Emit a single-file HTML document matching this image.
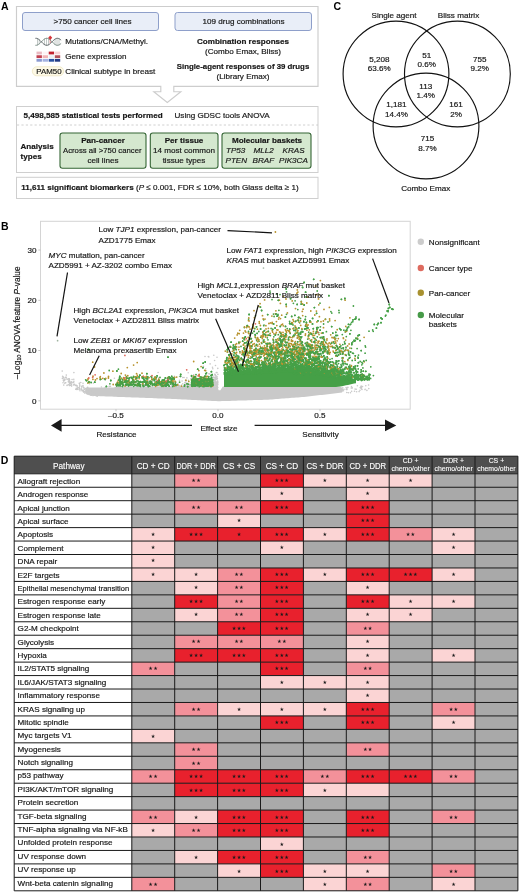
<!DOCTYPE html>
<html><head><meta charset="utf-8"><title>Figure</title>
<style>
html,body{margin:0;padding:0;background:#fff;}
body{width:520px;height:894px;overflow:hidden;position:relative;font-family:"Liberation Sans", Arial, Helvetica, sans-serif;}
svg{position:absolute;left:0;top:0;display:block}
text{font-family:"Liberation Sans", Arial, Helvetica, sans-serif;font-size:8.1px;fill:#151515;stroke:#151515;stroke-width:0.18px;paint-order:stroke}
.b{font-weight:bold}
.i{font-style:italic}
.m{text-anchor:middle}
.e{text-anchor:end}
.lbl{font-weight:bold;font-size:10.5px;fill:#000;stroke:none}
.hd{fill:#fff;stroke:#fff;stroke-width:0.12px;text-anchor:middle;font-size:8.2px}
.hs{fill:#fff;stroke:#fff;stroke-width:0.1px;text-anchor:middle;font-size:6.9px}
.st{font-family:"DejaVu Sans",sans-serif;font-size:5.2px;text-anchor:middle;fill:#1a1a1a;stroke:none}
.ann{font-size:8.1px}
</style></head><body>
<svg width="520" height="894" viewBox="0 0 520 894">
<rect x="0" y="0" width="520" height="894" fill="#fff"/>

<g id="panelA">
<text class="lbl" x="1" y="10.3">A</text>
<path d="M16.5 6.5 H318 V86.3 H173.8 V91.7 H180.8 L167.3 102.5 L153.8 91.7 H160.8 V86.3 H16.5 Z" fill="#fff" stroke="#cdcdcd" stroke-width="1.15"/>
<rect x="22.5" y="12.5" width="136" height="18" rx="2.5" fill="#e9eef8" stroke="#8e9fca" stroke-width="1"/>
<rect x="175" y="12.5" width="136.5" height="18" rx="2.5" fill="#e9eef8" stroke="#8e9fca" stroke-width="1"/>
<text class="m" x="92.5" y="24.4">&gt;750 cancer cell lines</text>
<text class="m" x="243.5" y="24.4">109 drug combinations</text>
<g fill="none" stroke-linecap="round"><path d="M37.5 38.63V44.97M39.2 39.73V43.87M44.5 44.59V39.01M46.5 45.29V38.31M48.5 44.82V38.78M55 39.13V44.47M57 38.32V45.28M59 38.68V44.92" stroke="#8f9c99" stroke-width="0.55"/><path d="M50.2 39.5v3.2" stroke="#d9474a" stroke-width="0.7"/><path d="M35.8 45.29 L36.3 45.29 L36.8 45.20 L37.3 45.05 L37.8 44.82 L38.3 44.53 L38.8 44.18 L39.3 43.78 L39.8 43.34 L40.3 42.86 L40.8 42.36 L41.3 41.85 L41.8 41.34 L42.3 40.84 L42.8 40.35 L43.3 39.90 L43.8 39.49 L44.3 39.13 L44.8 38.83 L45.3 38.59 L45.8 38.42 L46.3 38.32 L46.8 38.30 L47.3 38.35 L47.8 38.48 L48.3 38.68 L48.8 38.94 L49.3 39.27 L49.8 39.65 L50.3 40.08 L50.8 40.54 L51.3 41.04 L51.8 41.54 L52.3 42.06 L52.8 42.56 L53.3 43.06 L53.8 43.52 L54.3 43.95 L54.8 44.33 L55.3 44.66 L55.8 44.92 L56.3 45.12 L56.8 45.25 L57.3 45.30 L57.8 45.28 L58.3 45.18 L58.8 45.01 L59.3 44.77 L59.8 44.47 L60.3 44.11 L60.8 43.70" stroke="#6d8279" stroke-width="0.95"/><path d="M35.8 38.31 L36.3 38.31 L36.8 38.40 L37.3 38.55 L37.8 38.78 L38.3 39.07 L38.8 39.42 L39.3 39.82 L39.8 40.26 L40.3 40.74 L40.8 41.24 L41.3 41.75 L41.8 42.26 L42.3 42.76 L42.8 43.25 L43.3 43.70 L43.8 44.11 L44.3 44.47 L44.8 44.77 L45.3 45.01 L45.8 45.18 L46.3 45.28 L46.8 45.30 L47.3 45.25 L47.8 45.12 L48.3 44.92 L48.8 44.66 L49.3 44.33 L49.8 43.95 L50.3 43.52 L50.8 43.06 L51.3 42.56 L51.8 42.06 L52.3 41.54 L52.8 41.04 L53.3 40.54 L53.8 40.08 L54.3 39.65 L54.8 39.27 L55.3 38.94 L55.8 38.68 L56.3 38.48 L56.8 38.35 L57.3 38.30 L57.8 38.32 L58.3 38.42 L58.8 38.59 L59.3 38.83 L59.8 39.13 L60.3 39.49 L60.8 39.90" stroke="#4f5559" stroke-width="0.95"/></g>
<path d="M50.2 35.6 L52.2 37.8 L50.2 40 L48.2 37.8 Z" fill="#d5343a"/>
<rect x="36.5" y="51.60" width="5.4" height="2.8" fill="#e9b9c1"/>
<rect x="42.6" y="51.60" width="5.4" height="2.8" fill="#fdf3f4"/>
<rect x="48.7" y="51.60" width="5.4" height="2.8" fill="#c0212f"/>
<rect x="54.8" y="51.60" width="5.4" height="2.8" fill="#f8d2d6"/>
<rect x="36.5" y="55.25" width="5.4" height="2.8" fill="#c2404f"/>
<rect x="42.6" y="55.25" width="5.4" height="2.8" fill="#f1b4b6"/>
<rect x="48.7" y="55.25" width="5.4" height="2.8" fill="#e9f0f4"/>
<rect x="54.8" y="55.25" width="5.4" height="2.8" fill="#b2525b"/>
<rect x="36.5" y="58.90" width="5.4" height="2.8" fill="#8a9ad2"/>
<rect x="42.6" y="58.90" width="5.4" height="2.8" fill="#a4b3e2"/>
<rect x="48.7" y="58.90" width="5.4" height="2.8" fill="#2a52a2"/>
<rect x="54.8" y="58.90" width="5.4" height="2.8" fill="#213a84"/>
<rect x="32.3" y="66.7" width="31.4" height="9.1" rx="4.55" fill="#fdf9e6" stroke="#ece4bb" stroke-width="0.7"/>
<text class="m" x="48.9" y="74.3" textLength="25.3" lengthAdjust="spacingAndGlyphs">PAM50</text>
<text x="65.3" y="44.2">Mutations/CNA/Methyl.</text>
<text x="65.3" y="59">Gene expression</text>
<text x="65.3" y="74.3">Clinical subtype in breast</text>
<text class="m b" x="243" y="44.3">Combination responses</text>
<text class="m" x="243" y="54.3">(Combo Emax, Bliss)</text>
<text class="m b" x="243" y="69.3" textLength="132.5" lengthAdjust="spacingAndGlyphs">Single-agent responses of 39 drugs</text>
<text class="m" x="243" y="79.3">(Library Emax)</text>
<rect x="16.5" y="106.5" width="301.5" height="66" fill="#fff" stroke="#cfcfcf" stroke-width="1"/>
<line x1="17" y1="125" x2="318" y2="125" stroke="#c4c4c4" stroke-width="0.8" stroke-dasharray="2.2 2.2"/>
<text class="b" x="23.6" y="118.3">5,498,585 statistical tests performed</text>
<text x="174.5" y="118.3">Using GDSC tools ANOVA</text>
<text class="b" x="20.5" y="148.8">Analysis</text>
<text class="b" x="20.5" y="158.7">types</text>
<rect x="60" y="133" width="86" height="35.3" rx="2.5" fill="#d5e8cf" stroke="#356535" stroke-width="1.1"/>
<rect x="150.3" y="133" width="67.7" height="35.3" rx="2.5" fill="#d5e8cf" stroke="#356535" stroke-width="1.1"/>
<rect x="222" y="133" width="89" height="35.3" rx="2.5" fill="#d5e8cf" stroke="#356535" stroke-width="1.1"/>
<text class="m b" x="103" y="142.7">Pan-cancer</text>
<text class="m" x="102.3" y="152.7" textLength="78.6" lengthAdjust="spacingAndGlyphs">Across all &gt;750 cancer</text>
<text class="m" x="103" y="162.5">cell lines</text>
<text class="m b" x="184" y="142.7">Per tissue</text>
<text class="m" x="184" y="152.7">14 most common</text>
<text class="m" x="184" y="162.5">tissue types</text>
<text class="m b" x="267" y="142.7">Molecular baskets</text>
<text class="i" x="226" y="152.7">TP53</text><text class="i" x="253.5" y="152.7">MLL2</text><text class="i" x="282.5" y="152.7">KRAS</text>
<text class="i" x="225.5" y="162.5">PTEN</text><text class="i" x="252.5" y="162.5">BRAF</text><text class="i" x="279" y="162.5">PIK3CA</text>
<rect x="16.5" y="177.3" width="301.5" height="21.2" fill="#fff" stroke="#cfcfcf" stroke-width="1"/>
<text x="21.2" y="189.8"><tspan class="b">11,611 significant biomarkers</tspan> (<tspan class="i">P</tspan> ≤ 0.001, FDR ≤ 10%, both Glass delta ≥ 1)</text>
</g>
<g id="panelC">
<text class="lbl" x="333.5" y="10">C</text>
<circle cx="396" cy="74" r="52.9" fill="none" stroke="#111" stroke-width="1.15"/>
<circle cx="457.4" cy="74" r="52.9" fill="none" stroke="#111" stroke-width="1.15"/>
<circle cx="426" cy="126" r="52.9" fill="none" stroke="#111" stroke-width="1.15"/>
<text class="m" x="394" y="17.9">Single agent</text>
<text class="m" x="458.5" y="17.9">Bliss matrix</text>
<text class="m" x="425.7" y="190.7">Combo Emax</text>
<text class="m" x="379.3" y="61.5">5,208</text><text class="m" x="379.3" y="71.1">63.6%</text>
<text class="m" x="426.8" y="57.8">51</text><text class="m" x="426.8" y="67.39999999999999">0.6%</text>
<text class="m" x="479.8" y="61.5">755</text><text class="m" x="479.8" y="71.1">9.2%</text>
<text class="m" x="425.7" y="88.8">113</text><text class="m" x="425.7" y="98.39999999999999">1.4%</text>
<text class="m" x="396.5" y="107.4">1,181</text><text class="m" x="396.5" y="117.0">14.4%</text>
<text class="m" x="456" y="107.4">161</text><text class="m" x="456" y="117.0">2%</text>
<text class="m" x="427.6" y="141.4">715</text><text class="m" x="427.6" y="151.0">8.7%</text>
</g>
<g id="panelB">
<text class="lbl" x="1" y="229.5">B</text>
<rect x="40.5" y="221.3" width="369.7" height="187.9" fill="#fff" stroke="#d4d4d4" stroke-width="1"/>
<line x1="38.3" y1="400.8" x2="40.5" y2="400.8" stroke="#bbb" stroke-width="0.8"/>
<text class="e" x="36.5" y="403.7">0</text>
<line x1="38.3" y1="350.5" x2="40.5" y2="350.5" stroke="#bbb" stroke-width="0.8"/>
<text class="e" x="36.5" y="353.4">10</text>
<line x1="38.3" y1="300.3" x2="40.5" y2="300.3" stroke="#bbb" stroke-width="0.8"/>
<text class="e" x="36.5" y="303.2">20</text>
<line x1="38.3" y1="250.0" x2="40.5" y2="250.0" stroke="#bbb" stroke-width="0.8"/>
<text class="e" x="36.5" y="252.9">30</text>
<line x1="116.0" y1="409.2" x2="116.0" y2="411.2" stroke="#bbb" stroke-width="0.8"/>
<text class="m" x="116.0" y="418.2">–0.5</text>
<line x1="218.0" y1="409.2" x2="218.0" y2="411.2" stroke="#bbb" stroke-width="0.8"/>
<text class="m" x="218.0" y="418.2">0.0</text>
<line x1="320.0" y1="409.2" x2="320.0" y2="411.2" stroke="#bbb" stroke-width="0.8"/>
<text class="m" x="320.0" y="418.2">0.5</text>
<text class="m" style="font-size:8.27px" transform="translate(19.5,322.8) rotate(-90)">–Log<tspan font-size="5.6px" dy="1.8">10</tspan><tspan dy="-1.8"> ANOVA feature </tspan><tspan class="i">P</tspan>-value</text>
<text class="m" x="219" y="430.8">Effect size</text>
<text class="m" x="116.5" y="437.4">Resistance</text>
<text class="m" x="320.5" y="437.4">Sensitivity</text>
<path d="M60 425.4 H192 M254.6 425.4 H386" stroke="#1a1a1a" stroke-width="1.3" fill="none"/>
<path d="M51 425.4 L61.6 419 V431.8 Z M396.3 425.4 L385 419.6 V431.2 Z" fill="#1a1a1a"/>
<path d="M86.0 387.4 L88.0 387.4 L90.0 387.4 L92.0 387.4 L94.0 387.4 L96.0 387.4 L98.0 387.4 L100.0 387.4 L102.0 387.4 L104.0 387.4 L106.0 387.4 L108.0 387.4 L110.0 387.4 L112.0 387.4 L114.0 387.4 L116.0 386.6 L118.0 386.6 L120.0 386.6 L122.0 386.6 L124.0 386.6 L126.0 386.6 L128.0 386.6 L130.0 386.6 L132.0 386.6 L134.0 386.6 L136.0 386.6 L138.0 386.6 L140.0 386.6 L142.0 386.6 L144.0 386.6 L146.0 386.6 L148.0 386.6 L150.0 386.6 L152.0 386.6 L154.0 386.6 L156.0 386.6 L158.0 386.6 L160.0 386.6 L162.0 386.6 L164.0 386.6 L166.0 386.6 L168.0 386.6 L170.0 386.6 L172.0 386.6 L174.0 386.6 L176.0 386.6 L178.0 386.6 L180.0 386.6 L182.0 386.6 L184.0 386.6 L186.0 386.6 L188.0 386.6 L190.0 386.6 L192.0 386.6 L194.0 386.6 L196.0 386.6 L198.0 386.6 L200.0 386.6 L202.0 386.6 L204.0 386.6 L206.0 386.6 L208.0 386.6 L210.0 386.6 L212.0 386.6 L214.0 386.6 L216.0 386.6 L217.6 386.6 L218.6 390.3 L220.4 390.3 L222.8 386.6 L224.0 386.6 L226.0 386.6 L228.0 386.6 L230.0 386.6 L232.0 386.6 L234.0 386.6 L236.0 386.6 L238.0 386.6 L240.0 386.6 L242.0 386.6 L244.0 386.6 L246.0 386.6 L248.0 386.6 L250.0 386.6 L252.0 386.6 L254.0 386.6 L256.0 386.6 L258.0 386.6 L260.0 386.6 L262.0 386.6 L264.0 386.6 L266.0 386.6 L268.0 386.6 L270.0 386.6 L272.0 386.6 L274.0 386.6 L276.0 386.6 L278.0 386.6 L280.0 386.6 L282.0 386.6 L284.0 386.6 L286.0 386.6 L288.0 386.6 L290.0 386.6 L292.0 386.6 L294.0 386.6 L296.0 386.6 L298.0 386.6 L300.0 386.6 L302.0 386.6 L304.0 386.6 L306.0 386.6 L308.0 386.6 L310.0 386.6 L312.0 386.6 L314.0 386.6 L316.0 386.6 L318.0 386.6 L320.0 386.6 L322.0 386.6 L324.0 386.6 L326.0 386.6 L328.0 386.6 L330.0 386.6 L332.0 386.6 L334.0 386.6 L336.0 386.6 L338.0 386.6 L340.0 386.6 L342.5 388.0 L343.0 391.0 L342.0 392.4 L340.0 392.7 L338.0 392.9 L336.0 393.2 L334.0 393.5 L332.0 393.7 L330.0 394.0 L328.0 394.2 L326.0 394.4 L324.0 394.7 L322.0 394.9 L320.0 395.1 L318.0 395.3 L316.0 395.6 L314.0 395.8 L312.0 396.0 L310.0 396.2 L308.0 396.5 L306.0 396.7 L304.0 396.9 L302.0 397.0 L300.0 397.2 L298.0 397.4 L296.0 397.5 L294.0 397.7 L292.0 397.8 L290.0 398.0 L288.0 398.2 L286.0 398.3 L284.0 398.5 L282.0 398.6 L280.0 398.8 L278.0 399.0 L276.0 399.1 L274.0 399.3 L272.0 399.4 L270.0 399.6 L268.0 399.7 L266.0 399.7 L264.0 399.8 L262.0 399.9 L260.0 399.9 L258.0 400.0 L256.0 400.0 L254.0 400.1 L252.0 400.2 L250.0 400.2 L248.0 400.3 L246.0 400.4 L244.0 400.4 L242.0 400.5 L240.0 400.5 L238.0 400.6 L236.0 400.7 L234.0 400.7 L232.0 400.8 L230.0 400.9 L228.0 400.9 L226.0 401.0 L224.0 401.0 L222.0 401.1 L220.0 401.2 L218.0 401.2 L216.0 401.1 L214.0 401.0 L212.0 400.9 L210.0 400.8 L208.0 400.7 L206.0 400.6 L204.0 400.5 L202.0 400.4 L200.0 400.3 L198.0 400.2 L196.0 400.1 L194.0 400.0 L192.0 399.9 L190.0 399.8 L188.0 399.7 L186.0 399.6 L184.0 399.5 L182.0 399.4 L180.0 399.3 L178.0 399.2 L176.0 399.1 L174.0 399.0 L172.0 398.9 L170.0 398.8 L168.0 398.7 L166.0 398.7 L164.0 398.6 L162.0 398.5 L160.0 398.4 L158.0 398.4 L156.0 398.3 L154.0 398.2 L152.0 398.1 L150.0 398.1 L148.0 398.0 L146.0 397.9 L144.0 397.8 L142.0 397.8 L140.0 397.7 L138.0 397.6 L136.0 397.5 L134.0 397.5 L132.0 397.4 L130.0 397.3 L128.0 397.2 L126.0 397.2 L124.0 397.1 L122.0 397.0 L120.0 396.9 L118.0 396.9 L116.0 396.8 L114.0 396.7 L112.0 396.6 L110.0 396.6 L108.0 396.5 L106.0 396.4 L104.0 396.3 L102.0 396.3 L100.0 396.2 L98.0 396.1 L96.0 396.0 L94.0 395.8 L92.0 395.4 L90.0 395.0 L88.0 394.6 L86.0 394.2 Z" fill="#c9c9c9"/>
<path d="M85.8 390.6h0M70.6 382.3h0M62.2 371.1h0M79.8 389.4h0M71.7 382.8h0M83.0 383.2h0M70.2 383.2h0M63.7 381.1h0M79.7 384.2h0M81.5 388.9h0M62.4 378.4h0M69.6 384.0h0M93.5 395.1h0M95.5 392.5h0M86.3 388.6h0M82.6 390.4h0M75.7 389.3h0M76.7 389.5h0M93.0 390.9h0M84.4 389.4h0M87.7 393.9h0M71.1 385.3h0M98.8 393.5h0M73.4 382.2h0M67.0 379.2h0M96.3 394.2h0M69.3 378.9h0M68.9 379.9h0M83.6 390.5h0M71.1 383.1h0M79.8 385.5h0M90.6 395.1h0M63.2 376.9h0M87.0 392.2h0M95.2 394.8h0M88.0 393.4h0M91.1 392.3h0M97.5 396.1h0M92.8 394.8h0M93.0 395.6h0M92.1 392.6h0M70.6 385.3h0M68.8 379.8h0M83.8 391.5h0M98.2 394.8h0M81.6 387.1h0M90.2 394.4h0M95.4 394.3h0M64.6 380.4h0M98.1 394.9h0M87.7 387.4h0M98.9 393.1h0M69.7 385.6h0M96.8 394.5h0M84.9 391.7h0M87.1 393.0h0M79.7 388.6h0M69.0 384.7h0M91.0 392.0h0M66.3 375.1h0M95.4 394.8h0M63.8 385.1h0M71.6 386.1h0M83.5 392.1h0M68.3 384.8h0M73.8 379.2h0M92.8 391.6h0M69.3 382.8h0M92.5 390.5h0M63.9 378.0h0M66.3 377.2h0M73.9 372.6h0M66.9 378.8h0M69.5 379.8h0M85.2 392.9h0M86.0 391.5h0M95.0 393.6h0M63.0 382.7h0M83.4 391.6h0M71.6 381.7h0M65.8 382.8h0M87.2 390.1h0M76.1 385.7h0M71.4 384.5h0M65.1 379.3h0M73.4 385.0h0M67.0 385.4h0M65.1 382.7h0M73.6 382.4h0M69.1 380.0h0M76.3 388.2h0M89.6 383.8h0M87.6 388.0h0M81.7 386.4h0M72.1 379.5h0M96.1 395.8h0M92.4 391.3h0M99.9 393.4h0M91.5 395.2h0M69.0 380.8h0M89.4 392.9h0M78.0 387.7h0M82.6 390.8h0M89.4 393.4h0M96.9 394.5h0M90.9 391.5h0M93.4 383.1h0M65.5 377.4h0M68.7 378.8h0M90.5 393.9h0M70.3 382.7h0M80.0 390.7h0M73.9 381.2h0M64.2 379.2h0M77.0 388.7h0M63.3 380.3h0M68.7 381.1h0M69.0 381.0h0M82.0 390.7h0M85.9 390.0h0M92.1 392.8h0M67.2 379.5h0M97.8 394.7h0M69.9 382.5h0M96.8 396.0h0M84.8 393.1h0M79.7 386.2h0M93.5 390.1h0M94.3 394.9h0M73.5 385.0h0M68.3 381.7h0M74.5 384.2h0M81.5 389.6h0M83.9 387.6h0M92.5 392.1h0M98.1 393.4h0M88.3 391.1h0M87.4 393.0h0M91.2 394.4h0M62.6 376.2h0M77.5 387.1h0M89.8 393.9h0M83.2 387.1h0M79.2 387.5h0M64.8 383.2h0M69.4 381.0h0M79.3 383.4h0M83.0 385.6h0M85.6 388.5h0M86.4 391.0h0M77.1 385.8h0M79.7 385.2h0M74.8 384.7h0M94.1 393.4h0M89.1 394.6h0M94.7 394.6h0M87.3 392.4h0M78.0 389.4h0M73.1 382.7h0M75.4 385.2h0M84.1 388.9h0M76.3 385.3h0M80.8 382.5h0M94.9 395.3h0M69.5 381.1h0M93.4 394.7h0M79.4 383.3h0M69.7 381.7h0M91.3 394.9h0M93.1 393.6h0M362.5 386.6h0M361.3 387.6h0M361.1 386.8h0M356.3 389.2h0M360.9 386.5h0M351.2 388.0h0M344.0 389.2h0M365.2 389.3h0M347.9 387.4h0M351.6 391.3h0M356.6 391.7h0M361.7 389.1h0M365.0 389.6h0M352.3 387.9h0M355.1 389.1h0M346.3 389.4h0M361.2 386.0h0M346.1 387.6h0M350.5 392.7h0M342.8 387.7h0M347.0 389.6h0M342.5 389.5h0M346.9 388.3h0M365.8 385.8h0M360.5 387.9h0M354.5 391.3h0M346.8 392.5h0M368.8 388.6h0M343.5 390.8h0M360.0 390.3h0M348.4 392.7h0M368.6 385.0h0M351.5 386.5h0M366.9 390.4h0M362.0 389.5h0M359.1 391.6h0M360.2 387.5h0M357.4 385.7h0M200.9 385.9h0M195.4 386.4h0M216.3 386.6h0M211.8 383.6h0M211.9 386.8h0M186.0 382.3h0M178.1 386.9h0M217.9 382.8h0M182.4 386.9h0M182.8 377.5h0M201.0 385.3h0M185.5 384.7h0M189.3 386.8h0M209.3 386.8h0M207.7 387.5h0M186.3 386.2h0M210.1 384.1h0M205.2 387.2h0M197.1 379.2h0M213.4 379.5h0M199.4 386.0h0M194.3 380.5h0M172.3 386.6h0M120.7 381.9h0M216.3 372.6h0M194.5 386.6h0M132.0 385.1h0M164.8 385.5h0M175.1 384.9h0M215.7 386.1h0M210.9 384.9h0M207.2 386.4h0M161.7 386.5h0M135.2 378.8h0M193.5 386.2h0M201.6 386.7h0M206.4 376.0h0M203.1 383.5h0M210.5 384.8h0M164.8 384.4h0M217.9 384.3h0M205.5 383.5h0M207.8 384.7h0M149.7 385.6h0M205.5 378.9h0M200.9 386.8h0M172.4 386.8h0M213.7 384.1h0M189.9 385.0h0M187.5 385.2h0M184.1 377.5h0M193.7 386.0h0M196.4 387.4h0M202.1 383.8h0M197.9 383.4h0M189.5 385.8h0M198.4 386.3h0M191.1 386.3h0M214.8 379.3h0M156.8 381.0h0M216.3 378.3h0M187.5 387.1h0M206.2 386.0h0M215.6 384.5h0M205.6 386.1h0M190.0 387.1h0M211.1 386.3h0M205.1 380.6h0M191.1 387.1h0M186.5 383.9h0M215.1 381.2h0M193.7 374.9h0M217.9 374.4h0M209.4 382.9h0M197.9 385.1h0M211.2 387.2h0M210.7 387.4h0M179.8 386.8h0M189.2 385.4h0M209.7 386.1h0M215.3 381.8h0M201.4 386.9h0M209.4 386.0h0M199.5 385.7h0M144.5 387.0h0M190.1 385.5h0M207.4 382.9h0M167.8 380.3h0M208.1 379.5h0M204.5 387.4h0M160.3 382.9h0M210.0 384.3h0M216.6 384.3h0M179.5 376.5h0M216.8 377.8h0M183.5 387.4h0M186.9 385.8h0M205.8 380.3h0M185.7 382.8h0M148.1 380.6h0M126.5 381.9h0M211.8 384.4h0M197.0 385.2h0M172.3 384.8h0M198.1 381.9h0M202.9 384.9h0M194.0 384.8h0M216.2 386.3h0M216.0 375.9h0M196.8 383.8h0M193.8 385.6h0M201.1 385.6h0M184.7 382.8h0M209.8 385.9h0M212.8 386.2h0M215.3 374.5h0M110.5 386.2h0M184.4 387.4h0M193.3 380.3h0M212.3 387.1h0M194.7 383.3h0M214.1 385.1h0M215.5 365.5h0M214.2 385.9h0M213.3 377.4h0M197.4 385.8h0M174.1 383.8h0M214.6 384.0h0M171.7 386.3h0M200.0 387.4h0M217.9 387.3h0M211.6 387.4h0M187.3 383.5h0M213.6 387.5h0M119.8 382.5h0M215.8 382.5h0M216.5 384.8h0M144.1 385.2h0M206.3 387.5h0M212.1 387.5h0M216.4 386.2h0M216.8 386.7h0M161.2 385.2h0M188.6 387.0h0M205.8 383.4h0M202.4 380.7h0M213.8 386.7h0M201.0 380.2h0M194.1 387.6h0M181.3 387.3h0M212.9 377.7h0M197.5 382.1h0M214.8 385.3h0M217.0 384.1h0M186.1 386.7h0M130.9 386.8h0M200.6 384.1h0M217.2 386.2h0M202.6 384.9h0M129.3 379.6h0M190.4 386.9h0M203.1 386.4h0M202.3 387.6h0M212.1 380.5h0M165.9 387.4h0M188.7 386.8h0M174.2 381.4h0M178.2 386.6h0M216.4 382.8h0M169.6 386.2h0M152.4 380.8h0M208.6 376.6h0M217.7 381.0h0M205.5 387.1h0M185.5 380.7h0M213.3 383.8h0M186.1 387.6h0M206.9 387.1h0M145.4 385.5h0M214.8 385.4h0M126.5 385.8h0M191.0 378.8h0M191.2 385.1h0M185.4 385.3h0M139.6 385.7h0M143.3 384.1h0M201.8 379.5h0M216.2 379.2h0M185.1 385.8h0M217.3 381.6h0M185.1 385.5h0M209.1 384.7h0M187.5 383.3h0M157.4 386.1h0M152.3 386.7h0M155.1 385.8h0M200.1 383.8h0M215.5 377.3h0M199.7 386.7h0M188.4 380.2h0M160.4 387.2h0M215.7 381.6h0M206.4 384.2h0M164.1 386.7h0M181.3 386.7h0M212.9 383.7h0M152.3 384.7h0M167.0 385.2h0M211.4 385.7h0M211.2 383.6h0M203.0 382.6h0M200.6 386.9h0M169.8 387.3h0M174.4 376.3h0M217.6 384.9h0M212.5 387.0h0M157.6 384.7h0M203.4 387.4h0M179.5 380.2h0M202.3 385.9h0M196.0 386.0h0M194.5 382.2h0M195.8 385.8h0M204.6 387.1h0M182.7 383.7h0M213.1 385.0h0M174.1 385.8h0M204.8 383.9h0M164.8 384.9h0M164.3 385.0h0M155.5 385.3h0M179.8 385.7h0M202.2 386.3h0M185.0 386.5h0M215.9 375.7h0M214.9 381.1h0M213.2 385.6h0M216.8 383.5h0M186.1 386.2h0M142.7 384.1h0M204.2 382.7h0M217.7 382.3h0M203.3 387.2h0M199.8 386.1h0M199.1 387.2h0M105.2 387.5h0M208.8 373.8h0M208.6 387.0h0M166.9 385.3h0M142.9 383.8h0M175.1 387.2h0M155.3 381.5h0M142.4 384.9h0M211.9 374.6h0M186.9 377.9h0M217.0 372.5h0M207.3 386.7h0M197.0 386.1h0M188.2 372.8h0M217.1 385.4h0M123.5 385.1h0M172.2 386.2h0M188.3 387.0h0M172.9 380.2h0M149.4 387.5h0M163.3 383.8h0M179.2 385.6h0M190.9 378.8h0M201.7 383.7h0M177.9 385.2h0M163.0 384.0h0M209.0 383.2h0M125.0 386.5h0M185.3 386.9h0M168.3 387.6h0M215.2 380.4h0M202.7 381.7h0M207.9 384.1h0M188.0 386.6h0M206.5 384.1h0M192.2 384.7h0M209.1 381.0h0M214.1 384.5h0M182.1 381.0h0M210.8 383.4h0M149.7 382.8h0M211.5 385.2h0M213.8 382.8h0M214.9 378.1h0M212.1 386.7h0M148.2 380.8h0M207.2 387.6h0M202.5 387.4h0M189.8 387.0h0M123.5 384.9h0M206.4 386.5h0M149.6 387.0h0M207.7 387.1h0M109.2 386.4h0M208.8 382.0h0M212.3 382.4h0M211.3 387.5h0M178.1 384.0h0M204.9 387.4h0M215.3 384.6h0M217.1 376.7h0M164.7 384.3h0M135.1 387.5h0M215.5 379.2h0M201.4 383.9h0M212.6 385.0h0M213.8 384.9h0M201.9 380.8h0M121.8 383.6h0M198.6 387.1h0M158.1 372.5h0M217.3 382.6h0M206.4 382.5h0M204.6 382.8h0M162.2 381.5h0M195.9 386.9h0M175.7 387.3h0M146.9 385.6h0M211.0 385.3h0M213.4 385.0h0M205.3 383.1h0M129.2 383.8h0M204.6 384.3h0M217.3 386.7h0M200.3 383.0h0M205.1 381.5h0M117.1 387.1h0M175.0 384.3h0M204.3 384.6h0M189.4 385.2h0M209.8 385.1h0M215.7 383.4h0M200.5 382.2h0M208.4 384.4h0M209.6 386.7h0M163.3 385.5h0M101.4 387.0h0M201.6 385.1h0M192.4 386.9h0M209.7 380.6h0M158.9 377.9h0M159.2 387.4h0M204.3 385.8h0M212.5 382.2h0M172.7 378.1h0M195.7 383.3h0M175.0 383.6h0M209.0 380.5h0M188.0 385.8h0M217.8 368.4h0M192.4 386.1h0M213.4 384.4h0M166.5 382.7h0M208.0 379.9h0M216.4 383.7h0M215.1 382.4h0M209.5 386.3h0M212.9 386.0h0M187.1 384.4h0M209.5 385.1h0M181.6 385.0h0M114.4 378.2h0M214.0 380.1h0M154.5 381.1h0M147.8 385.8h0M197.8 386.4h0M212.5 375.2h0M176.3 385.8h0M209.3 387.5h0M191.2 384.7h0M187.1 387.0h0M215.2 375.6h0M213.2 385.3h0M216.6 387.1h0M179.8 385.8h0M186.1 380.7h0M199.1 383.0h0M171.8 386.5h0M130.8 381.9h0M171.7 385.8h0M142.0 384.4h0M176.3 386.0h0M202.8 385.6h0M213.7 383.8h0M211.5 384.0h0M166.3 385.9h0M191.8 377.7h0M205.0 383.8h0M213.9 385.0h0M191.2 386.9h0M209.6 373.9h0M128.2 382.5h0M210.3 384.8h0M207.9 387.2h0M195.7 386.3h0M166.2 386.1h0M203.5 366.4h0M206.2 380.4h0M161.9 384.1h0M197.7 387.1h0M204.2 387.2h0M204.5 382.9h0M191.1 386.9h0M198.5 387.5h0M217.8 381.8h0M204.4 386.1h0M213.2 382.8h0M209.7 386.4h0M213.4 385.5h0M214.3 380.1h0M210.8 380.6h0M212.8 376.1h0M214.6 385.8h0M210.2 384.9h0M204.5 385.4h0M206.6 378.4h0M213.8 355.2h0M213.1 380.6h0M208.7 382.9h0M207.3 385.5h0M214.2 386.3h0M207.0 381.1h0M212.8 368.7h0M213.5 382.4h0M205.6 382.3h0M207.1 376.8h0M217.4 378.4h0M203.5 382.8h0M214.6 360.5h0M211.6 384.4h0M208.1 382.2h0M215.5 384.8h0M205.8 386.5h0M205.0 356.5h0M212.1 383.0h0M208.3 376.8h0M212.6 384.8h0M208.8 356.9h0M213.0 378.2h0M205.7 368.8h0M209.8 383.5h0M210.8 385.3h0M206.4 386.1h0M205.8 385.6h0M209.0 385.7h0M208.3 356.6h0M203.3 382.9h0M214.7 374.2h0M209.4 379.7h0M210.9 381.7h0M215.4 377.7h0M207.7 385.5h0M215.9 385.6h0M212.5 367.2h0M214.6 382.1h0M210.1 363.9h0M209.7 383.3h0M210.0 384.1h0M214.1 377.3h0M205.0 383.2h0M208.6 384.0h0M216.9 379.7h0M217.0 357.2h0M212.8 383.4h0M208.4 386.6h0M215.1 382.6h0M204.1 384.1h0" stroke="#c9c9c9" stroke-width="1.6" stroke-linecap="round" fill="none"/>
<path d="M224.0 386.9 L226.0 386.9 L228.0 386.9 L230.0 386.9 L232.0 386.9 L234.0 386.9 L236.0 386.9 L238.0 386.9 L240.0 386.9 L242.0 386.9 L244.0 386.9 L246.0 386.9 L248.0 386.9 L250.0 386.9 L252.0 386.9 L254.0 386.9 L256.0 386.9 L258.0 386.9 L260.0 386.9 L262.0 386.9 L264.0 386.9 L266.0 386.9 L268.0 386.9 L270.0 386.9 L272.0 386.9 L274.0 386.9 L276.0 386.9 L278.0 386.9 L280.0 386.9 L282.0 386.9 L284.0 386.9 L286.0 386.9 L288.0 386.9 L290.0 386.9 L292.0 386.9 L294.0 386.9 L296.0 386.9 L298.0 386.9 L300.0 386.9 L302.0 386.9 L304.0 386.9 L306.0 386.9 L308.0 386.9 L310.0 386.9 L312.0 386.9 L314.0 386.9 L316.0 386.9 L318.0 386.9 L320.0 386.9 L322.0 386.9 L324.0 386.9 L326.0 386.9 L328.0 386.9 L330.0 386.9 L332.0 386.9 L334.0 386.9 L336.0 386.9 L338.0 386.8 L340.0 386.6 L342.0 386.3 L344.0 385.8 L346.0 385.3 L348.0 384.9 L350.0 384.4 L352.0 384.0 L354.0 383.6 L356.0 383.2 L356.0 379.3 L354.0 379.0 L352.0 378.7 L350.0 378.4 L348.0 378.3 L346.0 378.2 L344.0 378.1 L342.0 378.0 L340.0 377.6 L338.0 377.3 L336.0 376.8 L334.0 376.2 L332.0 375.6 L330.0 375.0 L328.0 374.4 L326.0 373.8 L324.0 373.2 L322.0 372.6 L320.0 372.0 L318.0 371.5 L316.0 371.1 L314.0 370.6 L312.0 370.2 L310.0 369.7 L308.0 369.2 L306.0 368.8 L304.0 368.8 L302.0 368.8 L300.0 368.8 L298.0 368.8 L296.0 368.8 L294.0 368.8 L292.0 368.8 L290.0 368.8 L288.0 368.8 L286.0 368.8 L284.0 368.8 L282.0 368.8 L280.0 368.8 L278.0 368.9 L276.0 369.1 L274.0 369.3 L272.0 369.4 L270.0 369.6 L268.0 369.7 L266.0 369.9 L264.0 370.1 L262.0 370.2 L260.0 370.4 L258.0 370.5 L256.0 370.5 L254.0 370.6 L252.0 370.7 L250.0 370.8 L248.0 370.8 L246.0 370.9 L244.0 371.0 L242.0 371.1 L240.0 371.1 L238.0 371.2 L236.0 371.3 L234.0 371.5 L232.0 371.7 L230.0 371.9 L228.0 372.2 L226.0 372.4 L224.0 372.6 Z" fill="#45a047"/>
<path d="M169.8 378.6h0M129.4 377.8h0M125.7 384.3h0M119.7 383.9h0M139.1 384.3h0M145.8 382.0h0M143.5 377.9h0M139.8 382.8h0M162.5 382.9h0M118.2 384.9h0M126.3 384.5h0M147.9 385.0h0M160.1 382.0h0M150.6 384.0h0M147.1 384.9h0M162.9 386.2h0M128.1 381.0h0M148.2 386.1h0M172.1 384.1h0M126.0 382.1h0M156.5 385.1h0M158.2 383.9h0M117.4 384.8h0M129.7 384.1h0M125.2 381.2h0M125.7 381.2h0M166.3 385.9h0M145.9 382.1h0M145.8 383.9h0M125.7 384.9h0M163.0 385.3h0M134.8 384.3h0M156.5 377.3h0M143.1 385.1h0M120.1 382.8h0M132.7 379.9h0M121.5 381.8h0M169.1 377.0h0M173.6 384.6h0M116.8 386.0h0M157.3 381.8h0M135.6 376.8h0M150.0 381.3h0M127.8 384.5h0M133.7 381.8h0M166.1 383.1h0M157.6 384.3h0M133.5 381.4h0M137.6 383.7h0M137.0 380.4h0M160.0 377.4h0M158.7 380.7h0M128.8 384.0h0M133.5 377.0h0M136.0 381.8h0M164.3 379.6h0M175.5 382.2h0M147.9 381.9h0M163.1 380.3h0M136.0 385.1h0M122.5 379.8h0M133.1 382.3h0M151.8 383.3h0M173.7 385.1h0M147.7 376.9h0M152.1 383.3h0M170.3 378.0h0M120.0 379.6h0M133.5 381.7h0M165.4 384.7h0M160.7 384.3h0M126.0 380.6h0M145.8 382.3h0M124.7 382.0h0M168.2 384.4h0M126.6 385.1h0M138.8 383.8h0M155.1 377.1h0M169.9 382.0h0M147.6 378.8h0M130.3 385.0h0M117.4 383.2h0M162.4 385.2h0M123.3 385.1h0M172.5 379.0h0M128.1 378.6h0M118.7 380.1h0M151.7 381.9h0M156.5 383.1h0M120.5 383.8h0M161.9 386.3h0M134.8 385.2h0M140.1 382.2h0M175.4 384.4h0M160.1 384.7h0M128.6 385.8h0M121.2 382.2h0M157.9 384.9h0M122.9 382.8h0M138.2 385.3h0M150.8 382.2h0M175.4 382.4h0M155.1 383.0h0M122.4 386.3h0M162.7 382.3h0M123.6 382.6h0M146.2 378.6h0M120.0 381.7h0M166.1 383.2h0M160.1 383.7h0M126.8 378.1h0M142.7 383.8h0M153.6 384.5h0M157.8 383.2h0M161.2 383.8h0M159.1 380.4h0M139.1 377.0h0M150.5 381.5h0M136.8 377.9h0M137.8 385.9h0M162.4 380.2h0M167.6 378.2h0M148.2 384.4h0M170.1 382.2h0M127.0 383.2h0M130.5 384.6h0M133.6 376.4h0M119.8 376.5h0M129.5 382.6h0M131.3 382.4h0M163.3 383.1h0M156.1 378.0h0M174.2 379.0h0M132.5 378.5h0M133.3 381.8h0M136.2 378.3h0M175.5 382.7h0M148.0 382.3h0M162.8 385.1h0M156.9 381.7h0M160.1 384.1h0M118.7 385.8h0M129.3 384.6h0M172.1 382.8h0M165.3 386.0h0M126.2 381.3h0M140.9 382.2h0M126.5 376.7h0M165.6 384.7h0M158.9 382.6h0M166.1 381.7h0M171.6 382.1h0M139.3 385.4h0M131.5 377.8h0M124.2 381.0h0M120.2 380.1h0M133.7 386.3h0M167.6 378.3h0M127.7 381.5h0M142.6 376.8h0M133.7 384.3h0M143.7 386.3h0M151.7 377.2h0M140.6 381.6h0M167.1 384.8h0M168.2 380.2h0M138.9 383.3h0M132.0 385.0h0M122.0 381.4h0M154.5 384.1h0M144.3 382.0h0M129.0 379.0h0M167.1 381.3h0M161.6 381.4h0M157.7 381.4h0M132.2 382.1h0M146.8 383.1h0M164.4 382.4h0M119.8 376.8h0M171.3 378.8h0M137.3 385.2h0M146.5 384.2h0M154.0 378.7h0M152.8 384.3h0M172.8 386.3h0M167.6 381.9h0M170.3 384.0h0M128.9 380.8h0M164.3 381.0h0M161.4 385.8h0M169.5 378.6h0M158.3 382.7h0M148.4 386.4h0M166.0 386.0h0M147.2 381.6h0M173.3 383.0h0M165.0 384.1h0M167.6 382.9h0M126.6 377.8h0M175.8 385.4h0M133.2 383.9h0M171.3 379.9h0M167.6 379.1h0M145.5 384.9h0M138.7 384.2h0M121.6 382.7h0M143.4 378.6h0M161.7 382.0h0M119.6 379.9h0M172.2 381.1h0M130.8 383.5h0M169.2 386.2h0M152.3 379.5h0M154.6 385.0h0M116.1 384.6h0M132.0 382.2h0M144.6 380.4h0M140.3 386.3h0M143.6 381.5h0M165.0 385.4h0M151.0 376.6h0M136.5 385.7h0M120.2 385.7h0M155.4 382.5h0M128.7 381.2h0M131.6 381.8h0M142.7 382.0h0M142.4 378.2h0M155.9 379.1h0M166.5 383.8h0M119.5 378.1h0M138.3 381.4h0M166.1 384.5h0M128.8 385.5h0M171.9 382.7h0M167.9 385.1h0M155.3 384.7h0M143.8 379.2h0M154.5 383.7h0M145.5 381.3h0M168.4 381.8h0M150.7 382.2h0M120.1 383.0h0M121.9 383.0h0M142.5 376.9h0M162.7 385.6h0M173.3 383.6h0M140.4 384.9h0M122.2 383.9h0M154.4 380.4h0M139.1 382.0h0M142.8 385.8h0M121.7 383.0h0M176.0 385.6h0M142.5 382.2h0M149.7 383.2h0M171.7 376.5h0M122.3 382.1h0M152.4 385.3h0M120.2 385.1h0M135.1 382.0h0M130.9 383.7h0M149.6 386.2h0M134.5 382.1h0M167.8 385.2h0M133.6 382.0h0M146.3 377.4h0M119.1 384.3h0M156.8 384.4h0M121.7 378.4h0M206.8 385.3h0M192.6 383.1h0M195.9 379.1h0M210.9 382.0h0M204.4 383.7h0M192.9 380.6h0M195.0 380.3h0M205.5 383.3h0M191.6 382.5h0M200.1 386.1h0M206.1 380.9h0M212.9 384.9h0M210.1 380.4h0M194.1 385.7h0M195.4 381.5h0M196.1 380.3h0M203.8 381.1h0M198.1 382.4h0M201.0 378.3h0M211.3 381.3h0M204.3 385.9h0M196.7 383.6h0M205.2 385.1h0M210.4 379.3h0M199.9 383.1h0M200.6 384.3h0M200.8 383.0h0M208.4 383.4h0M199.8 379.0h0M212.8 382.3h0M200.7 384.4h0M211.9 384.3h0M200.1 382.3h0M193.9 381.2h0M209.5 382.7h0M210.9 383.2h0M199.1 384.6h0M193.6 378.0h0M206.7 380.9h0M203.1 386.4h0M197.2 379.8h0M199.0 384.3h0M205.3 385.8h0M199.4 378.4h0M200.6 384.6h0M210.3 383.5h0M196.7 378.7h0M210.5 378.9h0M209.7 384.8h0M209.3 384.9h0M194.5 382.6h0M192.7 385.5h0M205.8 373.7h0M199.6 384.1h0M208.8 379.9h0M206.2 384.6h0M211.1 375.6h0M205.6 379.2h0M203.7 381.8h0M207.0 382.2h0M191.7 383.7h0M196.6 379.2h0M205.4 376.2h0M202.5 380.7h0M211.8 380.1h0M193.0 381.6h0M201.0 385.1h0M197.0 379.3h0M210.0 380.6h0M211.0 386.4h0M198.0 382.8h0M211.0 379.3h0M205.6 383.4h0M191.6 375.7h0M196.8 384.2h0M204.2 380.3h0M194.3 382.7h0M198.4 379.1h0M209.3 383.4h0M200.5 382.8h0M198.2 383.7h0M209.6 380.8h0M207.2 379.2h0M211.8 381.6h0M193.9 381.7h0M212.2 374.7h0M207.7 380.3h0M195.5 379.1h0M198.7 381.3h0M193.6 379.6h0M202.6 380.9h0M199.3 379.8h0M208.7 376.8h0M212.8 383.6h0M201.5 377.3h0M209.8 382.4h0M194.6 380.4h0M205.4 380.8h0M191.6 376.0h0M208.0 384.5h0M200.5 381.2h0M206.4 382.6h0M200.0 379.6h0M206.9 386.1h0M200.0 383.7h0M211.1 381.2h0M195.2 382.8h0M208.0 386.0h0M203.5 383.8h0M203.5 384.5h0M196.1 381.9h0M197.8 385.3h0M208.1 382.4h0M193.8 384.4h0M212.7 383.8h0M200.2 379.9h0M200.4 376.8h0M212.3 381.5h0M211.1 383.9h0M212.7 379.9h0M212.0 379.5h0M195.0 386.2h0M204.3 386.3h0M194.2 386.2h0M200.1 384.0h0M208.4 383.9h0M197.4 385.8h0M200.5 380.1h0M204.7 376.4h0M200.9 378.7h0M196.9 379.4h0M204.5 385.5h0M199.9 385.7h0M208.5 384.1h0M203.2 383.3h0M199.9 380.6h0M210.4 384.9h0M212.3 381.7h0M212.8 382.2h0M208.9 379.4h0M208.8 378.6h0M205.7 378.4h0M204.7 378.9h0M193.3 380.1h0M194.3 385.4h0M203.9 381.4h0M198.9 381.8h0M201.0 383.0h0M200.3 384.2h0M202.5 381.1h0M208.8 383.4h0M202.3 379.9h0M212.8 385.5h0M198.9 383.2h0M211.9 379.3h0M201.0 384.2h0M198.2 384.1h0M201.9 386.1h0M193.6 379.9h0M206.4 383.7h0M201.2 379.9h0M201.7 381.2h0M206.8 382.8h0M195.9 379.6h0M208.2 379.9h0M191.8 384.4h0M202.1 383.1h0M211.9 384.6h0M200.3 382.6h0M211.0 375.5h0M210.5 385.1h0M196.8 381.2h0M195.8 383.4h0M201.5 377.9h0M199.2 384.2h0M210.2 385.7h0M197.0 382.8h0M194.8 383.2h0M201.6 384.1h0M201.8 380.2h0M196.2 380.5h0M203.6 381.5h0M196.7 381.1h0M194.6 384.8h0M203.1 380.4h0M192.1 385.5h0M195.4 385.2h0M203.2 380.2h0M203.1 380.0h0M192.3 386.2h0M192.9 385.3h0M193.5 381.1h0M204.2 384.5h0M191.8 385.9h0M193.4 378.3h0M204.0 378.0h0M198.2 379.0h0M191.7 385.4h0M205.8 379.9h0M203.4 383.8h0M191.6 384.4h0M195.0 381.2h0M205.6 379.7h0M198.2 384.9h0M211.8 383.5h0M193.2 379.0h0M207.1 379.4h0M207.6 384.9h0M202.9 380.7h0M211.8 385.6h0M197.6 385.2h0M196.9 379.7h0M202.9 383.7h0M209.0 382.3h0M198.6 379.2h0M194.7 383.5h0M196.5 379.9h0M193.9 380.6h0M203.4 377.9h0M212.5 379.8h0M208.1 386.1h0M204.3 385.3h0M211.2 383.0h0M203.3 384.9h0M191.8 380.4h0M194.0 382.7h0M201.3 384.0h0M191.9 379.6h0M203.8 379.6h0M201.1 380.3h0M192.5 384.7h0M196.1 385.4h0M204.4 386.0h0M191.9 384.3h0M191.8 380.9h0M211.0 385.4h0M201.3 384.2h0M208.7 384.2h0M197.9 379.8h0M203.2 380.3h0M201.0 382.4h0M206.6 372.8h0M197.3 381.3h0M204.7 382.9h0M211.3 384.0h0M195.4 376.8h0M192.9 382.0h0M192.5 384.1h0M206.4 379.7h0M198.6 384.5h0M195.9 384.6h0M206.0 386.1h0M195.8 384.7h0M195.3 379.9h0M209.6 381.3h0M209.5 382.8h0M208.6 383.7h0M204.2 382.3h0M207.3 383.1h0M211.9 385.8h0M197.7 369.2h0M199.9 381.7h0M193.8 380.4h0M199.3 386.4h0M210.7 379.3h0M196.0 374.7h0M197.6 380.1h0M202.9 384.2h0M109.9 383.8h0M106.4 386.4h0M91.2 382.5h0M89.5 381.9h0M88.6 382.2h0M104.6 378.9h0M94.8 382.2h0M110.8 380.5h0M100.4 379.4h0M188.6 384.2h0M187.1 383.8h0M179.6 382.2h0M177.2 384.7h0M184.4 386.1h0M184.6 385.0h0M187.7 386.6h0M203.2 363.2h0M116.9 371.0h0M139.9 375.2h0M168.0 357.2h0M133.9 380.3h0M88.5 349.4h0M157.1 375.8h0M205.2 362.0h0M118.4 369.2h0M109.2 370.5h0M211.4 371.7h0M165.4 377.9h0M154.2 379.9h0M105.2 379.5h0M124.8 379.2h0M85.7 379.8h0M173.1 377.9h0M194.5 376.8h0M135.8 377.6h0M180.5 376.3h0M202.9 367.7h0M86.5 380.6h0M180.7 374.4h0M146.9 373.7h0M131.1 377.2h0M211.5 377.7h0M227.8 371.2h0M289.0 358.6h0M264.6 370.6h0M268.8 363.4h0M264.7 372.7h0M264.2 371.7h0M275.4 368.1h0M283.5 371.6h0M283.9 368.8h0M350.3 377.1h0M300.6 365.3h0M292.2 364.1h0M328.3 374.2h0M251.1 366.7h0M262.9 368.3h0M286.8 369.2h0M272.7 329.4h0M233.9 364.2h0M256.0 367.7h0M286.9 364.4h0M276.4 357.1h0M283.2 370.7h0M237.2 371.8h0M244.8 372.4h0M347.0 378.1h0M346.3 377.5h0M357.4 377.7h0M268.0 350.4h0M282.0 372.1h0M311.1 371.4h0M318.7 371.5h0M258.6 364.2h0M327.7 367.4h0M367.2 378.0h0M367.3 377.0h0M272.8 364.6h0M286.5 365.1h0M308.7 357.0h0M287.7 366.6h0M288.8 371.5h0M239.8 370.9h0M256.4 370.1h0M264.4 366.7h0M268.5 360.6h0M330.4 375.4h0M358.1 376.2h0M246.7 368.1h0M287.4 360.2h0M224.3 373.6h0M268.1 368.5h0M322.9 373.7h0M274.1 368.3h0M290.9 371.4h0M327.5 374.2h0M331.5 367.8h0M321.3 369.5h0M248.9 363.4h0M226.5 373.9h0M243.4 367.7h0M337.7 368.4h0M232.8 368.1h0M308.1 371.4h0M318.2 365.1h0M266.3 368.8h0M288.2 350.7h0M336.9 371.9h0M358.9 379.5h0M224.5 367.7h0M294.1 363.5h0M295.7 361.8h0M238.6 357.6h0M251.1 371.5h0M257.1 362.1h0M303.8 368.8h0M228.8 367.0h0M366.8 379.4h0M304.3 371.0h0M306.9 345.5h0M308.2 371.5h0M315.7 370.0h0M243.7 360.7h0M316.1 358.7h0M235.1 362.0h0M350.4 377.6h0M265.0 371.9h0M272.8 356.8h0M286.4 345.1h0M314.2 368.1h0M311.5 346.4h0M295.4 333.5h0M351.1 369.3h0M302.9 359.6h0M248.5 372.0h0M268.3 367.2h0M281.1 364.3h0M273.3 370.9h0M276.0 361.7h0M247.5 370.8h0M237.5 369.8h0M272.6 364.5h0M247.3 369.8h0M248.3 360.4h0M293.2 361.3h0M342.0 377.8h0M229.3 354.7h0M272.9 371.7h0M230.3 371.2h0M357.0 375.0h0M266.4 370.0h0M340.9 378.4h0M249.1 373.5h0M262.0 362.8h0M327.8 362.0h0M301.6 367.9h0M264.6 363.4h0M256.6 344.6h0M341.4 379.4h0M248.6 373.2h0M226.4 369.1h0M225.2 373.9h0M301.7 360.3h0M253.7 350.4h0M253.4 371.4h0M270.9 356.7h0M348.6 353.9h0M336.6 378.3h0M328.5 376.3h0M321.0 366.3h0M257.9 366.6h0M241.4 365.3h0M234.9 370.3h0M233.2 347.1h0M263.5 370.3h0M265.9 370.2h0M317.3 369.6h0M352.4 377.2h0M289.0 367.2h0M316.9 366.6h0M348.2 372.8h0M298.4 368.4h0M234.0 372.1h0M370.6 378.4h0M292.8 363.8h0M285.6 364.1h0M322.4 364.0h0M258.6 372.1h0M233.7 369.4h0M309.2 367.0h0M243.8 372.8h0M344.9 376.1h0M314.3 368.8h0M225.6 371.4h0M246.3 342.6h0M238.4 372.0h0M292.7 364.0h0M270.5 372.2h0M306.0 370.8h0M240.9 372.2h0M323.7 369.8h0M252.0 368.9h0M305.8 362.7h0M307.5 366.9h0M340.4 374.4h0M248.1 373.6h0M233.0 374.1h0M351.4 372.2h0M246.8 369.5h0M305.7 369.3h0M270.2 371.0h0M334.4 371.4h0M319.6 364.3h0M308.1 354.7h0M272.4 368.0h0M319.0 374.1h0M319.0 373.3h0M271.7 372.1h0M254.0 370.2h0M278.4 358.6h0M292.8 369.9h0M307.8 346.5h0M266.3 365.2h0M340.1 379.0h0M248.2 363.1h0M338.3 376.7h0M296.0 364.8h0M365.1 379.3h0M241.3 358.2h0M302.8 364.5h0M263.0 362.1h0M346.0 374.0h0M255.2 370.8h0M241.1 370.9h0M246.8 365.1h0M224.4 373.4h0M291.2 365.7h0M319.1 367.7h0M259.3 368.7h0M278.6 355.9h0M349.6 377.6h0M294.6 369.7h0M226.3 374.3h0M284.7 355.0h0M245.8 366.3h0M298.3 350.7h0M329.8 372.0h0M259.2 361.1h0M322.5 356.9h0M322.1 366.0h0M292.7 367.8h0M256.6 367.7h0M349.4 370.5h0M293.5 369.8h0M250.7 371.7h0M229.7 369.6h0M245.9 362.0h0M321.0 373.0h0M240.4 371.4h0M350.6 374.6h0M227.5 366.7h0M302.9 365.8h0M253.8 370.3h0M265.6 371.7h0M263.8 363.6h0M321.0 363.1h0M314.1 367.6h0M358.4 378.8h0M236.7 370.9h0M299.7 369.6h0M275.8 370.9h0M316.2 371.3h0M325.1 371.7h0M250.1 358.2h0M293.2 353.3h0M233.9 366.8h0M317.0 367.0h0M291.0 365.5h0M258.2 372.5h0M244.4 361.0h0M270.5 366.2h0M297.3 371.6h0M325.8 372.8h0M337.6 372.2h0M304.0 371.1h0M282.7 361.6h0M269.6 370.4h0M237.4 368.3h0M284.4 353.0h0M320.5 372.2h0M344.0 377.3h0M286.3 342.5h0M332.3 369.2h0M280.8 370.8h0M287.4 355.7h0M251.4 361.4h0M322.8 375.4h0M273.5 364.7h0M273.9 365.6h0M314.5 371.2h0M312.2 365.1h0M320.3 364.6h0M243.0 373.5h0M248.1 367.9h0M305.8 361.1h0M276.9 356.0h0M307.3 370.2h0M348.0 377.7h0M299.4 360.2h0M249.8 352.1h0M254.6 362.1h0M285.8 371.2h0M271.2 348.6h0M310.4 358.2h0M362.3 376.9h0M294.7 370.0h0M261.2 364.7h0M297.8 367.6h0M316.8 371.2h0M334.4 370.3h0M259.8 351.0h0M331.5 372.8h0M302.2 371.0h0M316.4 369.1h0M320.2 366.3h0M337.5 377.3h0M247.2 370.1h0M293.4 367.7h0M307.2 369.2h0M306.7 355.0h0M235.6 368.0h0M238.6 367.8h0M253.8 368.1h0M260.0 364.6h0M331.7 365.3h0M300.1 369.4h0M345.2 378.9h0M238.9 368.4h0M308.2 366.3h0M244.2 339.0h0M237.8 372.7h0M305.6 371.2h0M336.6 362.3h0M329.6 375.6h0M319.1 368.5h0M241.6 373.0h0M235.8 370.9h0M320.1 360.7h0M313.3 370.1h0M350.1 367.8h0M344.5 373.2h0M310.4 357.1h0M301.3 343.2h0M227.8 372.1h0M357.8 379.2h0M326.9 375.3h0M243.2 369.6h0M264.5 372.8h0M328.2 372.0h0M264.6 372.2h0M263.5 371.2h0M241.6 358.7h0M298.6 363.6h0M283.4 369.0h0M259.9 348.8h0M318.3 327.6h0M327.1 371.5h0M350.1 369.5h0M292.0 371.7h0M355.2 375.0h0M343.6 370.3h0M254.6 369.5h0M300.0 361.6h0M239.0 359.5h0M281.4 371.3h0M317.5 349.0h0M347.1 364.3h0M295.3 369.9h0M330.4 368.0h0M307.5 368.6h0M266.3 370.6h0M272.9 367.1h0M268.9 371.6h0M299.3 370.1h0M260.4 353.9h0M256.1 363.6h0M230.5 368.6h0M307.1 362.7h0M306.8 370.9h0M279.3 344.9h0M326.7 370.9h0M283.9 362.2h0M319.5 368.0h0M291.6 359.2h0M333.5 367.3h0M298.5 358.5h0M317.5 372.3h0M369.3 378.3h0M320.0 350.9h0M340.9 374.5h0M250.2 373.3h0M289.1 355.5h0M252.8 364.7h0M349.3 358.2h0M306.1 368.6h0M228.9 367.1h0M331.6 376.7h0M276.1 362.9h0M331.5 375.3h0M283.6 366.6h0M303.7 362.0h0M359.7 375.8h0M360.9 372.2h0M301.7 359.5h0M358.0 377.7h0M298.3 363.0h0M237.8 356.0h0M307.4 349.2h0M262.8 365.3h0M327.1 372.8h0M332.9 366.6h0M273.7 364.0h0M317.5 370.0h0M266.1 358.1h0M235.8 370.4h0M231.3 372.4h0M278.7 365.5h0M288.4 356.2h0M254.8 328.7h0M290.9 355.7h0M283.8 360.7h0M319.1 370.5h0M339.2 350.1h0M322.4 344.4h0M295.8 371.7h0M301.2 358.9h0M338.1 375.4h0M237.4 367.2h0M310.4 367.3h0M287.4 357.1h0M238.8 342.4h0M360.8 374.7h0M305.7 369.2h0M295.8 371.0h0M239.3 369.1h0M279.6 371.7h0M261.7 370.7h0M297.6 364.9h0M311.3 370.7h0M281.4 360.4h0M292.0 323.6h0M306.5 370.6h0M343.0 376.4h0M245.6 370.3h0M338.3 372.7h0M241.2 373.9h0M251.3 338.7h0M335.2 375.0h0M309.3 361.5h0M281.0 354.9h0M281.6 336.5h0M256.1 345.5h0M305.1 365.2h0M254.2 362.7h0M284.9 370.8h0M247.5 371.4h0M354.5 379.3h0M311.1 368.5h0M302.7 371.9h0M266.3 370.9h0M291.9 367.8h0M347.9 359.6h0M279.1 370.8h0M230.7 374.2h0M267.7 370.5h0M231.1 360.3h0M354.9 377.7h0M255.8 366.6h0M233.9 373.4h0M270.8 366.6h0M295.1 359.4h0M307.6 369.8h0M314.5 359.5h0M314.5 372.7h0M242.3 365.6h0M300.9 356.2h0M297.9 362.4h0M275.4 355.7h0M266.5 372.6h0M305.9 358.4h0M240.4 371.8h0M350.3 379.5h0M232.9 368.8h0M327.7 353.6h0M322.6 362.1h0M367.5 378.1h0M283.5 371.1h0M227.6 368.9h0M321.8 369.6h0M281.1 368.9h0M242.8 365.1h0M306.4 371.9h0M237.6 373.8h0M272.5 370.3h0M265.6 370.6h0M361.2 380.3h0M271.2 369.8h0M227.1 370.3h0M326.1 363.1h0M265.8 370.0h0M314.3 363.5h0M319.2 358.9h0M329.8 362.5h0M310.0 362.1h0M250.4 369.9h0M247.6 370.2h0M289.6 364.2h0M338.0 375.4h0M240.8 367.5h0M316.7 362.5h0M268.4 356.1h0M273.7 352.9h0M306.8 361.2h0M307.8 371.7h0M263.4 333.9h0M239.7 365.3h0M224.4 372.9h0M316.4 366.6h0M305.8 371.6h0M334.5 378.0h0M260.0 371.4h0M246.2 368.1h0M359.8 379.2h0M288.7 367.9h0M289.6 369.3h0M254.0 359.7h0M263.2 370.3h0M295.3 370.5h0M277.1 364.2h0M308.3 372.3h0M301.1 368.4h0M235.6 369.0h0M327.5 369.7h0M291.1 371.4h0M337.9 372.6h0M265.5 368.3h0M327.5 367.0h0M279.7 368.5h0M253.6 373.0h0M266.0 372.3h0M227.8 371.6h0M334.4 377.6h0M317.0 371.3h0M240.0 367.8h0M258.6 366.6h0M291.3 357.1h0M324.2 372.8h0M294.5 347.4h0M231.1 369.1h0M306.5 370.1h0M351.4 369.5h0M300.3 370.5h0M279.6 370.1h0M263.8 373.1h0M224.8 368.4h0M224.8 368.2h0M271.2 349.6h0M264.6 362.2h0M257.8 369.8h0M298.1 367.0h0M367.4 379.4h0M303.2 367.3h0M327.0 372.3h0M358.2 374.6h0M278.7 356.4h0M264.7 365.2h0M253.2 370.1h0M290.8 355.2h0M324.6 371.6h0M279.8 365.5h0M258.6 349.9h0M274.8 360.6h0M328.3 376.5h0M245.7 361.6h0M280.4 361.9h0M241.6 370.9h0M239.7 360.4h0M348.6 371.3h0M270.1 370.2h0M270.5 349.7h0M268.6 368.1h0M368.9 375.4h0M256.5 363.9h0M339.0 375.6h0M300.4 364.4h0M328.7 362.7h0M278.3 357.6h0M331.2 374.5h0M359.9 375.4h0M241.9 368.1h0M226.5 364.3h0M333.2 370.5h0M256.1 367.4h0M258.0 366.9h0M265.1 368.5h0M244.6 371.6h0M247.3 368.8h0M321.6 341.9h0M271.4 360.9h0M303.4 365.8h0M310.2 358.4h0M263.2 372.7h0M266.2 343.6h0M299.9 365.6h0M324.9 374.8h0M310.5 340.3h0M268.5 365.7h0M254.6 368.4h0M316.0 371.4h0M311.4 364.2h0M327.0 374.6h0M307.2 367.5h0M229.6 371.5h0M294.5 369.2h0M313.5 373.3h0M235.8 373.8h0M328.0 371.5h0M328.7 375.3h0M283.3 365.7h0M355.9 375.3h0M338.7 377.9h0M263.9 352.4h0M270.1 363.4h0M248.0 359.5h0M269.4 367.3h0M237.8 373.7h0M265.5 372.3h0M335.6 376.2h0M276.8 371.7h0M318.7 373.2h0M326.8 360.4h0M281.0 346.0h0M306.3 371.5h0M295.4 330.5h0M253.5 373.4h0M341.6 370.1h0M343.1 375.1h0M255.5 369.2h0M293.8 365.9h0M241.0 346.4h0M301.0 366.9h0M353.6 367.0h0M272.5 361.5h0M235.4 373.4h0M233.6 350.6h0M229.5 371.7h0M228.6 373.4h0M321.3 369.3h0M293.1 357.3h0M328.8 375.4h0M342.8 369.5h0M292.4 358.3h0M280.2 338.7h0M348.2 375.6h0M250.5 363.9h0M326.4 373.3h0M298.2 370.9h0M310.4 366.8h0M342.3 378.6h0M310.9 370.7h0M341.0 375.2h0M319.3 366.9h0M261.0 372.7h0M298.0 371.8h0M259.0 357.7h0M312.8 351.5h0M270.0 368.7h0M294.2 359.6h0M318.9 358.9h0M273.5 366.9h0M268.8 371.0h0M237.6 371.1h0M265.2 369.7h0M342.2 377.9h0M320.9 367.7h0M302.8 370.1h0M285.5 363.8h0M294.6 370.6h0M285.4 365.2h0M235.4 367.3h0M367.6 379.9h0M306.4 366.5h0M275.2 368.0h0M273.5 369.0h0M349.1 372.9h0M365.8 371.3h0M355.9 375.6h0M324.8 370.4h0M248.9 373.0h0M332.8 373.0h0M243.0 362.2h0M276.1 371.7h0M261.4 370.0h0M252.2 372.8h0M316.2 374.0h0M331.1 374.5h0M342.6 370.1h0M335.8 374.8h0M242.6 373.5h0M306.4 365.8h0M255.8 359.4h0M346.6 372.0h0M341.0 372.3h0M300.7 341.0h0M295.8 371.9h0M325.3 374.9h0M334.7 376.1h0M344.4 375.6h0M281.4 358.6h0M293.5 364.7h0M283.9 363.1h0M248.6 370.4h0M235.4 373.1h0M269.7 359.0h0M228.8 354.9h0M226.7 370.4h0M357.2 377.9h0M234.5 372.5h0M231.4 370.4h0M284.1 364.5h0M265.1 364.6h0M298.0 370.8h0M339.4 379.1h0M278.9 347.2h0M283.8 369.2h0M270.0 364.4h0M326.6 375.2h0M299.5 359.0h0M365.2 379.0h0M321.1 374.9h0M273.6 371.8h0M247.3 366.3h0M323.2 373.0h0M278.5 367.4h0M234.8 359.6h0M284.1 358.0h0M353.0 379.4h0M240.3 370.5h0M273.4 347.2h0M359.7 379.1h0M254.3 369.5h0M288.1 368.7h0M244.4 349.4h0M331.9 374.1h0M298.2 347.1h0M318.7 369.5h0M274.4 365.3h0M296.3 369.8h0M315.9 373.6h0M241.9 365.5h0M270.4 371.3h0M274.6 354.7h0M252.1 368.4h0M226.1 373.9h0M283.0 371.4h0M306.6 371.0h0M317.2 353.5h0M299.3 366.6h0M355.1 377.1h0M351.4 374.4h0M281.7 366.0h0M277.9 371.1h0M273.9 348.7h0M358.9 377.5h0M264.0 371.2h0M361.0 376.2h0M303.4 360.1h0M258.4 370.8h0M356.6 379.2h0M369.2 377.2h0M274.4 367.9h0M325.4 375.3h0M282.6 366.9h0M251.3 368.1h0M273.4 368.7h0M270.7 367.2h0M268.2 361.2h0M351.9 376.6h0M279.6 368.7h0M269.9 368.2h0M356.4 371.0h0M273.7 371.9h0M291.1 369.7h0M243.1 369.2h0M317.9 369.0h0M264.5 358.3h0M252.8 372.2h0M297.8 356.0h0M320.7 368.1h0M356.6 372.7h0M247.9 369.9h0M282.6 362.6h0M244.0 355.9h0M265.6 366.3h0M263.5 370.1h0M272.4 350.9h0M281.0 364.2h0M262.9 373.2h0M304.5 358.1h0M291.4 362.6h0M246.4 371.0h0M281.3 366.8h0M338.1 378.7h0M259.4 361.1h0M308.6 370.9h0M244.4 370.6h0M303.1 371.0h0M318.5 374.4h0M264.1 364.8h0M265.2 369.9h0M320.2 363.7h0M331.2 373.4h0M317.2 358.3h0M233.6 374.1h0M258.4 367.2h0M321.2 372.6h0M270.5 367.1h0M277.7 368.2h0M247.9 369.7h0M339.3 374.7h0M235.4 374.0h0M296.2 371.2h0M266.2 366.5h0M228.8 367.0h0M335.0 374.8h0M262.4 367.5h0M303.5 348.7h0M343.0 376.0h0M291.9 368.3h0M287.8 363.7h0M263.5 372.7h0M274.6 366.2h0M300.4 364.0h0M294.2 371.1h0M240.2 368.0h0M285.0 370.1h0M231.8 372.8h0M351.6 379.4h0M248.0 362.4h0M327.2 356.9h0M313.9 360.9h0M313.7 371.0h0M230.9 370.1h0M271.3 368.3h0M282.7 354.5h0M262.4 368.5h0M302.9 367.0h0M277.8 364.0h0M355.0 379.2h0M303.1 368.5h0M236.7 371.5h0M271.3 354.5h0M308.7 355.7h0M293.1 364.0h0M309.4 365.4h0M289.2 371.3h0M240.2 367.4h0M301.2 367.4h0M272.9 371.8h0M244.2 337.9h0M248.5 368.9h0M327.5 352.6h0M325.7 371.0h0M234.8 366.2h0M294.4 368.1h0M351.0 377.2h0M236.4 354.8h0M307.7 369.0h0M271.9 371.6h0M317.7 354.1h0M243.9 348.0h0M306.2 371.8h0M337.3 356.2h0M225.6 361.1h0M300.8 369.3h0M233.2 371.0h0M248.4 371.0h0M274.3 371.9h0M337.9 375.9h0M336.7 369.6h0M268.3 350.2h0M312.0 345.2h0M285.7 368.3h0M288.2 366.3h0M277.9 365.6h0M268.9 350.5h0M346.1 376.9h0M255.8 369.4h0M324.5 375.7h0M321.2 374.8h0M317.9 362.1h0M319.8 372.5h0M297.2 361.9h0M322.5 374.7h0M229.6 361.8h0M269.7 368.4h0M298.2 366.5h0M280.2 368.2h0M247.0 372.2h0M262.8 361.7h0M296.5 370.8h0M255.3 370.9h0M283.2 362.2h0M239.7 370.8h0M270.3 343.5h0M283.4 371.6h0M276.3 366.0h0M307.3 369.5h0M285.9 364.3h0M252.2 372.9h0M282.4 366.2h0M329.8 371.0h0M290.2 364.5h0M319.9 362.9h0M299.9 347.4h0M275.8 369.0h0M243.9 369.4h0M340.9 377.2h0M268.3 355.0h0M350.7 378.1h0M296.3 365.7h0M269.9 365.8h0M297.1 364.8h0M328.6 376.4h0M278.2 367.6h0M233.1 366.2h0M309.3 368.1h0M362.8 376.2h0M300.1 356.5h0M251.6 372.8h0M290.2 368.1h0M358.4 378.1h0M313.0 368.0h0M349.8 373.0h0M336.5 375.3h0M265.8 365.8h0M269.6 372.4h0M240.5 369.8h0M302.8 363.7h0M253.1 373.5h0M339.1 377.2h0M247.1 371.9h0M250.2 351.5h0M337.2 352.4h0M308.1 363.1h0M287.0 364.3h0M309.0 362.0h0M277.3 361.2h0M258.3 360.9h0M244.3 373.0h0M284.7 358.0h0M296.4 365.8h0M313.5 368.5h0M280.1 367.5h0M236.5 373.2h0M256.7 364.1h0M237.9 358.4h0M227.9 371.6h0M280.2 371.6h0M238.5 372.6h0M266.7 372.7h0M336.3 377.5h0M258.8 362.9h0M262.0 366.9h0M257.8 370.2h0M293.8 365.7h0M352.2 375.9h0M338.5 371.8h0M334.9 376.5h0M332.4 372.9h0M332.1 375.4h0M256.1 371.8h0M332.1 365.1h0M247.4 341.7h0M302.2 368.9h0M308.4 372.4h0M300.0 368.0h0M271.8 369.9h0M289.1 371.1h0M355.9 374.2h0M301.9 369.0h0M257.7 370.2h0M301.7 368.5h0M305.9 358.0h0M322.7 369.1h0M271.2 368.5h0M295.4 371.3h0M351.7 378.2h0M318.6 374.1h0M280.7 369.7h0M322.1 373.2h0M353.9 372.7h0M309.2 364.8h0M240.1 371.5h0M320.9 371.2h0M308.0 367.6h0M306.8 364.3h0M338.5 377.7h0M268.5 369.2h0M275.8 352.8h0M299.4 367.0h0M309.1 365.2h0M267.7 372.4h0M308.6 372.5h0M289.3 369.0h0M295.7 368.1h0M317.6 370.1h0M278.1 364.9h0M310.8 371.5h0M301.0 366.6h0M257.8 373.1h0M286.9 361.5h0M257.1 349.6h0M260.2 352.4h0M252.3 371.8h0M237.4 368.1h0M326.2 375.8h0M256.0 353.2h0M356.8 379.2h0M333.5 374.3h0M238.9 370.5h0M341.8 372.5h0M310.2 363.1h0M290.1 362.1h0M325.9 368.9h0M279.9 371.5h0M270.4 368.0h0M339.2 371.7h0M361.8 380.3h0M331.8 313.1h0M250.6 372.7h0M346.0 376.7h0M234.0 373.4h0M323.9 355.8h0M308.6 361.3h0M315.0 371.8h0M312.4 365.9h0M240.4 367.0h0M356.2 379.1h0M253.4 363.6h0M275.6 365.2h0M258.0 370.2h0M325.6 367.5h0M266.8 372.4h0M306.3 366.5h0M235.8 356.6h0M328.2 374.1h0M267.5 367.7h0M289.6 370.8h0M313.3 328.7h0M242.1 359.6h0M279.9 372.1h0M334.0 370.7h0M239.6 370.5h0M229.2 367.5h0M333.9 374.8h0M244.1 354.1h0M267.1 367.5h0M341.8 370.7h0M319.4 372.6h0M264.1 364.8h0M349.9 377.3h0M325.2 371.7h0M341.2 376.3h0M285.2 365.4h0M236.5 373.9h0M321.4 371.1h0M250.7 370.8h0M235.8 362.1h0M236.0 373.8h0M256.5 368.5h0M335.5 373.5h0M287.4 364.3h0M285.3 370.9h0M236.4 368.1h0M276.8 361.9h0M239.0 367.0h0M250.2 369.7h0M322.2 363.0h0M269.3 369.5h0M273.8 371.1h0M325.0 366.2h0M326.9 371.4h0M289.3 352.1h0M351.0 379.2h0M332.1 377.0h0M271.0 366.2h0M346.2 376.7h0M230.6 367.7h0M333.0 371.6h0M246.1 370.3h0M279.3 338.1h0M334.9 366.7h0M302.3 367.3h0M327.0 376.2h0M239.7 366.6h0M229.4 360.8h0M236.4 370.2h0M328.5 374.5h0M254.4 371.3h0M283.1 370.2h0M225.8 373.7h0M241.6 372.2h0M342.4 378.5h0M273.3 347.6h0M316.0 351.6h0M235.8 356.5h0M229.7 354.9h0M335.7 368.8h0M282.4 364.1h0M276.3 350.0h0M298.8 368.0h0M285.6 371.6h0M240.8 373.4h0M283.7 365.7h0M363.4 379.3h0M316.0 365.4h0M273.8 371.5h0M224.6 370.2h0M321.1 373.8h0M251.9 357.6h0M342.6 361.2h0M320.2 347.4h0M321.5 349.8h0M346.1 367.3h0M295.0 370.8h0M289.6 370.0h0M292.1 370.9h0M325.0 357.3h0M346.2 372.5h0M357.4 379.2h0M350.1 367.1h0M300.0 367.7h0M325.9 375.3h0M247.7 365.7h0M290.4 370.3h0M274.2 369.8h0M319.3 373.5h0M243.8 359.9h0M271.8 368.5h0M330.7 370.6h0M349.9 374.3h0M281.8 369.4h0M270.9 369.8h0M288.4 371.3h0M316.8 366.0h0M251.1 365.7h0M313.4 370.2h0M227.5 372.9h0M339.0 377.0h0M317.2 372.8h0M307.2 367.6h0M310.2 346.9h0M323.6 360.6h0M258.9 357.6h0M247.2 367.8h0M299.1 336.2h0M305.6 371.3h0M321.3 355.1h0M349.2 367.6h0M342.9 378.4h0M280.1 363.0h0M310.2 368.2h0M310.8 370.4h0M248.3 370.5h0M261.9 370.9h0M267.8 354.4h0M351.5 376.2h0M282.7 341.3h0M254.7 360.4h0M362.2 376.7h0M314.2 371.0h0M354.8 378.4h0M319.7 366.9h0M302.2 366.6h0M305.3 370.5h0M251.1 368.1h0M282.2 371.7h0M330.1 375.9h0M258.9 371.0h0M275.4 358.0h0M351.3 377.2h0M296.2 370.3h0M260.9 356.9h0M276.9 368.2h0M275.8 356.4h0M258.5 370.2h0M342.8 363.2h0M356.3 377.0h0M245.3 370.3h0M269.0 365.6h0M309.8 368.3h0M264.6 354.1h0M277.1 371.4h0M268.7 368.3h0M235.1 371.6h0M298.0 370.1h0M332.1 369.6h0M283.5 358.8h0M256.3 361.3h0M308.7 369.8h0M337.2 378.2h0M285.4 371.6h0M323.2 375.4h0M294.3 370.6h0M337.8 373.7h0M320.8 362.7h0M356.0 371.6h0M285.5 358.5h0M276.9 372.0h0M225.8 361.0h0M272.6 370.1h0M246.8 359.8h0M274.7 368.7h0M362.5 379.4h0M228.6 361.2h0M324.2 374.0h0M350.5 374.6h0M320.1 373.7h0M345.2 378.0h0M343.1 378.6h0M302.6 360.4h0M287.8 369.3h0M289.9 364.4h0M263.1 370.7h0M249.2 373.7h0M279.7 370.3h0M242.8 369.4h0M327.7 367.0h0M301.6 371.5h0M259.2 360.2h0M262.7 363.8h0M257.5 371.0h0M269.3 359.7h0M260.1 368.4h0M291.4 371.1h0M253.8 367.7h0M338.1 348.3h0M298.4 365.6h0M354.1 372.9h0M240.3 372.1h0M262.1 362.1h0M282.7 367.5h0M319.4 374.6h0M353.3 376.9h0M249.3 366.0h0M300.5 341.3h0M313.8 365.3h0M369.9 374.7h0M315.4 360.9h0M257.5 367.7h0M255.2 372.6h0M306.3 364.1h0M258.5 352.6h0M258.6 364.8h0M227.0 360.2h0M332.5 370.9h0M241.3 367.5h0M357.5 379.6h0M252.0 365.7h0M314.5 361.6h0M308.6 368.5h0M271.7 371.4h0M306.7 344.6h0M274.9 360.5h0M323.3 374.7h0M273.5 314.1h0M301.2 370.8h0M329.3 376.7h0M284.5 371.7h0M331.4 375.9h0M245.6 365.7h0M324.9 364.6h0M263.7 373.0h0M269.0 369.3h0M293.4 368.0h0M310.2 357.7h0M234.2 371.5h0M304.7 370.6h0M260.3 365.0h0M229.5 371.1h0M308.0 365.7h0M315.7 371.6h0M244.5 371.2h0M284.0 353.6h0M275.4 357.7h0M316.9 372.5h0M318.9 346.6h0M282.6 365.0h0M316.8 360.1h0M298.1 366.8h0M243.7 368.5h0M308.7 366.0h0M323.0 353.4h0M231.6 373.4h0M278.0 370.6h0M333.1 375.9h0M324.4 372.3h0M353.0 370.2h0M313.0 372.9h0M256.0 369.5h0M234.1 374.1h0M284.9 358.5h0M262.0 372.6h0M297.2 351.6h0M288.3 363.0h0M305.0 362.8h0M278.0 370.6h0M296.2 370.8h0M317.8 370.5h0M311.2 370.4h0M339.1 377.4h0M301.0 360.3h0M231.1 366.4h0M287.5 352.5h0M320.3 373.2h0M355.4 378.3h0M241.6 373.6h0M242.6 359.9h0M259.4 366.6h0M307.8 362.4h0M338.5 375.5h0M242.0 373.5h0M278.6 369.2h0M280.7 364.8h0M265.8 365.1h0M285.1 367.1h0M289.3 371.7h0M285.1 341.1h0M291.3 368.2h0M277.9 363.7h0M289.8 359.0h0M259.1 372.7h0M333.5 376.6h0M308.5 362.6h0M290.5 370.5h0M326.7 376.2h0M284.3 371.8h0M301.4 369.4h0M255.5 370.8h0M310.8 368.8h0M244.0 373.4h0M343.6 373.1h0M342.7 363.7h0M336.8 364.7h0M362.2 376.6h0M299.0 368.3h0M241.9 366.4h0M294.4 348.3h0M336.9 361.2h0M239.3 372.0h0M263.7 363.8h0M322.0 337.1h0M323.2 371.3h0M301.7 364.9h0M289.3 367.5h0M325.4 375.3h0M253.7 372.7h0M259.4 353.5h0M237.6 372.9h0M331.4 374.9h0M287.2 351.9h0M237.9 372.7h0M313.1 364.9h0M240.5 364.3h0M300.6 368.4h0M329.3 375.4h0M367.0 378.8h0M296.1 367.3h0M276.3 355.1h0M330.2 370.2h0M257.4 363.7h0M246.8 368.5h0M296.3 370.2h0M261.2 348.7h0M261.5 373.3h0M358.2 380.0h0M324.3 366.4h0M344.4 369.2h0M328.6 376.1h0M276.1 368.9h0M287.3 366.7h0M281.1 367.4h0M338.9 375.0h0M338.5 377.5h0M292.8 365.3h0M331.3 376.3h0M265.7 369.4h0M257.0 367.0h0M271.3 351.6h0M279.2 371.7h0M305.7 359.5h0M242.0 372.4h0M369.0 374.1h0M293.3 365.7h0M282.5 368.9h0M346.4 378.4h0M282.1 362.0h0M309.2 365.2h0M262.8 367.0h0M246.9 372.4h0M295.6 366.7h0M257.6 372.3h0M327.5 361.1h0M328.6 370.9h0M247.1 371.4h0M245.0 370.6h0M228.7 373.0h0M300.0 359.0h0M259.0 368.2h0M295.8 368.1h0M247.0 360.3h0M311.5 372.7h0M318.3 357.8h0M251.4 352.4h0M267.2 371.2h0M305.9 371.6h0M324.4 340.7h0M280.2 363.8h0M246.4 370.4h0M305.2 370.5h0M247.3 366.7h0M348.8 377.1h0M253.7 371.7h0M348.6 374.4h0M280.5 370.3h0M235.5 361.4h0M299.7 349.0h0M262.7 350.4h0M288.8 365.7h0M227.0 367.9h0M228.1 371.8h0M224.0 365.4h0M284.3 361.9h0M229.2 370.8h0M324.6 375.7h0M293.7 370.0h0M339.5 379.0h0M319.6 365.9h0M328.1 373.6h0M357.8 377.9h0M240.2 365.6h0M335.4 376.0h0M283.9 371.4h0M327.5 362.3h0M274.5 368.9h0M243.6 365.5h0M335.5 377.3h0M271.8 371.9h0M362.6 378.1h0M274.6 363.4h0M258.8 331.5h0M266.8 367.2h0M286.3 371.5h0M276.0 371.7h0M310.3 352.9h0M313.8 371.3h0M316.0 370.6h0M229.3 367.6h0M227.2 364.7h0M284.1 361.0h0M279.2 371.0h0M318.9 357.3h0M336.7 375.4h0M299.0 336.1h0M225.0 364.3h0M285.6 371.9h0M260.0 370.2h0M232.2 374.5h0M225.0 371.6h0M296.1 366.2h0M357.6 379.9h0M280.7 368.2h0M306.4 371.8h0M304.0 355.4h0M265.3 361.6h0M260.8 371.4h0M328.1 363.6h0M266.3 354.1h0M262.7 348.3h0M264.9 366.5h0M289.8 352.3h0M257.4 370.7h0M265.5 368.2h0M278.3 367.2h0M303.2 353.7h0M355.6 378.7h0M339.5 378.9h0M305.7 364.8h0M322.1 374.2h0M326.1 364.1h0M241.5 373.5h0M305.7 371.9h0M232.6 373.3h0M301.3 368.9h0M254.7 370.7h0M278.9 370.1h0M254.9 353.4h0M333.3 374.0h0M257.9 370.4h0M344.8 376.8h0M255.0 371.2h0M326.6 363.6h0M267.3 369.0h0M350.5 379.4h0M316.6 368.5h0M322.6 371.5h0M357.9 379.9h0M278.3 334.7h0M254.6 372.4h0M323.4 372.8h0M344.5 376.3h0M233.4 345.1h0M254.1 362.2h0M235.6 362.8h0M254.3 352.8h0M261.0 372.8h0M317.9 371.2h0M319.9 373.0h0M315.7 363.1h0M291.9 354.7h0M327.6 373.5h0M303.5 371.2h0M259.6 356.4h0M228.6 371.7h0M288.5 365.4h0M330.8 376.0h0M279.9 362.6h0M239.0 368.7h0M259.2 371.9h0M315.9 366.7h0M280.2 361.8h0M329.6 376.3h0M284.0 362.8h0M301.5 370.9h0M299.7 322.8h0M320.4 348.7h0M255.6 370.5h0M285.9 365.8h0M305.7 372.0h0M340.0 376.6h0M331.2 369.7h0M287.5 342.4h0M280.3 326.4h0M264.8 357.9h0M277.8 371.1h0M261.3 369.7h0M290.6 360.0h0M301.6 365.1h0M285.5 352.3h0M228.5 374.5h0M332.2 371.8h0M274.0 369.1h0M314.9 361.6h0M231.4 368.0h0M227.3 349.8h0M341.0 364.6h0M292.3 363.4h0M335.5 363.6h0M332.0 373.1h0M298.3 359.1h0M284.7 356.3h0M327.8 375.7h0M323.6 370.2h0M285.9 342.6h0M242.5 364.2h0M267.7 366.6h0M244.9 351.6h0M268.3 371.8h0M295.2 371.6h0M327.7 373.6h0M261.8 343.4h0M334.9 374.1h0M285.6 370.9h0M324.1 373.1h0M337.9 374.7h0M233.3 360.5h0M285.3 357.6h0M342.6 372.7h0M270.4 335.6h0M361.7 380.2h0M261.0 370.6h0M253.5 354.4h0M293.8 349.4h0M247.0 371.3h0M288.1 368.0h0M364.0 376.5h0M310.4 356.4h0M269.6 367.7h0M255.3 335.2h0M264.4 371.3h0M306.4 368.0h0M325.3 369.7h0M249.7 351.1h0M274.1 353.0h0M272.8 364.8h0M316.3 371.1h0M323.9 368.2h0M276.9 362.6h0M226.9 374.0h0M332.2 377.0h0M336.1 369.5h0M305.3 364.1h0M295.4 365.6h0M337.2 374.2h0M269.7 371.1h0M284.3 345.2h0M260.3 365.6h0M291.7 354.9h0M357.6 377.4h0M298.3 360.7h0M252.6 367.5h0M255.9 348.3h0M258.2 371.1h0M323.4 371.0h0M241.3 366.3h0M260.1 368.7h0M261.7 371.9h0M317.6 369.0h0M242.3 365.1h0M265.3 370.4h0M229.5 369.9h0M232.5 372.6h0M261.5 354.3h0M247.0 351.8h0M308.2 370.6h0M317.0 367.0h0M232.1 373.1h0M274.8 362.2h0M300.8 350.6h0M246.2 362.3h0M304.3 371.1h0M275.6 347.9h0M277.3 359.0h0M229.3 373.3h0M310.7 368.7h0M334.9 372.1h0M278.1 369.5h0M249.1 368.4h0M333.3 369.1h0M294.0 356.7h0M272.7 365.8h0M253.2 369.7h0M278.6 372.1h0M294.3 370.9h0M284.1 364.5h0M287.0 365.6h0M246.8 367.0h0M279.7 370.3h0M360.8 377.5h0M231.4 357.7h0M283.7 367.9h0M315.8 366.2h0M275.0 359.3h0M358.2 377.1h0M284.4 368.2h0M294.0 360.0h0M283.7 360.6h0M326.0 372.2h0M305.5 371.6h0M363.3 371.2h0M307.6 346.7h0M307.2 371.4h0M242.0 367.9h0M339.9 376.4h0M259.4 369.0h0M299.0 369.1h0M276.6 371.9h0M276.1 369.1h0M251.7 364.0h0M348.8 375.2h0M296.4 363.9h0M263.8 365.7h0M311.0 359.2h0M337.6 374.4h0M248.7 363.1h0M330.3 374.6h0M286.0 361.3h0M227.7 367.3h0M247.9 361.3h0M257.5 373.3h0M310.8 371.0h0M247.0 373.5h0M274.2 367.0h0M266.6 363.1h0M275.0 369.3h0M331.4 375.6h0M293.6 370.4h0M290.6 371.9h0M325.8 349.6h0M349.1 379.3h0M358.2 379.7h0M273.2 372.6h0M349.3 378.9h0M323.0 352.3h0M255.9 359.2h0M333.8 373.0h0M281.5 360.9h0M302.9 366.8h0M239.5 370.6h0M289.4 345.5h0M298.8 369.1h0M297.5 368.9h0M268.9 367.5h0M306.0 364.4h0M239.3 373.8h0M306.5 370.4h0M309.2 351.9h0M333.1 377.3h0M271.9 370.5h0M244.0 373.3h0M281.2 354.6h0M235.6 373.5h0M288.1 365.9h0M274.2 356.4h0M254.8 370.9h0M263.7 372.5h0M347.4 373.5h0M266.9 371.6h0M349.6 370.8h0M333.9 369.8h0M277.8 370.7h0M225.0 372.3h0M321.8 372.2h0M266.6 372.6h0M340.6 372.8h0M225.9 373.0h0M233.6 363.7h0M259.8 366.5h0M303.1 372.0h0M313.8 358.3h0M334.9 375.2h0M274.7 371.3h0M272.8 368.2h0M302.8 352.2h0M290.3 369.2h0M357.5 371.9h0M244.4 371.2h0M324.2 371.3h0M245.9 372.9h0M273.0 367.0h0M303.8 371.2h0M318.9 372.2h0M278.1 352.4h0M284.6 366.9h0M312.9 347.8h0M253.7 358.8h0M276.9 372.2h0M268.2 371.6h0M280.2 364.1h0M331.2 374.5h0M248.1 370.1h0M302.3 369.5h0M343.8 377.1h0M320.5 365.9h0M350.6 379.1h0M243.1 366.7h0M295.5 372.0h0M243.8 373.0h0M309.1 365.2h0M297.8 362.1h0M330.2 370.3h0M255.5 337.6h0M260.2 370.7h0M309.0 372.4h0M255.9 368.0h0M267.0 360.5h0M347.3 378.2h0M235.6 368.9h0M294.8 358.4h0M288.7 370.7h0M261.1 370.1h0M231.8 374.4h0M283.7 369.1h0M254.2 369.7h0M308.4 369.5h0M279.5 363.8h0M283.6 369.4h0M279.5 356.3h0M341.7 372.7h0M263.7 367.6h0M289.2 368.5h0M334.7 376.5h0M316.4 367.9h0M324.2 366.5h0M352.8 369.8h0M224.5 369.9h0M334.6 369.3h0M295.7 369.5h0M238.8 356.4h0M278.5 369.3h0M233.4 372.0h0M286.7 364.6h0M314.7 369.2h0M311.4 366.3h0M335.9 367.6h0M236.4 365.3h0M261.9 369.9h0M301.3 354.7h0M367.1 376.2h0M243.7 372.3h0M302.2 357.9h0M273.8 365.8h0M355.5 375.3h0M266.5 370.4h0M323.8 368.7h0M339.9 374.2h0M309.7 372.0h0M301.6 367.8h0M321.1 374.8h0M296.8 360.9h0M361.3 371.3h0M233.9 366.8h0M290.2 333.4h0M261.5 371.6h0M278.2 369.1h0M307.9 328.0h0M293.4 368.6h0M322.8 374.6h0M329.5 375.7h0M269.7 355.8h0M237.8 362.8h0M344.6 379.2h0M354.8 379.4h0M287.6 371.1h0M346.7 376.0h0M357.8 375.7h0M227.5 351.9h0M315.0 372.5h0M273.1 369.7h0M307.3 361.7h0M272.3 372.6h0M241.2 365.0h0M279.1 367.1h0M319.3 354.1h0M286.9 369.9h0M266.0 367.9h0M300.3 369.6h0M361.8 377.3h0M288.5 339.4h0M256.5 370.7h0M296.3 363.8h0M319.2 358.6h0M349.5 371.4h0M288.8 369.6h0M291.2 370.3h0M246.9 364.6h0M252.5 356.4h0M238.3 364.4h0M322.0 369.6h0M280.1 352.4h0M368.2 379.3h0M237.2 361.3h0M245.3 336.9h0M271.0 369.1h0M311.3 368.2h0M233.9 355.1h0M229.4 369.8h0M225.7 373.7h0M254.4 372.7h0M273.2 357.0h0M340.0 377.9h0M236.9 359.6h0M278.1 371.1h0M316.2 363.2h0M226.9 357.7h0M261.5 370.9h0M309.9 353.5h0M252.5 370.3h0M227.5 365.6h0M250.8 364.3h0M298.6 370.4h0M277.6 372.0h0M251.9 351.4h0M282.5 368.7h0M278.2 367.2h0M304.7 367.6h0M287.4 361.1h0M270.4 365.2h0M330.3 374.8h0M255.7 363.4h0M322.0 372.5h0M345.3 367.5h0M289.2 367.6h0M297.6 366.8h0M296.5 356.6h0M245.9 362.1h0M303.1 349.4h0M322.9 373.7h0M334.9 369.9h0M313.2 357.6h0M232.2 363.2h0M324.5 371.7h0M250.6 364.0h0M351.6 377.5h0M297.5 337.9h0M256.6 368.5h0M277.9 365.4h0M299.7 339.7h0M289.7 367.0h0M249.7 370.3h0M325.8 368.4h0M295.6 370.4h0M329.8 375.5h0M273.8 336.8h0M274.1 365.8h0M298.4 334.6h0M258.8 352.3h0M286.3 368.9h0M262.7 351.0h0M227.0 373.3h0M278.0 362.8h0M297.1 348.5h0M293.0 371.7h0M234.5 373.8h0M305.8 363.3h0M316.9 373.5h0M298.5 357.6h0M281.0 359.5h0M283.7 368.9h0M260.6 373.4h0M267.2 358.2h0M305.5 367.2h0M282.6 350.5h0M283.0 358.8h0M232.0 371.3h0M312.2 366.0h0M255.0 350.2h0M268.3 371.1h0M227.8 372.9h0M278.1 356.5h0M303.7 370.6h0M291.6 363.4h0M289.3 370.1h0M233.3 369.8h0M226.7 359.0h0M293.6 371.1h0M231.1 367.9h0M267.3 346.3h0M290.8 367.5h0M260.5 367.7h0M277.9 363.3h0M320.9 367.4h0M262.9 363.1h0M302.6 354.5h0M271.3 367.3h0M270.8 365.8h0M248.5 372.0h0M268.6 368.7h0M240.2 365.9h0M269.6 372.8h0M342.6 378.7h0M367.1 379.3h0M310.2 369.5h0M255.2 359.0h0M334.4 376.5h0M267.0 369.2h0M274.9 370.5h0M303.3 370.8h0M238.9 371.7h0M302.7 365.6h0M235.6 359.7h0M325.0 362.4h0M328.0 373.7h0M320.0 373.4h0M341.4 365.8h0M347.2 376.2h0M335.4 375.0h0M264.0 368.6h0M234.6 373.6h0M336.1 362.5h0M314.7 373.6h0M230.2 364.0h0M249.5 373.7h0M354.3 375.4h0M328.4 365.4h0M224.6 374.6h0M308.4 365.8h0M258.7 371.6h0M308.3 372.3h0M241.2 372.1h0M278.7 370.1h0M256.9 370.3h0M346.7 379.2h0M284.2 372.1h0M318.8 372.0h0M254.9 371.8h0M246.0 373.3h0M284.2 365.5h0M323.8 374.9h0M335.0 367.9h0M256.3 372.2h0M270.7 369.5h0M254.3 364.8h0M340.6 370.7h0M309.6 346.6h0M266.1 373.0h0M329.5 372.6h0M339.4 377.5h0M292.9 359.9h0M283.2 349.7h0M360.8 379.0h0M359.1 379.6h0M337.0 375.0h0M358.2 368.9h0M296.9 368.0h0M340.4 369.0h0M337.2 374.1h0M244.5 372.6h0M317.3 373.1h0M323.9 370.5h0M301.5 361.7h0M282.1 367.5h0M326.4 365.4h0M295.5 362.3h0M357.9 379.3h0M287.7 362.2h0M246.5 364.4h0M235.2 373.9h0M305.1 368.8h0M319.1 369.7h0M306.5 367.2h0M284.2 366.1h0M289.7 370.6h0M326.3 375.9h0M243.6 371.1h0M276.0 372.3h0M341.4 374.3h0M263.2 370.4h0M274.6 363.2h0M302.1 371.9h0M257.7 370.9h0M228.2 362.7h0M360.3 375.3h0M330.0 373.3h0M308.7 332.2h0M319.9 365.2h0M356.2 374.1h0M307.9 369.2h0M266.7 367.8h0M299.3 366.1h0M354.1 379.6h0M226.8 373.5h0M298.1 369.6h0M290.1 372.1h0M248.9 362.1h0M259.7 370.0h0M308.9 370.6h0M307.4 361.3h0M335.2 375.9h0M315.4 370.8h0M299.8 368.7h0M224.8 370.4h0M281.1 359.6h0M281.2 371.9h0M321.1 373.9h0M299.8 369.4h0M274.9 371.8h0M231.2 364.0h0M255.1 368.0h0M249.5 367.8h0M263.8 369.4h0M263.7 319.8h0M302.3 369.1h0M334.4 375.3h0M230.6 369.9h0M264.9 371.1h0M312.0 369.0h0M323.6 375.1h0M302.3 371.4h0M316.7 357.9h0M247.5 372.6h0M232.2 363.0h0M329.0 376.2h0M319.0 368.5h0M319.3 363.7h0M280.8 370.8h0M247.0 366.9h0M330.4 376.0h0M256.2 356.9h0M224.9 371.1h0M258.3 365.3h0M344.6 376.0h0M287.1 350.7h0M316.3 340.2h0M233.2 368.9h0M234.0 370.6h0M292.0 363.3h0M224.6 373.2h0M300.2 333.2h0M272.3 359.3h0M267.5 372.3h0M307.9 371.9h0M324.2 370.8h0M279.6 365.5h0M323.4 370.6h0M274.3 363.6h0M290.9 356.7h0M255.8 373.1h0M289.3 371.6h0M344.8 379.4h0M277.9 351.9h0M311.2 333.7h0M266.9 369.5h0M253.1 366.4h0M286.2 355.5h0M317.5 373.5h0M295.5 363.0h0M298.6 371.9h0M295.6 368.4h0M300.2 355.6h0M347.1 377.1h0M340.8 373.0h0M276.6 353.0h0M273.4 367.8h0M283.3 366.6h0M317.9 366.6h0M289.4 368.3h0M290.1 368.4h0M326.9 360.4h0M274.9 366.7h0M310.9 368.0h0M224.8 374.3h0M348.2 374.4h0M283.9 368.9h0M269.5 372.3h0M294.8 368.7h0M300.5 372.1h0M350.8 372.0h0M269.8 358.4h0M317.4 354.4h0M299.8 371.9h0M263.3 364.2h0M318.2 373.3h0M271.8 370.1h0M326.4 361.1h0M322.2 363.1h0M315.6 366.8h0M318.0 374.3h0M237.0 373.7h0M344.7 377.6h0M300.1 369.5h0M323.7 355.9h0M312.9 357.4h0M361.5 379.9h0M334.8 376.6h0M243.4 373.0h0M232.5 370.8h0M328.4 375.1h0M340.2 369.7h0M259.2 363.2h0M266.6 354.2h0M365.8 377.0h0M318.8 371.2h0M282.3 365.2h0M286.4 360.7h0M275.2 365.0h0M284.8 366.1h0M322.7 369.3h0M342.6 378.4h0M297.4 371.7h0M319.4 364.8h0M264.6 359.9h0M230.1 360.8h0M270.5 369.8h0M285.2 371.6h0M273.2 368.5h0M255.8 366.7h0M248.6 369.2h0M334.0 374.8h0M309.4 371.5h0M303.3 366.9h0M275.4 358.5h0M295.1 362.0h0M313.3 367.8h0M324.4 339.5h0M231.9 368.8h0M369.0 377.3h0M264.0 370.0h0M341.9 373.7h0M283.6 371.9h0M281.8 358.6h0M279.6 370.2h0M244.6 368.5h0M339.3 376.9h0M253.9 354.4h0M263.4 367.6h0M345.1 377.3h0M305.2 371.8h0M260.0 370.3h0M310.0 356.2h0M292.0 355.8h0M303.2 353.3h0M242.6 367.3h0M283.3 358.8h0M302.2 366.2h0M302.1 364.2h0M288.1 370.3h0M310.2 362.5h0M295.4 371.5h0M229.7 361.9h0M356.2 379.0h0M252.2 371.5h0M277.2 369.3h0M250.0 372.2h0M277.4 364.1h0M254.4 363.2h0M283.5 362.1h0M283.8 370.5h0M255.6 363.4h0M286.5 314.3h0M321.6 375.1h0M276.5 360.4h0M332.2 370.4h0M281.4 363.6h0M278.3 363.0h0M275.7 363.4h0M242.0 372.7h0M288.4 366.7h0M290.2 364.7h0M232.5 368.5h0M262.4 370.7h0M272.3 355.9h0M357.9 379.5h0M330.8 371.8h0M231.9 365.3h0M333.0 365.3h0M266.1 367.5h0M252.3 365.9h0M361.2 378.5h0M301.5 364.5h0M280.7 333.4h0M280.7 341.7h0M255.1 371.2h0M317.8 373.0h0M267.4 369.0h0M347.5 378.9h0M274.7 367.9h0M301.2 371.1h0M323.0 371.2h0M330.1 374.9h0M263.1 371.9h0M324.4 370.7h0M263.9 342.0h0M315.3 372.8h0M250.2 371.6h0M237.5 360.6h0M260.0 358.1h0M303.7 361.9h0M278.9 371.6h0M263.5 341.8h0M287.6 369.7h0M229.7 370.7h0M272.5 367.2h0M312.4 363.4h0M284.2 358.0h0M248.6 344.2h0M273.1 363.5h0M244.4 370.4h0M337.6 348.9h0M225.3 370.0h0M313.7 353.2h0M243.0 372.8h0M306.2 362.3h0M311.3 371.2h0M250.5 333.3h0M270.1 369.2h0M327.1 364.1h0M336.9 378.4h0M276.1 368.7h0M270.5 362.4h0M331.5 376.5h0M299.2 366.0h0M224.3 372.6h0M304.7 329.0h0M238.8 373.0h0M283.7 369.6h0M252.4 372.2h0M303.4 369.5h0M304.8 368.8h0M290.5 361.6h0M301.0 371.8h0M364.7 378.9h0M283.0 357.5h0M257.0 367.1h0M299.9 369.0h0M262.1 368.9h0M228.9 358.4h0M285.0 360.3h0M255.6 373.4h0M296.3 364.0h0M335.3 376.9h0M314.3 364.0h0M273.9 369.5h0M234.3 372.8h0M322.3 341.9h0M316.6 362.8h0M300.7 371.5h0M227.5 372.5h0M283.2 367.8h0M272.4 367.6h0M318.8 361.4h0M320.2 372.1h0M295.2 364.5h0M289.0 369.0h0M349.4 375.5h0M228.2 371.6h0M301.4 354.5h0M266.9 358.6h0M255.1 353.5h0M363.1 377.8h0M320.4 337.6h0M363.0 375.0h0M238.9 359.3h0M249.3 373.3h0M342.4 360.4h0M322.1 368.1h0M325.4 372.8h0M320.2 361.6h0M348.1 374.2h0M279.1 367.8h0M312.7 369.8h0M315.6 372.6h0M307.4 342.6h0M321.1 371.3h0M301.2 357.3h0M358.2 377.0h0M306.0 368.0h0M315.4 373.6h0M279.6 370.7h0M230.1 366.7h0M260.0 370.0h0M250.6 370.5h0M325.9 373.6h0M226.1 374.7h0M302.0 360.7h0M243.0 371.7h0M355.1 368.2h0M290.6 363.9h0M228.6 369.2h0M315.1 368.2h0M318.5 366.8h0M249.3 353.0h0M262.1 367.9h0M364.6 380.0h0M366.8 379.2h0M257.6 373.1h0M342.1 358.0h0M272.6 370.5h0M282.9 368.7h0M272.2 372.2h0M356.0 378.2h0M275.5 369.6h0M241.4 368.8h0M277.6 369.7h0M262.6 371.3h0M267.2 370.1h0M248.9 368.7h0M313.8 372.4h0M282.2 361.7h0M312.2 371.9h0M352.2 375.1h0M294.1 367.8h0M252.3 372.7h0M265.6 368.4h0M324.1 339.5h0M315.3 368.7h0M286.9 368.4h0M324.0 371.3h0M308.3 368.6h0M280.1 357.5h0M321.7 374.4h0M239.9 351.6h0M258.8 360.4h0M351.7 374.3h0M284.7 366.6h0M285.8 370.5h0M232.4 370.1h0M311.9 359.2h0M253.6 353.8h0M305.6 364.5h0M294.8 362.9h0M254.9 369.2h0M249.3 345.0h0M267.5 366.3h0M232.1 374.4h0M338.4 376.4h0M250.0 361.7h0M315.9 370.3h0M301.3 369.7h0M299.9 369.5h0M354.4 376.6h0M311.6 347.1h0M369.2 379.5h0M297.8 371.5h0M333.0 377.4h0M336.9 375.1h0M317.6 370.5h0M235.1 373.3h0M345.9 376.9h0M318.3 362.2h0M228.7 362.0h0M273.5 369.9h0M339.8 375.9h0M358.2 377.8h0M297.9 357.6h0M312.8 370.1h0M225.8 373.1h0M344.0 377.9h0M277.0 371.8h0M287.0 371.9h0M235.6 346.6h0M238.4 366.2h0M318.6 332.7h0M282.3 342.0h0M294.4 346.9h0M298.4 320.5h0M340.6 354.1h0M273.9 352.4h0M270.3 348.0h0M281.6 341.2h0M312.5 323.9h0M252.0 354.5h0M316.2 351.5h0M268.0 339.8h0M339.5 351.7h0M306.8 353.5h0M285.4 317.1h0M263.0 348.1h0M332.8 333.1h0M301.2 304.1h0M338.9 310.4h0M263.2 331.9h0M280.3 352.0h0M290.0 349.3h0M302.6 287.4h0M305.0 349.8h0M255.5 315.8h0M310.4 348.3h0M316.1 352.7h0M250.2 335.1h0M289.3 336.9h0M276.0 314.0h0M300.5 337.0h0M260.6 329.0h0M280.1 340.0h0M286.2 304.5h0M310.8 351.8h0M281.1 343.1h0M342.8 353.5h0M292.9 346.4h0M331.5 343.2h0M251.3 342.3h0M276.8 294.0h0M296.2 351.4h0M278.9 351.9h0M271.3 347.7h0M299.4 350.1h0M284.8 345.7h0M298.5 317.6h0M286.2 353.6h0M247.5 344.1h0M301.3 301.4h0M281.8 351.5h0M297.7 341.8h0M235.3 348.3h0M322.6 351.8h0M340.0 351.8h0M343.4 347.8h0M298.5 354.4h0M296.6 352.8h0M289.7 329.1h0M253.8 353.2h0M247.2 345.3h0M270.2 347.4h0M316.7 327.7h0M235.3 348.2h0M317.0 345.4h0M333.0 347.5h0M273.4 340.1h0M331.7 326.6h0M346.0 347.2h0M285.3 333.8h0M335.1 339.0h0M285.5 326.4h0M266.2 348.1h0M233.0 348.5h0M324.5 351.1h0M300.6 352.1h0M325.8 342.2h0M269.0 335.2h0M286.5 291.8h0M328.9 295.7h0M320.0 303.2h0M303.9 347.2h0M295.3 344.0h0M334.2 343.4h0M336.5 345.6h0M231.1 342.2h0M323.9 348.8h0M339.8 346.9h0M278.0 314.5h0M296.9 329.0h0M252.6 333.1h0M324.1 348.3h0M296.6 347.8h0M278.3 351.0h0M244.4 327.5h0M292.9 353.5h0M280.1 344.8h0M263.1 351.7h0M332.6 347.2h0M247.4 353.6h0M348.5 324.3h0M274.1 316.5h0M316.9 329.0h0M263.7 325.7h0M317.5 351.7h0M324.9 351.4h0M302.4 345.8h0M318.0 320.8h0M261.4 352.2h0M283.3 349.6h0M303.3 354.2h0M273.0 344.9h0M308.4 353.8h0M334.3 337.2h0M308.8 344.4h0M309.6 352.0h0M329.1 352.7h0M313.3 337.6h0M288.5 337.8h0M311.9 334.4h0M307.7 339.1h0M259.0 341.3h0M230.1 346.4h0M292.3 341.3h0M323.6 324.0h0M342.8 344.6h0M268.3 331.4h0M287.2 328.6h0M292.9 336.4h0M304.1 282.4h0M298.9 353.0h0M291.9 354.3h0M292.4 354.3h0M248.6 319.1h0M319.9 349.7h0M252.6 354.6h0M285.4 353.6h0M296.0 349.4h0M325.5 319.2h0M300.5 339.9h0M308.6 335.7h0M264.0 339.9h0M299.6 350.1h0M264.0 325.1h0M314.4 307.6h0M272.0 299.6h0M264.9 354.2h0M244.7 343.0h0M243.0 354.6h0M291.1 352.8h0M339.7 328.7h0M301.8 348.1h0M298.2 333.1h0M305.6 316.6h0M288.6 345.0h0M291.9 350.2h0M249.5 339.2h0M267.7 314.6h0M242.7 341.2h0M298.9 327.9h0M264.7 334.1h0M290.5 351.2h0M270.5 353.2h0M256.7 340.6h0M275.3 335.0h0M320.4 350.1h0M301.7 353.2h0M271.4 345.9h0M233.9 349.0h0M272.4 349.6h0M336.4 349.9h0M248.5 331.5h0M327.3 352.8h0M276.9 349.4h0M295.0 334.8h0M303.9 321.7h0M301.8 336.8h0M247.4 346.5h0M328.0 321.9h0M320.1 347.2h0M290.6 298.7h0M284.3 338.7h0M251.8 348.1h0M260.7 337.2h0M342.8 354.0h0M294.2 349.0h0M261.3 350.8h0M281.3 353.3h0M306.7 326.8h0M328.1 350.9h0M273.6 348.3h0M282.1 345.9h0M277.8 315.4h0M251.5 346.2h0M315.2 348.9h0M277.1 316.2h0M260.4 307.1h0M317.2 327.3h0M337.3 346.8h0M278.9 344.1h0M272.2 348.5h0M271.1 328.4h0M242.9 353.2h0M311.3 341.2h0M306.1 328.6h0M270.0 291.1h0M282.2 353.5h0M276.1 341.9h0M308.0 349.4h0M267.4 344.0h0M274.6 352.3h0M304.0 351.1h0M264.4 330.7h0M269.7 354.5h0M279.6 346.8h0M278.3 300.3h0M279.5 354.0h0M305.4 326.1h0M268.7 353.2h0M308.9 350.8h0M296.0 320.9h0M310.0 333.9h0M254.1 331.3h0M264.4 348.7h0M330.9 311.6h0M322.6 352.1h0M277.8 344.3h0M288.5 347.1h0M320.7 353.6h0M275.2 352.5h0M275.1 328.0h0M318.1 354.0h0M234.3 352.7h0M293.8 328.1h0M276.0 339.7h0M322.7 352.0h0M323.9 345.5h0M259.1 351.0h0M342.3 351.6h0M273.6 342.2h0M320.1 330.2h0M297.5 353.1h0M277.6 343.5h0M310.3 350.9h0M314.7 338.4h0M302.1 342.1h0M341.4 299.3h0M280.7 336.1h0M278.0 343.2h0M311.3 348.6h0M343.0 351.7h0M286.1 334.4h0M293.8 335.5h0M310.1 354.0h0M302.7 351.6h0M289.3 331.5h0M283.6 336.6h0M268.5 352.7h0M345.7 349.8h0M234.2 346.8h0M344.9 298.5h0M255.2 334.7h0M236.2 349.6h0M261.6 310.5h0M280.0 294.6h0M291.2 351.3h0M293.4 303.3h0M290.2 349.1h0M315.0 353.7h0M281.7 351.9h0M267.3 337.8h0M257.1 333.3h0M302.1 342.6h0M348.5 350.3h0M311.8 352.4h0M324.2 347.3h0M317.2 352.0h0M346.3 336.6h0M316.6 313.3h0M275.8 347.1h0M289.6 321.5h0M247.2 325.7h0M337.5 335.4h0M265.7 335.1h0M300.2 354.2h0M287.6 351.7h0M283.5 339.5h0M263.4 340.3h0M286.2 288.9h0M278.9 310.3h0M296.8 349.0h0M256.5 326.8h0M315.6 352.5h0M335.1 347.9h0M305.7 325.2h0M262.5 353.5h0M349.9 333.8h0M293.0 324.9h0M269.3 343.3h0M273.6 353.1h0M282.2 339.8h0M249.1 314.5h0M322.9 332.9h0M334.9 353.0h0M263.6 340.2h0M316.8 349.3h0M306.0 297.0h0M298.8 317.2h0M289.1 337.2h0M230.3 347.2h0M285.0 335.9h0M286.3 349.7h0M260.9 348.0h0M278.9 354.2h0M273.6 323.9h0M289.7 323.5h0M264.1 334.3h0M328.0 352.3h0M291.7 316.4h0M227.8 347.9h0M324.1 350.7h0M325.2 348.7h0M309.9 321.0h0M281.3 345.0h0M317.3 336.8h0M310.8 346.2h0M310.6 352.1h0M267.0 349.8h0M322.3 338.4h0M287.9 353.8h0M336.0 335.5h0M301.1 337.7h0M313.7 279.3h0M312.6 318.4h0M307.6 354.3h0M270.2 292.8h0M342.3 371.1h0M341.3 348.4h0M302.3 342.2h0M302.3 344.9h0M319.2 368.9h0M323.6 337.0h0M304.8 348.3h0M315.9 357.5h0M343.6 363.1h0M321.7 371.2h0M323.3 367.2h0M319.1 355.8h0M327.1 351.5h0M342.6 363.3h0M340.9 329.8h0M311.4 362.6h0M349.9 365.1h0M327.3 374.5h0M353.9 368.3h0M309.2 371.3h0M318.8 364.9h0M300.7 333.4h0M310.5 356.0h0M295.5 368.4h0M355.2 360.2h0M306.5 360.9h0M337.9 352.7h0M296.4 365.1h0M302.2 370.1h0M333.6 365.6h0M355.3 355.8h0M335.7 338.5h0M347.7 368.6h0M299.0 370.1h0M294.8 349.3h0M314.8 360.5h0M351.4 348.3h0M339.3 372.1h0M317.5 361.1h0M335.8 332.3h0M320.4 326.8h0M311.8 374.2h0M299.7 353.4h0M346.0 347.8h0M294.6 372.7h0M358.2 358.1h0M294.4 373.9h0M339.8 367.3h0M292.4 350.3h0M298.1 373.8h0M294.0 349.0h0M343.1 373.1h0M291.2 323.9h0M299.0 372.2h0M308.4 359.4h0M304.8 374.1h0M357.5 365.8h0M333.6 342.0h0M316.7 372.6h0M315.0 352.8h0M300.3 370.2h0M291.0 361.0h0M300.0 354.1h0M329.5 363.0h0M333.4 362.6h0M314.7 341.2h0M315.0 366.1h0M344.6 350.8h0M356.1 370.2h0M355.5 368.3h0M362.5 363.4h0M297.1 332.3h0M304.1 366.7h0M308.0 353.3h0M330.5 372.9h0M318.1 359.0h0M314.0 373.2h0M307.9 366.2h0M299.7 360.0h0M358.4 362.7h0M309.0 370.8h0M296.1 365.6h0M317.2 363.4h0M305.6 292.2h0M318.7 371.8h0M306.4 322.5h0M300.5 318.4h0M361.2 369.8h0M358.5 355.1h0M325.5 346.6h0M307.5 369.6h0M292.8 366.3h0M315.2 359.4h0M327.1 368.7h0M316.5 331.6h0M315.9 359.5h0M298.4 371.4h0M295.6 327.2h0M328.0 373.9h0M339.0 372.8h0M302.4 361.2h0M313.2 359.2h0M300.2 367.1h0M312.0 360.7h0M332.6 361.9h0M320.7 361.0h0M299.5 358.1h0M319.6 356.6h0M355.3 368.8h0M347.2 368.7h0M357.9 357.1h0M298.3 356.0h0M295.1 300.8h0M353.4 353.4h0M349.4 355.2h0M306.7 366.6h0M300.8 332.2h0M294.9 315.3h0M333.7 371.9h0M326.5 371.7h0M292.5 360.5h0M290.6 361.7h0M330.8 364.9h0M305.8 364.6h0M315.6 333.3h0M336.3 360.8h0M322.8 346.6h0M349.4 369.0h0M324.3 363.3h0M311.3 368.7h0M326.4 331.7h0M346.2 355.3h0M330.7 362.0h0M340.2 371.2h0M304.1 305.0h0M302.4 366.2h0M294.9 343.0h0M335.4 373.6h0M327.8 370.8h0M334.8 368.2h0M330.2 366.9h0M328.6 362.2h0M337.4 366.5h0M328.9 371.6h0M294.2 368.4h0M303.7 348.2h0M314.4 357.9h0M302.1 366.9h0M306.6 370.6h0M303.7 360.0h0M343.3 348.8h0M311.0 367.2h0M302.0 329.7h0M296.9 348.9h0M292.4 354.0h0M324.1 371.0h0M341.6 372.2h0M297.6 357.6h0M325.4 358.9h0M295.7 371.7h0M348.8 366.7h0M325.7 359.1h0M305.4 343.4h0M314.0 342.0h0M299.6 373.3h0M345.4 363.6h0M327.9 346.4h0M324.9 370.7h0M292.1 369.6h0M295.3 321.7h0M323.7 359.3h0M324.9 370.8h0M293.3 366.5h0M370.8 366.8h0M323.7 366.6h0M292.8 364.3h0M333.9 371.9h0M297.8 309.6h0M359.1 319.5h0M332.1 358.6h0M294.1 361.9h0M336.7 369.8h0M321.3 370.7h0M310.3 345.0h0M325.0 359.6h0M317.0 372.4h0M324.6 372.6h0M354.6 341.2h0M299.7 365.8h0M343.3 370.9h0M308.7 345.8h0M294.0 360.1h0M338.5 363.6h0M318.1 356.6h0M293.8 373.7h0M307.0 370.2h0M297.8 361.5h0M336.2 355.3h0M341.7 366.1h0M298.6 367.3h0M291.8 371.6h0M302.8 331.8h0M307.4 360.6h0M311.6 352.7h0M309.9 355.8h0M291.7 366.2h0M310.8 371.1h0M343.0 357.7h0M297.4 373.8h0M310.2 355.2h0M339.4 371.0h0M327.7 364.4h0M301.7 365.0h0M314.0 363.4h0M296.0 345.1h0M353.4 306.0h0M315.7 367.0h0M363.8 361.2h0M312.2 373.1h0M297.8 344.3h0M333.6 373.2h0M293.8 358.7h0M301.0 372.0h0M294.8 354.9h0M292.3 369.3h0M336.1 371.4h0M323.7 366.7h0M304.1 350.0h0M327.0 372.7h0M339.1 312.7h0M329.0 371.8h0M293.9 330.3h0M323.1 362.1h0M335.8 352.7h0M296.4 353.5h0M360.2 361.5h0M304.2 374.6h0M308.6 363.1h0M340.1 373.8h0M330.1 372.3h0M309.3 368.8h0M321.0 373.3h0M366.2 360.4h0M301.8 331.9h0M291.3 368.6h0M294.9 364.0h0M292.2 349.5h0M310.0 374.3h0M312.7 374.2h0M330.2 366.6h0M293.2 349.4h0M298.9 327.9h0M298.9 362.6h0M300.4 334.2h0M309.0 363.8h0M313.6 369.9h0M338.8 360.8h0M311.0 371.9h0M315.0 374.4h0M307.2 364.4h0M344.9 343.7h0M299.7 354.2h0M320.4 343.6h0M314.1 367.9h0M323.0 366.5h0M327.3 359.7h0M314.2 374.4h0M336.5 370.9h0M336.6 371.5h0M338.5 354.9h0M362.9 367.9h0M314.9 342.8h0M292.0 360.7h0M313.0 359.8h0M321.3 368.8h0M316.6 332.6h0M338.4 373.1h0M324.4 358.1h0M297.2 304.4h0M343.7 371.4h0M297.4 358.1h0M350.2 371.6h0M344.8 369.0h0M325.2 373.8h0M293.5 370.7h0M305.3 319.5h0M318.6 373.7h0M312.3 370.2h0M297.6 366.9h0M298.5 368.7h0M336.1 371.0h0M309.4 359.5h0M292.1 356.6h0M327.2 347.8h0M338.2 372.5h0M361.9 362.3h0M317.2 291.0h0M337.8 370.2h0M295.6 374.6h0M293.9 354.1h0M312.9 369.6h0M361.8 364.8h0M325.1 369.0h0M306.1 345.8h0M339.5 373.8h0M331.5 372.3h0M309.6 372.9h0M330.0 359.3h0M333.0 370.7h0M308.6 366.1h0M345.3 331.9h0M346.2 330.4h0M346.8 329.9h0M347.4 328.0h0M348.3 326.9h0M348.7 326.9h0M350.0 324.8h0M350.7 324.2h0M351.6 322.4h0M352.8 321.7h0M353.0 319.8h0M355.0 319.2h0M355.8 318.5h0M356.0 316.9h0M351.8 344.5h0M351.8 343.1h0M352.9 341.8h0M354.1 340.3h0M355.3 340.3h0M356.1 338.3h0M357.6 339.1h0M358.0 335.7h0M359.3 334.9h0M373.2 331.3h0M372.7 329.9h0M374.3 324.4h0M376.4 328.1h0M377.4 324.6h0M378.3 323.3h0M381.0 322.7h0M382.1 318.9h0M381.0 317.9h0M385.4 316.0h0M385.9 315.2h0M388.0 310.7h0M388.1 311.7h0M389.8 307.4h0M388.4 308.3h0M392.9 309.3h0M389.3 304.5h0M392.0 309.0h0M387.0 311.0h0M343.0 376.3h0M341.4 366.2h0M342.3 334.6h0M352.3 369.7h0M350.9 330.3h0M357.1 348.6h0M343.9 330.2h0M365.2 345.8h0M350.6 351.9h0M343.5 364.8h0M360.0 340.6h0M361.2 350.6h0M352.6 353.2h0M369.0 331.2h0M340.9 345.8h0M348.6 352.0h0M365.1 353.2h0M352.2 360.5h0M364.5 375.4h0M362.1 374.0h0M341.4 367.3h0M344.5 341.9h0M373.4 375.6h0M352.1 369.1h0M355.9 338.1h0M343.2 347.9h0M350.1 357.3h0M361.6 376.9h0M355.3 366.1h0M365.6 347.1h0" stroke="#45a047" stroke-width="1.8" stroke-linecap="round" fill="none"/>
<path d="M135.4 382.4h0M164.7 382.4h0M158.0 385.0h0M130.0 383.9h0M137.1 376.7h0M121.2 378.4h0M129.1 381.1h0M172.7 382.0h0M162.7 381.2h0M139.1 378.6h0M147.9 383.4h0M158.8 379.2h0M165.3 381.4h0M132.0 382.6h0M164.9 381.4h0M133.8 381.9h0M155.2 377.1h0M169.9 381.4h0M163.2 381.8h0M157.6 384.6h0M127.0 381.7h0M163.2 386.3h0M155.7 378.8h0M155.7 386.3h0M146.5 384.3h0M165.9 382.4h0M175.3 381.5h0M133.8 376.9h0M117.3 383.1h0M126.2 379.7h0M144.9 377.1h0M137.2 384.8h0M122.6 382.2h0M139.0 381.7h0M160.9 382.0h0M162.4 385.0h0M164.4 383.7h0M172.5 381.0h0M125.1 386.0h0M117.5 382.2h0M157.8 381.5h0M151.8 379.6h0M149.0 377.7h0M166.0 382.7h0M164.5 383.5h0M172.6 381.4h0M174.1 379.7h0M173.0 381.2h0M135.8 379.4h0M142.8 383.8h0M147.0 380.4h0M118.3 380.5h0M151.8 378.8h0M134.6 381.9h0M155.8 382.3h0M174.5 386.1h0M127.9 382.6h0M133.4 379.5h0M119.0 383.0h0M127.7 381.9h0M206.3 379.0h0M199.3 376.2h0M206.9 380.3h0M198.5 383.6h0M207.0 379.0h0M198.8 370.6h0M194.4 376.6h0M201.8 384.0h0M207.7 376.4h0M205.1 380.2h0M195.5 380.4h0M193.7 382.4h0M208.7 379.5h0M196.3 379.8h0M203.8 381.9h0M192.3 386.3h0M198.6 379.6h0M195.5 378.8h0M208.8 380.7h0M195.0 378.5h0M191.5 379.9h0M201.5 378.0h0M210.5 384.8h0M195.3 380.2h0M210.3 381.2h0M212.3 386.2h0M202.6 385.7h0M202.8 379.9h0M205.9 380.1h0M208.9 385.9h0M211.8 381.7h0M200.3 380.0h0M196.1 379.3h0M200.5 380.2h0M209.3 380.0h0M208.5 384.7h0M206.3 381.1h0M212.6 384.3h0M210.5 379.6h0M206.5 376.7h0M193.9 380.2h0M203.9 379.2h0M205.5 379.4h0M205.6 370.7h0M202.6 385.6h0M205.3 385.7h0M200.8 380.4h0M205.8 380.1h0M195.7 383.2h0M199.3 382.9h0M203.2 379.5h0M199.3 384.5h0M201.8 380.3h0M208.5 380.4h0M195.7 378.1h0M191.8 379.8h0M193.7 376.2h0M203.9 377.8h0M194.9 381.3h0M206.4 381.0h0M195.8 383.9h0M204.1 379.6h0M207.3 383.2h0M202.3 384.5h0M203.1 380.6h0M205.8 385.3h0M202.8 385.9h0M199.8 379.3h0M202.1 377.4h0M202.2 383.1h0M199.6 378.9h0M204.4 376.6h0M95.4 380.0h0M115.9 384.5h0M87.9 383.1h0M105.8 378.5h0M88.1 378.6h0M89.2 382.4h0M88.3 378.8h0M97.0 378.6h0M113.2 384.5h0M177.7 384.9h0M188.8 381.4h0M181.5 386.1h0M200.6 380.6h0M125.4 375.1h0M126.1 377.3h0M137.2 362.6h0M103.9 373.0h0M193.9 379.3h0M99.9 377.8h0M185.9 380.2h0M121.2 373.5h0M101.0 379.2h0M155.2 378.1h0M142.0 377.0h0M204.5 376.9h0M146.4 377.9h0M87.7 379.9h0M100.3 376.7h0M199.2 374.3h0M173.9 377.7h0M124.3 379.9h0M168.1 377.4h0M204.7 370.3h0M112.9 371.2h0M154.7 377.5h0M123.8 378.9h0M123.7 377.6h0M142.0 373.2h0M108.5 376.4h0M93.0 376.2h0M108.4 378.0h0M194.0 378.9h0M126.7 377.7h0M207.2 379.6h0M92.9 379.3h0M176.7 377.1h0M102.8 378.3h0M94.5 367.0h0M127.8 375.7h0M198.9 375.4h0M137.4 375.3h0M193.1 378.1h0M135.6 377.1h0M133.6 365.1h0M174.7 377.5h0M193.7 361.5h0M92.7 362.2h0M210.0 379.6h0M136.6 373.7h0M127.3 367.6h0M201.1 366.6h0M146.6 376.4h0M234.0 349.9h0M259.8 365.6h0M327.8 358.2h0M235.6 346.6h0M322.6 366.8h0M321.5 366.3h0M304.8 362.9h0M307.0 359.8h0M273.9 346.0h0M249.9 343.6h0M232.5 363.9h0M247.6 340.6h0M278.9 350.4h0M288.4 343.6h0M315.1 356.5h0M316.4 356.7h0M255.4 349.5h0M347.7 368.9h0M335.6 373.8h0M259.5 356.3h0M307.1 326.1h0M275.9 363.7h0M226.7 363.3h0M267.0 345.7h0M352.5 377.1h0M299.2 351.4h0M239.2 365.7h0M315.5 366.0h0M228.5 360.2h0M228.9 361.7h0M281.0 358.2h0M276.4 355.0h0M260.0 356.3h0M348.1 375.3h0M239.4 366.4h0M264.3 355.1h0M280.4 303.4h0M254.1 365.8h0M276.8 329.8h0M237.8 333.2h0M227.8 362.7h0M282.0 348.8h0M267.9 357.8h0M311.9 342.1h0M326.4 368.4h0M349.1 374.0h0M253.8 352.6h0M362.2 377.4h0M252.1 364.3h0M245.8 366.9h0M248.7 362.5h0M244.5 327.0h0M252.8 344.3h0M231.6 362.2h0M230.6 359.6h0M256.4 354.9h0M236.4 362.6h0M317.7 361.8h0M270.0 347.4h0M265.3 360.1h0M281.7 315.2h0M272.3 360.1h0M282.3 364.2h0M238.7 349.6h0M315.8 342.4h0M340.5 375.1h0M254.9 352.5h0M236.1 363.8h0M233.4 357.4h0M268.9 323.5h0M236.6 343.7h0M253.5 365.0h0M287.2 348.6h0M306.7 360.6h0M262.9 362.4h0M247.9 361.8h0M278.5 343.8h0M225.1 362.2h0M240.0 352.8h0M280.5 364.2h0M299.0 347.9h0M242.3 352.5h0M250.3 347.1h0M233.3 366.4h0M310.8 311.0h0M244.7 364.7h0M241.9 354.4h0M285.9 337.2h0M249.9 348.7h0M298.1 361.5h0M351.1 366.6h0M314.9 347.0h0M325.5 350.5h0M225.3 351.1h0M249.8 366.3h0M294.9 356.7h0M276.8 325.6h0M280.3 355.1h0M301.4 345.7h0M309.5 355.4h0M255.4 355.2h0M341.8 372.4h0M236.6 347.0h0M325.6 359.6h0M309.6 349.7h0M337.9 369.0h0M349.4 370.7h0M338.0 370.6h0M306.1 363.6h0M252.0 353.9h0M362.1 375.6h0M308.1 364.7h0M330.0 367.5h0M322.0 357.0h0M344.8 361.6h0M333.7 364.1h0M307.9 354.8h0M283.7 359.8h0M276.1 358.0h0M251.0 363.8h0M273.3 358.5h0M321.1 357.0h0M310.2 364.0h0M281.3 352.1h0M230.2 366.2h0M262.7 362.6h0M270.5 346.1h0M278.8 363.6h0M237.1 367.0h0M326.2 369.2h0M284.0 359.9h0M257.7 361.9h0M324.8 351.8h0M248.3 332.8h0M293.4 344.3h0M292.6 353.8h0M258.3 363.1h0M298.1 362.5h0M281.1 354.3h0M280.3 363.3h0M313.0 356.3h0M232.4 362.4h0M327.7 363.1h0M256.6 364.0h0M246.1 362.6h0M318.8 366.4h0M307.0 342.5h0M225.8 368.2h0M282.3 359.6h0M300.9 347.8h0M247.1 366.8h0M277.8 364.1h0M333.6 366.9h0M282.0 363.4h0M315.3 365.9h0M237.5 357.7h0M226.1 363.1h0M273.6 357.0h0M316.6 332.5h0M258.6 340.1h0M231.0 347.1h0M330.8 368.3h0M250.3 360.6h0M287.7 348.3h0M225.3 361.0h0M318.2 362.9h0M309.5 364.1h0M248.8 355.5h0M265.5 358.9h0M275.3 313.8h0M245.1 351.9h0M297.0 359.0h0M229.9 358.3h0M309.7 344.1h0M246.8 355.5h0M256.1 363.8h0M259.1 361.2h0M238.7 362.1h0M323.3 362.0h0M233.2 366.3h0M263.7 341.6h0M291.2 357.0h0M280.7 360.2h0M232.5 358.6h0M259.1 361.3h0M234.5 364.4h0M316.0 345.3h0M236.7 358.2h0M271.8 356.7h0M228.9 358.4h0M229.2 361.8h0M283.4 361.0h0M257.7 358.0h0M338.0 374.5h0M274.7 357.4h0M317.7 366.7h0M271.0 353.4h0M249.4 338.3h0M356.6 378.5h0M281.0 361.4h0M289.0 360.5h0M301.0 356.1h0M282.5 358.8h0M282.6 324.1h0M294.0 361.0h0M235.6 353.4h0M278.4 353.2h0M257.7 359.4h0M283.1 353.5h0M353.1 369.1h0M269.5 364.5h0M282.4 363.3h0M340.0 375.2h0M231.8 353.9h0M272.5 363.8h0M303.1 356.2h0M267.1 356.2h0M272.5 352.2h0M254.4 317.7h0M302.2 349.5h0M312.3 362.2h0M232.4 351.3h0M355.9 377.6h0M346.2 367.9h0M308.3 363.4h0M261.4 360.7h0M231.2 360.7h0M264.2 363.8h0M271.6 364.7h0M267.0 364.3h0M297.4 356.2h0M268.1 350.3h0M300.0 341.6h0M288.7 359.6h0M249.9 352.5h0M363.3 374.9h0M265.0 363.2h0M326.0 366.5h0M254.3 363.6h0M300.1 358.0h0M246.9 355.4h0M303.4 350.8h0M235.2 359.8h0M300.7 321.0h0M274.9 359.4h0M287.7 363.5h0M284.8 354.4h0M250.7 356.8h0M267.5 335.5h0M248.3 357.3h0M338.9 368.7h0M262.0 353.4h0M231.3 364.5h0M257.7 354.2h0M266.6 359.4h0M252.6 328.2h0M309.3 329.8h0M242.6 338.0h0M257.3 360.6h0M337.3 374.0h0M334.9 372.1h0M235.8 363.9h0M244.5 352.6h0M253.8 356.0h0M285.3 358.6h0M228.3 360.8h0M325.8 360.5h0M239.0 347.1h0M236.8 363.4h0M247.4 354.3h0M266.7 352.7h0M230.1 366.2h0M256.1 360.0h0M284.8 363.9h0M265.4 347.9h0M281.9 357.7h0M247.0 326.4h0M269.0 362.4h0M301.9 355.9h0M235.1 356.6h0M233.7 360.1h0M303.3 345.3h0M234.9 357.6h0M261.2 336.0h0M263.7 355.9h0M225.4 367.9h0M268.7 352.8h0M229.5 356.5h0M363.9 378.5h0M231.3 359.0h0M300.7 362.1h0M300.6 360.6h0M250.7 364.2h0M259.2 362.5h0M230.8 365.8h0M258.9 354.2h0M288.7 345.7h0M284.5 353.8h0M289.6 352.5h0M274.5 362.5h0M273.3 358.8h0M237.2 334.9h0M270.9 344.5h0M284.6 350.8h0M297.4 338.0h0M242.6 361.0h0M301.9 358.3h0M281.1 355.8h0M285.2 363.0h0M240.5 358.9h0M310.6 363.8h0M232.9 362.9h0M255.9 351.0h0M286.0 351.2h0M286.3 347.2h0M289.8 343.4h0M314.5 354.5h0M300.0 349.6h0M249.0 333.5h0M295.0 349.7h0M305.9 324.7h0M324.4 345.0h0M297.3 289.9h0M283.9 340.2h0M281.2 350.6h0M309.4 345.9h0M256.6 339.3h0M337.1 340.8h0M249.8 345.9h0M270.9 348.6h0M283.4 350.3h0M276.1 345.0h0M327.9 344.1h0M287.4 312.9h0M239.0 343.4h0M245.0 346.1h0M287.5 347.7h0M280.3 336.5h0M287.7 330.3h0M253.0 324.5h0M340.1 353.7h0M312.9 335.7h0M286.7 335.8h0M236.6 352.5h0M242.4 350.9h0M265.7 337.0h0M296.5 350.4h0M254.3 343.6h0M318.9 346.9h0M260.5 348.2h0M299.7 344.3h0M325.3 319.4h0M293.8 336.5h0M314.8 315.0h0M274.5 348.7h0M309.0 352.8h0M298.6 352.7h0M279.6 332.0h0M324.0 309.4h0M294.7 344.7h0M333.5 337.9h0M329.1 350.3h0M296.2 347.1h0M322.1 348.3h0M298.5 354.3h0M253.3 326.1h0M281.5 336.6h0M285.5 329.7h0M329.5 354.0h0M317.6 354.3h0M246.5 350.1h0M256.6 351.1h0M283.4 296.3h0M295.3 341.6h0M283.3 325.8h0M276.1 349.3h0M272.7 332.2h0M265.9 325.7h0M270.1 333.5h0M337.2 329.7h0M278.6 319.1h0M248.5 320.6h0M245.7 350.4h0M250.9 348.5h0M254.0 310.7h0M341.6 351.5h0M343.0 352.6h0M260.4 325.5h0M289.8 352.8h0M262.8 332.2h0M285.8 347.2h0M300.7 325.4h0M254.4 351.3h0M294.9 354.5h0M278.2 350.4h0M345.1 350.4h0M297.4 331.0h0M317.8 351.6h0M310.7 345.3h0M293.0 328.7h0M300.2 352.1h0M327.0 338.8h0M333.5 352.1h0M290.6 351.6h0M276.3 340.1h0M328.8 349.7h0M297.0 343.3h0M339.3 347.5h0M249.8 347.0h0M267.1 331.6h0M273.4 345.4h0M292.1 337.6h0M250.8 353.2h0M284.2 338.0h0M280.9 333.2h0M336.3 345.5h0M268.4 328.4h0M265.2 353.2h0M349.9 348.1h0M253.1 325.0h0M285.9 330.5h0M286.0 299.0h0M256.3 352.0h0M272.3 352.5h0M293.7 321.2h0M340.9 350.5h0M248.0 345.5h0M312.5 345.5h0M310.0 351.6h0M267.7 343.1h0M276.4 321.6h0M334.6 347.5h0M258.1 338.8h0M275.4 347.6h0M267.6 335.2h0M264.5 345.8h0M262.0 337.1h0M269.2 343.6h0M289.9 332.4h0M302.3 311.4h0M309.0 338.7h0M295.5 347.3h0M244.7 348.2h0M243.0 351.8h0M323.7 344.6h0M292.3 348.6h0M297.9 344.8h0M302.8 351.8h0M273.9 347.2h0M273.1 339.2h0M304.8 351.7h0M246.6 327.5h0M273.9 333.8h0M348.2 350.6h0M317.9 343.1h0M329.2 342.9h0M308.3 351.7h0M307.6 297.1h0M321.0 321.7h0M244.7 339.8h0M294.7 344.4h0M281.1 352.9h0M314.1 350.3h0M270.9 352.5h0M335.1 339.8h0M239.7 330.3h0M292.7 341.0h0M301.9 328.7h0M307.8 353.2h0M335.1 341.6h0M332.0 337.5h0M250.0 329.2h0M293.8 348.7h0M246.0 352.1h0M285.1 342.1h0M277.5 345.3h0M335.9 350.5h0M298.0 330.7h0M243.2 345.0h0M267.8 354.6h0M293.9 349.1h0M249.1 320.9h0M315.4 339.2h0M332.1 342.1h0M263.5 336.7h0M271.8 347.3h0M282.7 347.1h0M335.1 338.6h0M305.5 354.0h0M281.4 324.9h0M279.0 317.3h0M296.9 333.1h0M298.8 350.4h0M260.3 346.3h0M265.0 319.1h0M311.6 350.2h0M349.9 317.8h0M321.4 333.1h0M265.5 351.0h0M315.4 347.7h0M321.6 343.1h0M257.6 337.7h0M330.7 334.8h0M243.5 333.1h0M258.9 352.2h0M308.5 351.6h0M234.7 338.1h0M306.8 303.0h0M317.1 347.6h0M287.3 350.1h0M315.6 285.9h0M330.6 344.1h0M297.9 292.1h0M257.8 346.0h0M263.0 334.5h0M286.3 331.6h0M253.5 327.9h0M281.0 333.6h0M303.9 353.9h0M309.7 322.0h0M287.1 352.7h0M302.7 315.6h0M335.8 343.0h0M258.6 340.0h0M278.4 340.2h0M279.7 349.9h0M252.2 341.2h0M321.7 348.9h0M248.3 326.4h0M251.0 350.7h0M286.5 332.5h0M288.7 340.4h0M302.3 347.8h0M302.6 304.0h0M286.9 347.8h0M302.0 342.5h0M294.9 351.3h0M297.3 335.6h0M329.7 320.8h0M328.5 345.8h0M257.3 338.3h0M318.3 342.6h0M292.1 350.0h0M283.8 340.0h0M318.6 345.6h0M277.3 341.8h0M316.9 321.9h0M262.0 351.1h0M288.9 331.0h0M283.2 339.1h0M264.1 349.8h0M268.0 349.3h0M262.5 315.7h0M300.1 349.2h0M323.2 341.7h0M277.9 330.0h0M258.9 340.1h0M272.2 322.3h0M291.8 322.6h0M326.3 343.4h0M319.1 294.8h0M245.9 348.3h0M260.4 352.7h0M295.7 328.9h0M281.8 335.0h0M296.8 352.6h0M335.1 320.6h0M265.8 332.6h0M283.0 332.3h0M328.4 347.1h0M311.7 339.8h0M276.4 344.9h0M272.2 323.4h0M320.4 280.6h0M297.6 347.7h0M264.6 299.9h0M328.9 346.5h0M292.8 353.4h0M277.9 338.9h0M332.2 346.1h0M281.5 350.3h0M282.9 339.5h0M338.3 338.6h0M272.2 330.7h0M297.7 320.1h0M349.1 344.0h0M254.3 349.6h0M345.6 331.7h0M249.3 344.2h0M239.2 333.7h0M278.5 348.0h0M328.9 348.9h0M285.8 351.1h0M279.5 349.9h0M314.5 335.3h0M276.7 352.9h0M249.1 327.0h0M285.8 339.3h0M315.1 345.2h0M275.7 334.0h0M287.6 348.4h0M271.9 316.1h0M320.8 345.4h0M318.8 304.8h0M309.6 353.5h0M316.8 345.4h0M328.8 353.5h0M295.6 347.5h0M329.4 307.4h0M308.1 343.8h0M240.0 342.1h0M345.1 300.2h0M270.5 347.2h0M269.1 343.9h0M295.3 333.4h0M328.5 352.0h0M301.3 349.0h0M339.9 344.3h0M323.4 338.1h0M316.4 311.1h0M267.7 343.7h0M298.5 336.9h0M260.1 303.7h0M279.5 351.8h0M291.4 341.1h0M275.5 354.2h0M267.1 348.2h0M319.0 341.2h0M301.3 302.0h0M258.9 306.3h0M276.8 344.7h0M313.1 333.5h0M247.0 350.6h0M313.4 331.3h0M281.5 343.4h0M318.5 298.9h0M262.3 338.5h0M292.6 323.1h0M277.4 348.3h0M293.9 346.7h0M258.3 349.3h0M318.0 341.3h0M264.6 350.5h0M227.4 351.9h0M323.5 327.7h0M303.1 309.2h0M347.2 350.2h0M291.5 339.9h0M311.8 346.9h0M267.4 351.0h0M252.3 345.8h0M295.6 329.5h0M281.6 345.7h0M277.0 350.7h0M280.8 332.4h0M302.8 349.7h0M319.4 316.7h0M299.0 322.1h0M275.9 352.0h0M305.5 333.9h0M258.5 351.3h0M263.8 353.3h0M257.7 341.7h0M283.5 335.3h0M256.8 352.3h0M255.1 336.8h0M306.5 324.0h0M299.2 339.2h0M293.0 319.7h0M259.4 344.2h0M262.5 347.4h0M294.1 354.2h0M333.1 351.1h0M299.1 317.6h0M279.4 300.2h0M257.5 350.6h0M275.9 310.8h0M307.2 349.9h0M319.0 334.6h0M330.9 346.5h0M296.8 353.4h0M283.2 334.7h0M259.0 339.8h0M262.6 335.9h0M254.8 346.1h0M259.2 321.7h0M266.0 328.9h0M244.2 343.5h0M311.0 322.1h0M263.6 335.5h0M323.5 343.2h0M269.1 350.6h0M259.3 323.3h0M252.6 352.3h0M254.1 343.9h0M235.5 344.7h0M285.1 352.2h0M280.5 318.6h0M282.8 344.0h0M291.3 343.6h0M263.2 318.9h0M248.8 352.5h0M291.6 344.7h0M330.2 352.3h0M264.8 341.9h0M310.0 344.4h0M257.4 329.2h0M316.6 294.7h0M329.6 319.0h0M286.3 306.5h0M269.6 346.3h0M308.1 324.9h0M306.9 330.2h0M347.6 345.9h0M277.0 346.7h0M264.6 347.8h0M250.3 350.7h0M311.8 351.4h0M343.3 337.8h0M278.4 348.7h0M272.5 348.2h0M296.9 293.2h0M300.1 344.4h0M296.5 328.2h0M289.9 329.6h0M261.4 342.6h0M286.7 352.9h0M292.8 345.7h0M273.6 343.0h0M248.2 337.3h0M315.6 349.2h0M286.0 347.5h0M309.9 345.2h0M295.6 350.2h0M317.8 351.8h0M323.4 321.0h0M345.8 326.4h0M310.5 333.0h0M292.6 351.5h0M284.1 335.7h0M326.9 340.0h0M295.0 325.9h0M246.5 352.0h0M305.3 335.3h0M276.3 332.4h0M308.9 334.5h0M317.2 331.7h0M245.1 330.9h0M246.1 349.2h0M293.7 347.8h0M290.3 337.3h0M275.3 348.2h0M250.4 346.0h0M294.2 352.4h0M254.2 351.1h0M264.8 349.3h0M270.5 322.9h0M290.2 346.5h0M248.8 317.9h0M346.6 331.2h0M265.4 354.0h0M295.9 347.4h0M345.6 340.1h0M245.9 332.1h0M295.5 308.6h0M243.6 352.1h0M343.4 338.4h0M310.8 372.3h0M354.9 358.5h0M312.7 348.7h0M333.7 374.4h0M292.5 354.9h0M305.9 372.0h0M323.8 373.6h0M307.3 362.0h0M364.2 361.8h0M292.2 300.9h0M331.3 374.5h0M331.5 367.1h0M364.1 337.3h0M296.5 354.7h0M357.4 338.2h0M326.7 364.2h0M299.6 344.8h0M301.2 359.6h0M302.6 361.2h0M317.0 329.9h0M311.6 363.3h0M351.4 365.7h0M345.2 354.7h0M304.1 364.6h0M304.0 367.4h0M294.1 358.0h0M332.1 373.0h0M310.5 369.8h0M342.9 358.4h0M320.0 369.3h0M294.1 361.0h0M295.2 368.9h0M306.4 371.4h0M291.8 359.7h0M303.5 357.0h0M315.5 367.7h0M308.1 361.2h0M294.8 357.4h0M300.3 373.0h0M335.9 356.0h0M299.8 338.2h0M308.2 336.8h0M290.1 337.3h0M300.5 353.7h0M347.9 360.4h0M327.4 372.2h0M331.8 374.5h0M290.5 354.0h0M303.7 367.4h0M275.4 232.0h0" stroke="#b8932e" stroke-width="1.8" stroke-linecap="round" fill="none"/>
<path d="M264.6 370.6h0M268.8 363.4h0M264.2 371.7h0M275.4 368.1h0M283.5 371.6h0M300.6 365.3h0M251.1 366.7h0M262.9 368.3h0M272.7 329.4h0M283.2 370.7h0M244.8 372.4h0M347.0 378.1h0M268.0 350.4h0M318.7 371.5h0M367.2 378.0h0M286.5 365.1h0M239.8 370.9h0M264.4 366.7h0M330.4 375.4h0M358.1 376.2h0M287.4 360.2h0M268.1 368.5h0M290.9 371.4h0M321.3 369.5h0M226.5 373.9h0M243.4 367.7h0M318.2 365.1h0M266.3 368.8h0M288.2 350.7h0M336.9 371.9h0M358.9 379.5h0M294.1 363.5h0M238.6 357.6h0M251.1 371.5h0M257.1 362.1h0M303.8 368.8h0M228.8 367.0h0M304.3 371.0h0M306.9 345.5h0M286.4 345.1h0M314.2 368.1h0M248.5 372.0h0M276.0 361.7h0M247.5 370.8h0M272.6 364.5h0M247.3 369.8h0M293.2 361.3h0M229.3 354.7h0M357.0 375.0h0M249.1 373.5h0M262.0 362.8h0M264.6 363.4h0M256.6 344.6h0M341.4 379.4h0M225.2 373.9h0M301.7 360.3h0M348.6 353.9h0M336.6 378.3h0M241.4 365.3h0M263.5 370.3h0M317.3 369.6h0M289.0 367.2h0M298.4 368.4h0M285.6 364.1h0M322.4 364.0h0M258.6 372.1h0M240.9 372.2h0M252.0 368.9h0M307.5 366.9h0M248.1 373.6h0M233.0 374.1h0M351.4 372.2h0M246.8 369.5h0M334.4 371.4h0M308.1 354.7h0M272.4 368.0h0M271.7 372.1h0M292.8 369.9h0M307.8 346.5h0M338.3 376.7h0M241.3 358.2h0M263.0 362.1h0M349.6 377.6h0M226.3 374.3h0M284.7 355.0h0M329.8 372.0h0M322.1 366.0h0M349.4 370.5h0M293.5 369.8h0M250.7 371.7h0M245.9 362.0h0M240.4 371.4h0M350.6 374.6h0M227.5 366.7h0M302.9 365.8h0M253.8 370.3h0M265.6 371.7h0M321.0 363.1h0M314.1 367.6h0M316.2 371.3h0M317.0 367.0h0M270.5 366.2h0M282.7 361.6h0M320.5 372.2h0M332.3 369.2h0M287.4 355.7h0M251.4 361.4h0M273.9 365.6h0M312.2 365.1h0M307.3 370.2h0M348.0 377.7h0M299.4 360.2h0M249.8 352.1h0M254.6 362.1h0M310.4 358.2h0M362.3 376.9h0M334.4 370.3h0M302.2 371.0h0M316.4 369.1h0M293.4 367.7h0M307.2 369.2h0M253.8 368.1h0M260.0 364.6h0M331.7 365.3h0M238.9 368.4h0M244.2 339.0h0M329.6 375.6h0M319.1 368.5h0M350.1 367.8h0M344.5 373.2h0M310.4 357.1h0M301.3 343.2h0M227.8 372.1h0M357.8 379.2h0M243.2 369.6h0M264.5 372.8h0M241.6 358.7h0M298.6 363.6h0M283.4 369.0h0M327.1 371.5h0M350.1 369.5h0M292.0 371.7h0M281.4 371.3h0M347.1 364.3h0M307.5 368.6h0M272.9 367.1h0M256.1 363.6h0M230.5 368.6h0M306.8 370.9h0M279.3 344.9h0M326.7 370.9h0M283.9 362.2h0M369.3 378.3h0M289.1 355.5h0M349.3 358.2h0M298.3 363.0h0M307.4 349.2h0M262.8 365.3h0M327.1 372.8h0M231.3 372.4h0M288.4 356.2h0M319.1 370.5h0M322.4 344.4h0M295.8 371.7h0M338.1 375.4h0M287.4 357.1h0M238.8 342.4h0M360.8 374.7h0M239.3 369.1h0M261.7 370.7h0M311.3 370.7h0M281.4 360.4h0M306.5 370.6h0M343.0 376.4h0M251.3 338.7h0M309.3 361.5h0M281.6 336.5h0M305.1 365.2h0M254.2 362.7h0M284.9 370.8h0M311.1 368.5h0M302.7 371.9h0M267.7 370.5h0M354.9 377.7h0M295.1 359.4h0M307.6 369.8h0M314.5 359.5h0M242.3 365.6h0M275.4 355.7h0M305.9 358.4h0M232.9 368.8h0M327.7 353.6h0M367.5 378.1h0M321.8 369.6h0M242.8 365.1h0M272.5 370.3h0M271.2 369.8h0M265.8 370.0h0M314.3 363.5h0M319.2 358.9h0M329.8 362.5h0M310.0 362.1h0M247.6 370.2h0M273.7 352.9h0M316.4 366.6h0M334.5 378.0h0M260.0 371.4h0M246.2 368.1h0M289.6 369.3h0M295.3 370.5h0M308.3 372.3h0M301.1 368.4h0M235.6 369.0h0M265.5 368.3h0M327.5 367.0h0M279.7 368.5h0M253.6 373.0h0M317.0 371.3h0M240.0 367.8h0M291.3 357.1h0M351.4 369.5h0M263.8 373.1h0M224.8 368.4h0M271.2 349.6h0M298.1 367.0h0M367.4 379.4h0M303.2 367.3h0M358.2 374.6h0M264.7 365.2h0M324.6 371.6h0M279.8 365.5h0M245.7 361.6h0M280.4 361.9h0M241.6 370.9h0M348.6 371.3h0M270.5 349.7h0M268.6 368.1h0M359.9 375.4h0M256.1 367.4h0M258.0 366.9h0M244.6 371.6h0M321.6 341.9h0M271.4 360.9h0M310.2 358.4h0M266.2 343.6h0M324.9 374.8h0M268.5 365.7h0M254.6 368.4h0M316.0 371.4h0M311.4 364.2h0M327.0 374.6h0M328.0 371.5h0M328.7 375.3h0M355.9 375.3h0M270.1 363.4h0M248.0 359.5h0M269.4 367.3h0M237.8 373.7h0M265.5 372.3h0M276.8 371.7h0M326.8 360.4h0M281.0 346.0h0M295.4 330.5h0M253.5 373.4h0M353.6 367.0h0M235.4 373.4h0M228.6 373.4h0M321.3 369.3h0M293.1 357.3h0M342.8 369.5h0M292.4 358.3h0M348.2 375.6h0M326.4 373.3h0M298.2 370.9h0M310.9 370.7h0M261.0 372.7h0M259.0 357.7h0M312.8 351.5h0M273.5 366.9h0M237.6 371.1h0M342.2 377.9h0M320.9 367.7h0M235.4 367.3h0M306.4 366.5h0M275.2 368.0h0M365.8 371.3h0M355.9 375.6h0M332.8 373.0h0M243.0 362.2h0M261.4 370.0h0M316.2 374.0h0M342.6 370.1h0M242.6 373.5h0M341.0 372.3h0M325.3 374.9h0M344.4 375.6h0M281.4 358.6h0M293.5 364.7h0M235.4 373.1h0M228.8 354.9h0M357.2 377.9h0M234.5 372.5h0M231.4 370.4h0M265.1 364.6h0M283.8 369.2h0M270.0 364.4h0M299.5 359.0h0M365.2 379.0h0M321.1 374.9h0M273.6 371.8h0M247.3 366.3h0M323.2 373.0h0M278.5 367.4h0M288.1 368.7h0M244.4 349.4h0M298.2 347.1h0M318.7 369.5h0M274.4 365.3h0M296.3 369.8h0M241.9 365.5h0M274.6 354.7h0M283.0 371.4h0M277.9 371.1h0M369.2 377.2h0M282.6 366.9h0M251.3 368.1h0M270.7 367.2h0M273.7 371.9h0M317.9 369.0h0M252.8 372.2h0M247.9 369.9h0M304.5 358.1h0M291.4 362.6h0M246.4 371.0h0M308.6 370.9h0M318.5 374.4h0M265.2 369.9h0M317.2 358.3h0M233.6 374.1h0M258.4 367.2h0M247.9 369.7h0M339.3 374.7h0M296.2 371.2h0M266.2 366.5h0M263.5 372.7h0M294.2 371.1h0M240.2 368.0h0M285.0 370.1h0M327.2 356.9h0M313.7 371.0h0M230.9 370.1h0M262.4 368.5h0M236.7 371.5h0M271.3 354.5h0M308.7 355.7h0M240.2 367.4h0M301.2 367.4h0M248.5 368.9h0M327.5 352.6h0M325.7 371.0h0M351.0 377.2h0M307.7 369.0h0M317.7 354.1h0M243.9 348.0h0M300.8 369.3h0M233.2 371.0h0M248.4 371.0h0M274.3 371.9h0M337.9 375.9h0M336.7 369.6h0M312.0 345.2h0M288.2 366.3h0M277.9 365.6h0M346.1 376.9h0M255.8 369.4h0M324.5 375.7h0M321.2 374.8h0M317.9 362.1h0M319.8 372.5h0M297.2 361.9h0M322.5 374.7h0M280.2 368.2h0M283.2 362.2h0M283.4 371.6h0M307.3 369.5h0M285.9 364.3h0M319.9 362.9h0M275.8 369.0h0M340.9 377.2h0M268.3 355.0h0M296.3 365.7h0M269.9 365.8h0M328.6 376.4h0M278.2 367.6h0M362.8 376.2h0M251.6 372.8h0M336.5 375.3h0M265.8 365.8h0M269.6 372.4h0M240.5 369.8h0M253.1 373.5h0M308.1 363.1h0M309.0 362.0h0M277.3 361.2h0M256.7 364.1h0M237.9 358.4h0M336.3 377.5h0M258.8 362.9h0M338.5 371.8h0M308.4 372.4h0M289.1 371.1h0M301.9 369.0h0M301.7 368.5h0M322.7 369.1h0M280.7 369.7h0M322.1 373.2h0M353.9 372.7h0M320.9 371.2h0M306.8 364.3h0M267.7 372.4h0M308.6 372.5h0M310.8 371.5h0M252.3 371.8h0M237.4 368.1h0M326.2 375.8h0M356.8 379.2h0M333.5 374.3h0M290.1 362.1h0M325.9 368.9h0M270.4 368.0h0M361.8 380.3h0M250.6 372.7h0M346.0 376.7h0M234.0 373.4h0M323.9 355.8h0M308.6 361.3h0M240.4 367.0h0M266.8 372.4h0M306.3 366.5h0M235.8 356.6h0M328.2 374.1h0M313.3 328.7h0M279.9 372.1h0M239.6 370.5h0M229.2 367.5h0M244.1 354.1h0M341.8 370.7h0M319.4 372.6h0M264.1 364.8h0M349.9 377.3h0M235.8 362.1h0M256.5 368.5h0M287.4 364.3h0M325.0 366.2h0M289.3 352.1h0M333.0 371.6h0M246.1 370.3h0M327.0 376.2h0M239.7 366.6h0M236.4 370.2h0M254.4 371.3h0M225.8 373.7h0M241.6 372.2h0M342.4 378.5h0M229.7 354.9h0M335.7 368.8h0M276.3 350.0h0M298.8 368.0h0M283.7 365.7h0M363.4 379.3h0M273.8 371.5h0M224.6 370.2h0M251.9 357.6h0M342.6 361.2h0M321.5 349.8h0M346.1 367.3h0M289.6 370.0h0M350.1 367.1h0M300.0 367.7h0M325.9 375.3h0M247.7 365.7h0M290.4 370.3h0M274.2 369.8h0M271.8 368.5h0M330.7 370.6h0M349.9 374.3h0M281.8 369.4h0M316.8 366.0h0M313.4 370.2h0M317.2 372.8h0M307.2 367.6h0M258.9 357.6h0M247.2 367.8h0M305.6 371.3h0M310.8 370.4h0M267.8 354.4h0M351.5 376.2h0M254.7 360.4h0M354.8 378.4h0M302.2 366.6h0M305.3 370.5h0M275.4 358.0h0M351.3 377.2h0M260.9 356.9h0M276.9 368.2h0M275.8 356.4h0M258.5 370.2h0M356.3 377.0h0M269.0 365.6h0M277.1 371.4h0M235.1 371.6h0M298.0 370.1h0M332.1 369.6h0M283.5 358.8h0M337.2 378.2h0M356.0 371.6h0M285.5 358.5h0M225.8 361.0h0M272.6 370.1h0M274.7 368.7h0M362.5 379.4h0M228.6 361.2h0M302.6 360.4h0M287.8 369.3h0M279.7 370.3h0M242.8 369.4h0M262.7 363.8h0M257.5 371.0h0M269.3 359.7h0M253.8 367.7h0M338.1 348.3h0M282.7 367.5h0M249.3 366.0h0M313.8 365.3h0M369.9 374.7h0M315.4 360.9h0M306.3 364.1h0M258.5 352.6h0M357.5 379.6h0M306.7 344.6h0M324.9 364.6h0M269.0 369.3h0M293.4 368.0h0M310.2 357.7h0M234.2 371.5h0M304.7 370.6h0M284.0 353.6h0M316.9 372.5h0M318.9 346.6h0M316.8 360.1h0M243.7 368.5h0M308.7 366.0h0M231.6 373.4h0M278.0 370.6h0M256.0 369.5h0M284.9 358.5h0M262.0 372.6h0M297.2 351.6h0M278.0 370.6h0M296.2 370.8h0M301.0 360.3h0M231.1 366.4h0M287.5 352.5h0M241.6 373.6h0M280.7 364.8h0M291.3 368.2h0M277.9 363.7h0M259.1 372.7h0M290.5 370.5h0M284.3 371.8h0M301.4 369.4h0M310.8 368.8h0M299.0 368.3h0M336.9 361.2h0M239.3 372.0h0M323.2 371.3h0M301.7 364.9h0M289.3 367.5h0M253.7 372.7h0M237.6 372.9h0M331.4 374.9h0M237.9 372.7h0M313.1 364.9h0M300.6 368.4h0M329.3 375.4h0M367.0 378.8h0M296.1 367.3h0M257.4 363.7h0M246.8 368.5h0M261.5 373.3h0M344.4 369.2h0M287.3 366.7h0M338.9 375.0h0M331.3 376.3h0M271.3 351.6h0M279.2 371.7h0M282.5 368.9h0M246.9 372.4h0M295.6 366.7h0M257.6 372.3h0M328.6 370.9h0M247.1 371.4h0M228.7 373.0h0M295.8 368.1h0M247.0 360.3h0M318.3 357.8h0M305.9 371.6h0M280.2 363.8h0M253.7 371.7h0M348.6 374.4h0M280.5 370.3h0M235.5 361.4h0M262.7 350.4h0M228.1 371.8h0M224.0 365.4h0M339.5 379.0h0M328.1 373.6h0M357.8 377.9h0M240.2 365.6h0M335.4 376.0h0M283.9 371.4h0M271.8 371.9h0M286.3 371.5h0M276.0 371.7h0M313.8 371.3h0M229.3 367.6h0M284.1 361.0h0M279.2 371.0h0M336.7 375.4h0M260.0 370.2h0M296.1 366.2h0M357.6 379.9h0M280.7 368.2h0M306.4 371.8h0M265.3 361.6h0M289.8 352.3h0M265.5 368.2h0M303.2 353.7h0M355.6 378.7h0M305.7 364.8h0M322.1 374.2h0M326.1 364.1h0M305.7 371.9h0M301.3 368.9h0M278.9 370.1h0M254.9 353.4h0M350.5 379.4h0M322.6 371.5h0M323.4 372.8h0M233.4 345.1h0M254.1 362.2h0M235.6 362.8h0M254.3 352.8h0M261.0 372.8h0M317.9 371.2h0M319.9 373.0h0M291.9 354.7h0M327.6 373.5h0M330.8 376.0h0M279.9 362.6h0M259.2 371.9h0M315.9 366.7h0M284.0 362.8h0M301.5 370.9h0M320.4 348.7h0M305.7 372.0h0M340.0 376.6h0M280.3 326.4h0M264.8 357.9h0M277.8 371.1h0M285.5 352.3h0M228.5 374.5h0M231.4 368.0h0M227.3 349.8h0M335.5 363.6h0M298.3 359.1h0M284.7 356.3h0M323.6 370.2h0M285.9 342.6h0M267.7 366.6h0M244.9 351.6h0M327.7 373.6h0M334.9 374.1h0M337.9 374.7h0M361.7 380.2h0M261.0 370.6h0M253.5 354.4h0M293.8 349.4h0M288.1 368.0h0M364.0 376.5h0M310.4 356.4h0M269.6 367.7h0M306.4 368.0h0M325.3 369.7h0M272.8 364.8h0M316.3 371.1h0M323.9 368.2h0M276.9 362.6h0M226.9 374.0h0M336.1 369.5h0M305.3 364.1h0M295.4 365.6h0M337.2 374.2h0M284.3 345.2h0M291.7 354.9h0M252.6 367.5h0M255.9 348.3h0M258.2 371.1h0M241.3 366.3h0M260.1 368.7h0M261.7 371.9h0M242.3 365.1h0M265.3 370.4h0M229.5 369.9h0M247.0 351.8h0M308.2 370.6h0M317.0 367.0h0M304.3 371.1h0M275.6 347.9h0M277.3 359.0h0M310.7 368.7h0M334.9 372.1h0M278.1 369.5h0M249.1 368.4h0M333.3 369.1h0M253.2 369.7h0M278.6 372.1h0M294.3 370.9h0M279.7 370.3h0M360.8 377.5h0M231.4 357.7h0M283.7 367.9h0M284.4 368.2h0M283.7 360.6h0M326.0 372.2h0M305.5 371.6h0M363.3 371.2h0M307.6 346.7h0M339.9 376.4h0M259.4 369.0h0M299.0 369.1h0M348.8 375.2h0M311.0 359.2h0M337.6 374.4h0M330.3 374.6h0M227.7 367.3h0M257.5 373.3h0M274.2 367.0h0M275.0 369.3h0M293.6 370.4h0M325.8 349.6h0M349.1 379.3h0M358.2 379.7h0M273.2 372.6h0M349.3 378.9h0M323.0 352.3h0M255.9 359.2h0M333.8 373.0h0M306.0 364.4h0M239.3 373.8h0M309.2 351.9h0M271.9 370.5h0M288.1 365.9h0M263.7 372.5h0M266.9 371.6h0M349.6 370.8h0M333.9 369.8h0M277.8 370.7h0M274.7 371.3h0M290.3 369.2h0M357.5 371.9h0M244.4 371.2h0M245.9 372.9h0M273.0 367.0h0M318.9 372.2h0M278.1 352.4h0M284.6 366.9h0M312.9 347.8h0M253.7 358.8h0M280.2 364.1h0M331.2 374.5h0M302.3 369.5h0M343.8 377.1h0M243.1 366.7h0M243.8 373.0h0M297.8 362.1h0M330.2 370.3h0M260.2 370.7h0M309.0 372.4h0M235.6 368.9h0M288.7 370.7h0M261.1 370.1h0M231.8 374.4h0M283.7 369.1h0M341.7 372.7h0M263.7 367.6h0M289.2 368.5h0M316.4 367.9h0M352.8 369.8h0M334.6 369.3h0M233.4 372.0h0M311.4 366.3h0M236.4 365.3h0M301.3 354.7h0M355.5 375.3h0M266.5 370.4h0M301.6 367.8h0M321.1 374.8h0M261.5 371.6h0M278.2 369.1h0M307.9 328.0h0M322.8 374.6h0M273.1 369.7h0M307.3 361.7h0M272.3 372.6h0M241.2 365.0h0M279.1 367.1h0M319.3 354.1h0M286.9 369.9h0M300.3 369.6h0M361.8 377.3h0M288.5 339.4h0M288.8 369.6h0M291.2 370.3h0M246.9 364.6h0M252.5 356.4h0M238.3 364.4h0M322.0 369.6h0M237.2 361.3h0M245.3 336.9h0M271.0 369.1h0M311.3 368.2h0M233.9 355.1h0M273.2 357.0h0M340.0 377.9h0M236.9 359.6h0M226.9 357.7h0M309.9 353.5h0M252.5 370.3h0M227.5 365.6h0M298.6 370.4h0M282.5 368.7h0M304.7 367.6h0M330.3 374.8h0M289.2 367.6h0M297.6 366.8h0M296.5 356.6h0M245.9 362.1h0M303.1 349.4h0M313.2 357.6h0M289.7 367.0h0M249.7 370.3h0M274.1 365.8h0M262.7 351.0h0M227.0 373.3h0M234.5 373.8h0M305.8 363.3h0M316.9 373.5h0M298.5 357.6h0M281.0 359.5h0M267.2 358.2h0M305.5 367.2h0M312.2 366.0h0M255.0 350.2h0M227.8 372.9h0M291.6 363.4h0M289.3 370.1h0M226.7 359.0h0M293.6 371.1h0M231.1 367.9h0M267.3 346.3h0M290.8 367.5h0M277.9 363.3h0M302.6 354.5h0M271.3 367.3h0M270.8 365.8h0M268.6 368.7h0M240.2 365.9h0M269.6 372.8h0M367.1 379.3h0M310.2 369.5h0M255.2 359.0h0M334.4 376.5h0M267.0 369.2h0M302.7 365.6h0M347.2 376.2h0M336.1 362.5h0M314.7 373.6h0M230.2 364.0h0M249.5 373.7h0M354.3 375.4h0M328.4 365.4h0M224.6 374.6h0M258.7 371.6h0M278.7 370.1h0M346.7 379.2h0M254.9 371.8h0M284.2 365.5h0M323.8 374.9h0M254.3 364.8h0M309.6 346.6h0M266.1 373.0h0M329.5 372.6h0M292.9 359.9h0M360.8 379.0h0M337.2 374.1h0M295.5 362.3h0M357.9 379.3h0M246.5 364.4h0M305.1 368.8h0M243.6 371.1h0M276.0 372.3h0M302.1 371.9h0M360.3 375.3h0M330.0 373.3h0M307.9 369.2h0M299.3 366.1h0M298.1 369.6h0M248.9 362.1h0M315.4 370.8h0M299.8 368.7h0M224.8 370.4h0M334.4 375.3h0M264.9 371.1h0M323.6 375.1h0M302.3 371.4h0M344.6 376.0h0M287.1 350.7h0M300.2 333.2h0M272.3 359.3h0M324.2 370.8h0M279.6 365.5h0M274.3 363.6h0M255.8 373.1h0M289.3 371.6h0M344.8 379.4h0M311.2 333.7h0M266.9 369.5h0M286.2 355.5h0M317.5 373.5h0M298.6 371.9h0M347.1 377.1h0M340.8 373.0h0M273.4 367.8h0M224.8 374.3h0M348.2 374.4h0M269.5 372.3h0M269.8 358.4h0M263.3 364.2h0M271.8 370.1h0M326.4 361.1h0M322.2 363.1h0M237.0 373.7h0M344.7 377.6h0M361.5 379.9h0M328.4 375.1h0M266.6 354.2h0M275.2 365.0h0M270.5 369.8h0M285.2 371.6h0M273.2 368.5h0M255.8 366.7h0M248.6 369.2h0M334.0 374.8h0M309.4 371.5h0M303.3 366.9h0M313.3 367.8h0M231.9 368.8h0M264.0 370.0h0M341.9 373.7h0M244.6 368.5h0M339.3 376.9h0M253.9 354.4h0M305.2 371.8h0M310.0 356.2h0M292.0 355.8h0M242.6 367.3h0M302.2 366.2h0M302.1 364.2h0M288.1 370.3h0M310.2 362.5h0M295.4 371.5h0M252.2 371.5h0M276.5 360.4h0M332.2 370.4h0M278.3 363.0h0M275.7 363.4h0M242.0 372.7h0M290.2 364.7h0M232.5 368.5h0M357.9 379.5h0M330.8 371.8h0M266.1 367.5h0M252.3 365.9h0M280.7 333.4h0M280.7 341.7h0M255.1 371.2h0M317.8 373.0h0M274.7 367.9h0M301.2 371.1h0M323.0 371.2h0M315.3 372.8h0M250.2 371.6h0M303.7 361.9h0M278.9 371.6h0M263.5 341.8h0M229.7 370.7h0M248.6 344.2h0M337.6 348.9h0M225.3 370.0h0M313.7 353.2h0M327.1 364.1h0M276.1 368.7h0M304.7 329.0h0M304.8 368.8h0M364.7 378.9h0M255.6 373.4h0M335.3 376.9h0M314.3 364.0h0M234.3 372.8h0M300.7 371.5h0M283.2 367.8h0M318.8 361.4h0M289.0 369.0h0M349.4 375.5h0M228.2 371.6h0M301.4 354.5h0M266.9 358.6h0M363.1 377.8h0M320.4 337.6h0M363.0 375.0h0M342.4 360.4h0M320.2 361.6h0M279.1 367.8h0M312.7 369.8h0M307.4 342.6h0M301.2 357.3h0M358.2 377.0h0M306.0 368.0h0M315.4 373.6h0M325.9 373.6h0M226.1 374.7h0M355.1 368.2h0M290.6 363.9h0M228.6 369.2h0M257.6 373.1h0M272.6 370.5h0M272.2 372.2h0M356.0 378.2h0M277.6 369.7h0M312.2 371.9h0M252.3 372.7h0M324.1 339.5h0M308.3 368.6h0M258.8 360.4h0M351.7 374.3h0M232.4 370.1h0M305.6 364.5h0M254.9 369.2h0M232.1 374.4h0M315.9 370.3h0M354.4 376.6h0M369.2 379.5h0M345.9 376.9h0M273.5 369.9h0M297.9 357.6h0M312.8 370.1h0M225.8 373.1h0M277.0 371.8h0M235.6 346.6h0M238.4 366.2h0M294.4 346.9h0M298.4 320.5h0M340.6 354.1h0M270.3 348.0h0M281.6 341.2h0M312.5 323.9h0M316.2 351.5h0M339.5 351.7h0M306.8 353.5h0M285.4 317.1h0M332.8 333.1h0M301.2 304.1h0M280.3 352.0h0M290.0 349.3h0M302.6 287.4h0M305.0 349.8h0M310.4 348.3h0M250.2 335.1h0M276.0 314.0h0M260.6 329.0h0M280.1 340.0h0M286.2 304.5h0M310.8 351.8h0M281.1 343.1h0M342.8 353.5h0M292.9 346.4h0M331.5 343.2h0M251.3 342.3h0M278.9 351.9h0M271.3 347.7h0M284.8 345.7h0M298.5 317.6h0M247.5 344.1h0M281.8 351.5h0M297.7 341.8h0M235.3 348.3h0M322.6 351.8h0M340.0 351.8h0M289.7 329.1h0M253.8 353.2h0M247.2 345.3h0M270.2 347.4h0M317.0 345.4h0M333.0 347.5h0M273.4 340.1h0M331.7 326.6h0M285.5 326.4h0M233.0 348.5h0M324.5 351.1h0M269.0 335.2h0M328.9 295.7h0M303.9 347.2h0M336.5 345.6h0M231.1 342.2h0M323.9 348.8h0M339.8 346.9h0M324.1 348.3h0M296.6 347.8h0M292.9 353.5h0M348.5 324.3h0M316.9 329.0h0M317.5 351.7h0M318.0 320.8h0M261.4 352.2h0M283.3 349.6h0M303.3 354.2h0M268.3 331.4h0M304.1 282.4h0M298.9 353.0h0M292.4 354.3h0M296.0 349.4h0M308.6 335.7h0M314.4 307.6h0M244.7 343.0h0M243.0 354.6h0M291.1 352.8h0M339.7 328.7h0M301.8 348.1h0M249.5 339.2h0M267.7 314.6h0M242.7 341.2h0M275.3 335.0h0M320.4 350.1h0M271.4 345.9h0M327.3 352.8h0M276.9 349.4h0M303.9 321.7h0M320.1 347.2h0M290.6 298.7h0M284.3 338.7h0M261.3 350.8h0M281.3 353.3h0M277.8 315.4h0M251.5 346.2h0M277.1 316.2h0M260.4 307.1h0M337.3 346.8h0M278.9 344.1h0M272.2 348.5h0M306.1 328.6h0M276.1 341.9h0M308.0 349.4h0M267.4 344.0h0M274.6 352.3h0M304.0 351.1h0M264.4 330.7h0M269.7 354.5h0M279.6 346.8h0M278.3 300.3h0M279.5 354.0h0M254.1 331.3h0M288.5 347.1h0M320.7 353.6h0M275.1 328.0h0M318.1 354.0h0M234.3 352.7h0M322.7 352.0h0M259.1 351.0h0M273.6 342.2h0M320.1 330.2h0M302.1 342.1h0M341.4 299.3h0M280.7 336.1h0M278.0 343.2h0M311.3 348.6h0M286.1 334.4h0M293.8 335.5h0M234.2 346.8h0M344.9 298.5h0M255.2 334.7h0M236.2 349.6h0M261.6 310.5h0M290.2 349.1h0M315.0 353.7h0M281.7 351.9h0M257.1 333.3h0M302.1 342.6h0M311.8 352.4h0M324.2 347.3h0M316.6 313.3h0M247.2 325.7h0M265.7 335.1h0M283.5 339.5h0M286.2 288.9h0M256.5 326.8h0M315.6 352.5h0M335.1 347.9h0M349.9 333.8h0M269.3 343.3h0M273.6 353.1h0M282.2 339.8h0M249.1 314.5h0M322.9 332.9h0M334.9 353.0h0M230.3 347.2h0M285.0 335.9h0M260.9 348.0h0M278.9 354.2h0M273.6 323.9h0M289.7 323.5h0M264.1 334.3h0M328.0 352.3h0M291.7 316.4h0M227.8 347.9h0M309.9 321.0h0M281.3 345.0h0M267.0 349.8h0M336.0 335.5h0M301.1 337.7h0M313.7 279.3h0M312.6 318.4h0M307.6 354.3h0M342.3 371.1h0M302.3 342.2h0M302.3 344.9h0M323.6 337.0h0M304.8 348.3h0M323.3 367.2h0M342.6 363.3h0M340.9 329.8h0M327.3 374.5h0M353.9 368.3h0M318.8 364.9h0M306.5 360.9h0M355.3 355.8h0M299.0 370.1h0M294.8 349.3h0M335.8 332.3h0M294.6 372.7h0M358.2 358.1h0M292.4 350.3h0M291.2 323.9h0M304.8 374.1h0M357.5 365.8h0M300.0 354.1h0M333.4 362.6h0M315.0 366.1h0M304.1 366.7h0M308.0 353.3h0M318.1 359.0h0M314.0 373.2h0M307.9 366.2h0M299.7 360.0h0M358.4 362.7h0M309.0 370.8h0M296.1 365.6h0M305.6 292.2h0M318.7 371.8h0M306.4 322.5h0M361.2 369.8h0M325.5 346.6h0M292.8 366.3h0M315.2 359.4h0M316.5 331.6h0M302.4 361.2h0M312.0 360.7h0M320.7 361.0h0M299.5 358.1h0M355.3 368.8h0M298.3 356.0h0M349.4 355.2h0M294.9 315.3h0M333.7 371.9h0M292.5 360.5h0M330.8 364.9h0M315.6 333.3h0M336.3 360.8h0M322.8 346.6h0M324.3 363.3h0M346.2 355.3h0M330.7 362.0h0M304.1 305.0h0M302.4 366.2h0M335.4 373.6h0M330.2 366.9h0M328.6 362.2h0M337.4 366.5h0M311.0 367.2h0M324.1 371.0h0M341.6 372.2h0M297.6 357.6h0M325.4 358.9h0M295.7 371.7h0M348.8 366.7h0M325.7 359.1h0M305.4 343.4h0M314.0 342.0h0M299.6 373.3h0M345.4 363.6h0M323.7 366.6h0M359.1 319.5h0M294.1 361.9h0M336.7 369.8h0M317.0 372.4h0M354.6 341.2h0M299.7 365.8h0M343.3 370.9h0M308.7 345.8h0M293.8 373.7h0M307.0 370.2h0M336.2 355.3h0M341.7 366.1h0M302.8 331.8h0M311.6 352.7h0M309.9 355.8h0M291.7 366.2h0M310.8 371.1h0M310.2 355.2h0M327.7 364.4h0M301.7 365.0h0M315.7 367.0h0M363.8 361.2h0M312.2 373.1h0M333.6 373.2h0M293.8 358.7h0M301.0 372.0h0M294.8 354.9h0M329.0 371.8h0M293.9 330.3h0M323.1 362.1h0M335.8 352.7h0M304.2 374.6h0M308.6 363.1h0M330.1 372.3h0M309.3 368.8h0M294.9 364.0h0M292.2 349.5h0M312.7 374.2h0M298.9 327.9h0M298.9 362.6h0M300.4 334.2h0M338.8 360.8h0M315.0 374.4h0M344.9 343.7h0M299.7 354.2h0M320.4 343.6h0M323.0 366.5h0M314.2 374.4h0M338.5 354.9h0M292.0 360.7h0M321.3 368.8h0M297.2 304.4h0M350.2 371.6h0M344.8 369.0h0M293.5 370.7h0M305.3 319.5h0M297.6 366.9h0M298.5 368.7h0M337.8 370.2h0M312.9 369.6h0M325.1 369.0h0M309.6 372.9h0M308.6 366.1h0M346.2 330.4h0M346.8 329.9h0M347.4 328.0h0M353.0 319.8h0M355.0 319.2h0M355.8 318.5h0M351.8 344.5h0M351.8 343.1h0M354.1 340.3h0M356.1 338.3h0M357.6 339.1h0M358.0 335.7h0M359.3 334.9h0M374.3 324.4h0M376.4 328.1h0M377.4 324.6h0M378.3 323.3h0M381.0 322.7h0M382.1 318.9h0M381.0 317.9h0M388.0 310.7h0M389.8 307.4h0M388.4 308.3h0M392.9 309.3h0M389.3 304.5h0M392.0 309.0h0M352.3 369.7h0M350.6 351.9h0M360.0 340.6h0M361.2 350.6h0M352.1 369.1h0M343.2 347.9h0M355.3 366.1h0M169.8 378.6h0M129.4 377.8h0M125.7 384.3h0M143.5 377.9h0M162.5 382.9h0M118.2 384.9h0M147.9 385.0h0M150.6 384.0h0M162.9 386.2h0M128.1 381.0h0M126.0 382.1h0M156.5 385.1h0M117.4 384.8h0M125.2 381.2h0M145.8 383.9h0M125.7 384.9h0M163.0 385.3h0M134.8 384.3h0M120.1 382.8h0M132.7 379.9h0M121.5 381.8h0M169.1 377.0h0M173.6 384.6h0M157.3 381.8h0M150.0 381.3h0M127.8 384.5h0M137.6 383.7h0M158.7 380.7h0M133.5 377.0h0M136.0 381.8h0M164.3 379.6h0M163.1 380.3h0M136.0 385.1h0M151.8 383.3h0M147.7 376.9h0M170.3 378.0h0M120.0 379.6h0M165.4 384.7h0M126.0 380.6h0M145.8 382.3h0M138.8 383.8h0M169.9 382.0h0M147.6 378.8h0M117.4 383.2h0M123.3 385.1h0M172.5 379.0h0M118.7 380.1h0M120.5 383.8h0M140.1 382.2h0M175.4 384.4h0M160.1 384.7h0M128.6 385.8h0M122.9 382.8h0M138.2 385.3h0M150.8 382.2h0M122.4 386.3h0M146.2 378.6h0M120.0 381.7h0M160.1 383.7h0M126.8 378.1h0M153.6 384.5h0M161.2 383.8h0M159.1 380.4h0M139.1 377.0h0M150.5 381.5h0M136.8 377.9h0M162.4 380.2h0M148.2 384.4h0M170.1 382.2h0M130.5 384.6h0M119.8 376.5h0M163.3 383.1h0M174.2 379.0h0M133.3 381.8h0M136.2 378.3h0M162.8 385.1h0M156.9 381.7h0M160.1 384.1h0M129.3 384.6h0M172.1 382.8h0M165.3 386.0h0M126.2 381.3h0M158.9 382.6h0M166.1 381.7h0M171.6 382.1h0M139.3 385.4h0M131.5 377.8h0M120.2 380.1h0M167.6 378.3h0M127.7 381.5h0M142.6 376.8h0M143.7 386.3h0M140.6 381.6h0M168.2 380.2h0M132.0 385.0h0M144.3 382.0h0M167.1 381.3h0M157.7 381.4h0M164.4 382.4h0M119.8 376.8h0M171.3 378.8h0M146.5 384.2h0M152.8 384.3h0M172.8 386.3h0M167.6 381.9h0M169.5 378.6h0M158.3 382.7h0M148.4 386.4h0M166.0 386.0h0M167.6 382.9h0M133.2 383.9h0M171.3 379.9h0M145.5 384.9h0M138.7 384.2h0M161.7 382.0h0M119.6 379.9h0M130.8 383.5h0M169.2 386.2h0M116.1 384.6h0M132.0 382.2h0M144.6 380.4h0M140.3 386.3h0M165.0 385.4h0M120.2 385.7h0M131.6 381.8h0M142.7 382.0h0M166.5 383.8h0M119.5 378.1h0M138.3 381.4h0M166.1 384.5h0M128.8 385.5h0M167.9 385.1h0M155.3 384.7h0M143.8 379.2h0M145.5 381.3h0M168.4 381.8h0M150.7 382.2h0M120.1 383.0h0M142.5 376.9h0M140.4 384.9h0M122.2 383.9h0M154.4 380.4h0M139.1 382.0h0M142.5 382.2h0M171.7 376.5h0M122.3 382.1h0M149.6 386.2h0M134.5 382.1h0M167.8 385.2h0M133.6 382.0h0M206.8 385.3h0M192.6 383.1h0M210.9 382.0h0M204.4 383.7h0M192.9 380.6h0M195.0 380.3h0M205.5 383.3h0M200.1 386.1h0M206.1 380.9h0M212.9 384.9h0M194.1 385.7h0M195.4 381.5h0M196.1 380.3h0M203.8 381.1h0M198.1 382.4h0M204.3 385.9h0M205.2 385.1h0M210.4 379.3h0M199.9 383.1h0M200.6 384.3h0M208.4 383.4h0M199.8 379.0h0M200.7 384.4h0M211.9 384.3h0M200.1 382.3h0M210.9 383.2h0M193.6 378.0h0M206.7 380.9h0M203.1 386.4h0M197.2 379.8h0M205.3 385.8h0M210.5 378.9h0M209.3 384.9h0M194.5 382.6h0M205.8 373.7h0M199.6 384.1h0M208.8 379.9h0M211.1 375.6h0M205.6 379.2h0M191.7 383.7h0M202.5 380.7h0M193.0 381.6h0M201.0 385.1h0M210.0 380.6h0M211.0 386.4h0M198.0 382.8h0M211.0 379.3h0M204.2 380.3h0M198.4 379.1h0M209.3 383.4h0M198.2 383.7h0M209.6 380.8h0M207.2 379.2h0M211.8 381.6h0M193.9 381.7h0M212.2 374.7h0M207.7 380.3h0M195.5 379.1h0M193.6 379.6h0M202.6 380.9h0M199.3 379.8h0M208.7 376.8h0M201.5 377.3h0M209.8 382.4h0M194.6 380.4h0M191.6 376.0h0M200.5 381.2h0M200.0 379.6h0M206.9 386.1h0M208.0 386.0h0M208.1 382.4h0M193.8 384.4h0M200.2 379.9h0M212.3 381.5h0M211.1 383.9h0M195.0 386.2h0M204.3 386.3h0M194.2 386.2h0M200.1 384.0h0M208.4 383.9h0M200.5 380.1h0M204.7 376.4h0M200.9 378.7h0M196.9 379.4h0M203.2 383.3h0M212.3 381.7h0M208.8 378.6h0M204.7 378.9h0M193.3 380.1h0M194.3 385.4h0M203.9 381.4h0M198.9 381.8h0M201.0 383.0h0M200.3 384.2h0M202.5 381.1h0M208.8 383.4h0M202.3 379.9h0M201.0 384.2h0M198.2 384.1h0M206.4 383.7h0M201.7 381.2h0M195.9 379.6h0M208.2 379.9h0M191.8 384.4h0M202.1 383.1h0M211.9 384.6h0M200.3 382.6h0M210.5 385.1h0M196.8 381.2h0M199.2 384.2h0M210.2 385.7h0M197.0 382.8h0M194.8 383.2h0M201.6 384.1h0M196.2 380.5h0M203.6 381.5h0M194.6 384.8h0M192.1 385.5h0M203.2 380.2h0M203.1 380.0h0M192.3 386.2h0M193.5 381.1h0M191.8 385.9h0M198.2 379.0h0M203.4 383.8h0M191.6 384.4h0M205.6 379.7h0M198.2 384.9h0M211.8 383.5h0M193.2 379.0h0M207.1 379.4h0M207.6 384.9h0M202.9 380.7h0M211.8 385.6h0M196.9 379.7h0M198.6 379.2h0M194.7 383.5h0M193.9 380.6h0M203.4 377.9h0M212.5 379.8h0M208.1 386.1h0M211.2 383.0h0M191.9 379.6h0M201.1 380.3h0M192.5 384.7h0M196.1 385.4h0M204.4 386.0h0M191.9 384.3h0M191.8 380.9h0M197.9 379.8h0M203.2 380.3h0M197.3 381.3h0M204.7 382.9h0M211.3 384.0h0M195.4 376.8h0M206.0 386.1h0M195.8 384.7h0M209.5 382.8h0M204.2 382.3h0M207.3 383.1h0M197.7 369.2h0M199.9 381.7h0M199.3 386.4h0M197.6 380.1h0M202.9 384.2h0M106.4 386.4h0M88.6 382.2h0M94.8 382.2h0M110.8 380.5h0M100.4 379.4h0M187.1 383.8h0M184.4 386.1h0M187.7 386.6h0M203.2 363.2h0M116.9 371.0h0M139.9 375.2h0M168.0 357.2h0M88.5 349.4h0M157.1 375.8h0M205.2 362.0h0M211.4 371.7h0M165.4 377.9h0M154.2 379.9h0M173.1 377.9h0M194.5 376.8h0M180.5 376.3h0M202.9 367.7h0M86.5 380.6h0M180.7 374.4h0M146.9 373.7h0M211.5 377.7h0" stroke="#45a047" stroke-width="1.8" stroke-linecap="round" fill="none"/>
<path d="M186.7 369.8h0M198.1 375.8h0M157.5 380.6h0M168.0 379.4h0M124.8 378.0h0M143.3 376.2h0M199.0 375.2h0M124.9 355.4h0M199.3 379.8h0M92.7 377.4h0M152.0 375.7h0M166.3 381.1h0M95.1 374.8h0M88.8 378.0h0M246.2 338.7h0M318.0 332.3h0M255.4 323.8h0M265.7 349.8h0" stroke="#e0695c" stroke-width="1.8" stroke-linecap="round" fill="none"/>
<path d="M263.5 268.0h0M57.6 340.7h0" stroke="#9fb3a0" stroke-width="1.7" stroke-linecap="round" fill="none"/>
<line x1="227.5" y1="230.6" x2="272" y2="232.8" stroke="#111" stroke-width="1.2"/>
<line x1="67.5" y1="272.5" x2="57.0" y2="336.3" stroke="#111" stroke-width="1.2"/>
<line x1="372.6" y1="258.6" x2="389" y2="303" stroke="#111" stroke-width="1.2"/>
<line x1="258.3" y1="305" x2="242.3" y2="366" stroke="#111" stroke-width="1.2"/>
<line x1="215.6" y1="318.8" x2="238.5" y2="371.7" stroke="#111" stroke-width="1.2"/>
<line x1="99.2" y1="355.8" x2="89.6" y2="375" stroke="#111" stroke-width="1.2"/>
<text class="ann" x="98.5" y="232.3">Low <tspan class="i">TJP1</tspan> expression, pan-cancer</text><text class="ann" x="98.5" y="242.9">AZD1775 Emax</text>
<text class="ann" x="48.5" y="257.8"><tspan class="i">MYC</tspan> mutation, pan-cancer</text><text class="ann" x="48.5" y="268.40000000000003">AZD5991 + AZ-3202 combo Emax</text>
<text class="ann" x="226.6" y="252.8">Low <tspan class="i">FAT1</tspan> expression, high <tspan class="i">PIK3CG</tspan> expression</text><text class="ann" x="226.6" y="263.40000000000003"><tspan class="i">KRAS</tspan> mut basket AZD5991 Emax</text>
<text class="ann" x="197.5" y="287.8">High <tspan class="i">MCL1</tspan>,expression <tspan class="i">BRAF</tspan> mut basket</text><text class="ann" x="197.5" y="298.40000000000003">Venetoclax + AZD2811 Bliss matrix</text>
<text class="ann" x="73.5" y="312.8">High <tspan class="i">BCL2A1</tspan> expression, <tspan class="i">PIK3CA</tspan> mut basket</text><text class="ann" x="73.5" y="323.40000000000003">Venetoclax + AZD2811 Bliss matrix</text>
<text class="ann" x="73.5" y="342.8">Low <tspan class="i">ZEB1</tspan> or <tspan class="i">MKI67</tspan> expression</text><text class="ann" x="73.5" y="353.40000000000003">Melanoma prexasertib Emax</text>
<circle cx="420.8" cy="241.8" r="3.2" fill="#cccccc"/>
<circle cx="420.8" cy="268" r="3.2" fill="#de6b5f"/>
<circle cx="420.8" cy="292.8" r="3.2" fill="#a8912f"/>
<circle cx="420.8" cy="315" r="3.2" fill="#469a48"/>
<text x="428.8" y="244.6">Nonsignificant</text>
<text x="428.8" y="271.2">Cancer type</text>
<text x="428.8" y="295.8">Pan-cancer</text>
<text x="428.8" y="317.7">Molecular</text>
<text x="428.8" y="327.4">baskets</text>
</g>
<g id="panelD">
<text class="lbl" x="0.8" y="463.9">D</text>
<rect x="14.2" y="456.2" width="503.7" height="17.6" fill="#4f4f4f"/>
<rect x="14.2" y="473.8" width="117.6" height="417.0" fill="#fff"/>
<rect x="131.8" y="473.8" width="386.1" height="417.0" fill="#a9a9a9"/>
<rect x="174.7" y="473.80" width="42.9" height="13.45" fill="#f3919a"/>
<text class="st" x="196.2" y="481.5" letter-spacing="0.25">★★</text>
<rect x="260.5" y="473.80" width="42.9" height="13.45" fill="#e8212d"/>
<text class="st" x="281.9" y="481.5" letter-spacing="0.25">★★★</text>
<rect x="303.4" y="473.80" width="42.9" height="13.45" fill="#fbd4d4"/>
<text class="st" x="324.9" y="481.5" letter-spacing="0.25">★</text>
<rect x="346.3" y="473.80" width="42.9" height="13.45" fill="#fbd4d4"/>
<text class="st" x="367.8" y="481.5" letter-spacing="0.25">★</text>
<rect x="389.2" y="473.80" width="42.9" height="13.45" fill="#fbd4d4"/>
<text class="st" x="410.6" y="481.5" letter-spacing="0.25">★</text>
<text x="17.6" y="483.8">Allograft rejection</text>
<rect x="260.5" y="487.25" width="42.9" height="13.45" fill="#fbd4d4"/>
<text class="st" x="281.9" y="495.0" letter-spacing="0.25">★</text>
<rect x="346.3" y="487.25" width="42.9" height="13.45" fill="#fbd4d4"/>
<text class="st" x="367.8" y="495.0" letter-spacing="0.25">★</text>
<text x="17.6" y="497.2">Androgen response</text>
<rect x="174.7" y="500.70" width="42.9" height="13.45" fill="#f3919a"/>
<text class="st" x="196.2" y="508.5" letter-spacing="0.25">★★</text>
<rect x="217.6" y="500.70" width="42.9" height="13.45" fill="#f3919a"/>
<text class="st" x="239.1" y="508.5" letter-spacing="0.25">★★</text>
<rect x="260.5" y="500.70" width="42.9" height="13.45" fill="#e8212d"/>
<text class="st" x="281.9" y="508.5" letter-spacing="0.25">★★★</text>
<rect x="346.3" y="500.70" width="42.9" height="13.45" fill="#e8212d"/>
<text class="st" x="367.8" y="508.5" letter-spacing="0.25">★★★</text>
<text x="17.6" y="510.6">Apical junction</text>
<rect x="217.6" y="514.15" width="42.9" height="13.45" fill="#fbd4d4"/>
<text class="st" x="239.1" y="522.0" letter-spacing="0.25">★</text>
<rect x="346.3" y="514.15" width="42.9" height="13.45" fill="#e8212d"/>
<text class="st" x="367.8" y="522.0" letter-spacing="0.25">★★★</text>
<text x="17.6" y="524.0">Apical surface</text>
<rect x="131.8" y="527.61" width="42.9" height="13.45" fill="#fbd4d4"/>
<text class="st" x="153.2" y="535.5" letter-spacing="0.25">★</text>
<rect x="174.7" y="527.61" width="42.9" height="13.45" fill="#e8212d"/>
<text class="st" x="196.2" y="535.5" letter-spacing="0.25">★★★</text>
<rect x="217.6" y="527.61" width="42.9" height="13.45" fill="#e8212d"/>
<text class="st" x="239.1" y="535.5" letter-spacing="0.25">★</text>
<rect x="260.5" y="527.61" width="42.9" height="13.45" fill="#e8212d"/>
<text class="st" x="281.9" y="535.5" letter-spacing="0.25">★★★</text>
<rect x="303.4" y="527.61" width="42.9" height="13.45" fill="#fbd4d4"/>
<text class="st" x="324.9" y="535.5" letter-spacing="0.25">★</text>
<rect x="346.3" y="527.61" width="42.9" height="13.45" fill="#e8212d"/>
<text class="st" x="367.8" y="535.5" letter-spacing="0.25">★★★</text>
<rect x="389.2" y="527.61" width="42.9" height="13.45" fill="#f3919a"/>
<text class="st" x="410.6" y="535.5" letter-spacing="0.25">★★</text>
<rect x="432.1" y="527.61" width="42.9" height="13.45" fill="#fbd4d4"/>
<text class="st" x="453.6" y="535.5" letter-spacing="0.25">★</text>
<text x="17.6" y="537.4">Apoptosis</text>
<rect x="131.8" y="541.06" width="42.9" height="13.45" fill="#fbd4d4"/>
<text class="st" x="153.2" y="548.9" letter-spacing="0.25">★</text>
<rect x="260.5" y="541.06" width="42.9" height="13.45" fill="#fbd4d4"/>
<text class="st" x="281.9" y="548.9" letter-spacing="0.25">★</text>
<rect x="432.1" y="541.06" width="42.9" height="13.45" fill="#fbd4d4"/>
<text class="st" x="453.6" y="548.9" letter-spacing="0.25">★</text>
<text x="17.6" y="550.8">Complement</text>
<rect x="131.8" y="554.51" width="42.9" height="13.45" fill="#fbd4d4"/>
<text class="st" x="153.2" y="562.4" letter-spacing="0.25">★</text>
<text x="17.6" y="564.2">DNA repair</text>
<rect x="131.8" y="567.96" width="42.9" height="13.45" fill="#fbd4d4"/>
<text class="st" x="153.2" y="575.9" letter-spacing="0.25">★</text>
<rect x="174.7" y="567.96" width="42.9" height="13.45" fill="#fbd4d4"/>
<text class="st" x="196.2" y="575.9" letter-spacing="0.25">★</text>
<rect x="217.6" y="567.96" width="42.9" height="13.45" fill="#f3919a"/>
<text class="st" x="239.1" y="575.9" letter-spacing="0.25">★★</text>
<rect x="260.5" y="567.96" width="42.9" height="13.45" fill="#e8212d"/>
<text class="st" x="281.9" y="575.9" letter-spacing="0.25">★★★</text>
<rect x="303.4" y="567.96" width="42.9" height="13.45" fill="#fbd4d4"/>
<text class="st" x="324.9" y="575.9" letter-spacing="0.25">★</text>
<rect x="346.3" y="567.96" width="42.9" height="13.45" fill="#e8212d"/>
<text class="st" x="367.8" y="575.9" letter-spacing="0.25">★★★</text>
<rect x="389.2" y="567.96" width="42.9" height="13.45" fill="#e8212d"/>
<text class="st" x="410.6" y="575.9" letter-spacing="0.25">★★★</text>
<rect x="432.1" y="567.96" width="42.9" height="13.45" fill="#fbd4d4"/>
<text class="st" x="453.6" y="575.9" letter-spacing="0.25">★</text>
<text x="17.6" y="577.6">E2F targets</text>
<rect x="174.7" y="581.41" width="42.9" height="13.45" fill="#fbd4d4"/>
<text class="st" x="196.2" y="589.4" letter-spacing="0.25">★</text>
<rect x="217.6" y="581.41" width="42.9" height="13.45" fill="#f3919a"/>
<text class="st" x="239.1" y="589.4" letter-spacing="0.25">★★</text>
<rect x="260.5" y="581.41" width="42.9" height="13.45" fill="#e8212d"/>
<text class="st" x="281.9" y="589.4" letter-spacing="0.25">★★★</text>
<rect x="346.3" y="581.41" width="42.9" height="13.45" fill="#fbd4d4"/>
<text class="st" x="367.8" y="589.4" letter-spacing="0.25">★</text>
<text x="17.6" y="590.9" textLength="111.5" lengthAdjust="spacingAndGlyphs">Epithelial mesenchymal transition</text>
<rect x="174.7" y="594.86" width="42.9" height="13.45" fill="#e8212d"/>
<text class="st" x="196.2" y="602.9" letter-spacing="0.25">★★★</text>
<rect x="217.6" y="594.86" width="42.9" height="13.45" fill="#f3919a"/>
<text class="st" x="239.1" y="602.9" letter-spacing="0.25">★★</text>
<rect x="260.5" y="594.86" width="42.9" height="13.45" fill="#e8212d"/>
<text class="st" x="281.9" y="602.9" letter-spacing="0.25">★★★</text>
<rect x="346.3" y="594.86" width="42.9" height="13.45" fill="#e8212d"/>
<text class="st" x="367.8" y="602.9" letter-spacing="0.25">★★★</text>
<rect x="389.2" y="594.86" width="42.9" height="13.45" fill="#fbd4d4"/>
<text class="st" x="410.6" y="602.9" letter-spacing="0.25">★</text>
<rect x="432.1" y="594.86" width="42.9" height="13.45" fill="#fbd4d4"/>
<text class="st" x="453.6" y="602.9" letter-spacing="0.25">★</text>
<text x="17.6" y="604.3">Estrogen response early</text>
<rect x="174.7" y="608.32" width="42.9" height="13.45" fill="#fbd4d4"/>
<text class="st" x="196.2" y="616.3" letter-spacing="0.25">★</text>
<rect x="217.6" y="608.32" width="42.9" height="13.45" fill="#f3919a"/>
<text class="st" x="239.1" y="616.3" letter-spacing="0.25">★★</text>
<rect x="260.5" y="608.32" width="42.9" height="13.45" fill="#e8212d"/>
<text class="st" x="281.9" y="616.3" letter-spacing="0.25">★★★</text>
<rect x="346.3" y="608.32" width="42.9" height="13.45" fill="#fbd4d4"/>
<text class="st" x="367.8" y="616.3" letter-spacing="0.25">★</text>
<rect x="389.2" y="608.32" width="42.9" height="13.45" fill="#fbd4d4"/>
<text class="st" x="410.6" y="616.3" letter-spacing="0.25">★</text>
<text x="17.6" y="617.7">Estrogen response late</text>
<rect x="217.6" y="621.77" width="42.9" height="13.45" fill="#e8212d"/>
<text class="st" x="239.1" y="629.8" letter-spacing="0.25">★★★</text>
<rect x="260.5" y="621.77" width="42.9" height="13.45" fill="#e8212d"/>
<text class="st" x="281.9" y="629.8" letter-spacing="0.25">★★★</text>
<rect x="346.3" y="621.77" width="42.9" height="13.45" fill="#f3919a"/>
<text class="st" x="367.8" y="629.8" letter-spacing="0.25">★★</text>
<text x="17.6" y="631.1">G2-M checkpoint</text>
<rect x="174.7" y="635.22" width="42.9" height="13.45" fill="#f3919a"/>
<text class="st" x="196.2" y="643.3" letter-spacing="0.25">★★</text>
<rect x="217.6" y="635.22" width="42.9" height="13.45" fill="#f3919a"/>
<text class="st" x="239.1" y="643.3" letter-spacing="0.25">★★</text>
<rect x="260.5" y="635.22" width="42.9" height="13.45" fill="#f3919a"/>
<text class="st" x="281.9" y="643.3" letter-spacing="0.25">★★</text>
<rect x="346.3" y="635.22" width="42.9" height="13.45" fill="#fbd4d4"/>
<text class="st" x="367.8" y="643.3" letter-spacing="0.25">★</text>
<text x="17.6" y="644.5">Glycolysis</text>
<rect x="174.7" y="648.67" width="42.9" height="13.45" fill="#e8212d"/>
<text class="st" x="196.2" y="656.8" letter-spacing="0.25">★★★</text>
<rect x="217.6" y="648.67" width="42.9" height="13.45" fill="#e8212d"/>
<text class="st" x="239.1" y="656.8" letter-spacing="0.25">★★★</text>
<rect x="260.5" y="648.67" width="42.9" height="13.45" fill="#e8212d"/>
<text class="st" x="281.9" y="656.8" letter-spacing="0.25">★★★</text>
<rect x="346.3" y="648.67" width="42.9" height="13.45" fill="#fbd4d4"/>
<text class="st" x="367.8" y="656.8" letter-spacing="0.25">★</text>
<rect x="432.1" y="648.67" width="42.9" height="13.45" fill="#fbd4d4"/>
<text class="st" x="453.6" y="656.8" letter-spacing="0.25">★</text>
<text x="17.6" y="657.9">Hypoxia</text>
<rect x="131.8" y="662.12" width="42.9" height="13.45" fill="#f3919a"/>
<text class="st" x="153.2" y="670.3" letter-spacing="0.25">★★</text>
<rect x="260.5" y="662.12" width="42.9" height="13.45" fill="#e8212d"/>
<text class="st" x="281.9" y="670.3" letter-spacing="0.25">★★★</text>
<rect x="346.3" y="662.12" width="42.9" height="13.45" fill="#f3919a"/>
<text class="st" x="367.8" y="670.3" letter-spacing="0.25">★★</text>
<text x="17.6" y="671.3">IL2/STAT5 signaling</text>
<rect x="260.5" y="675.57" width="42.9" height="13.45" fill="#fbd4d4"/>
<text class="st" x="281.9" y="683.8" letter-spacing="0.25">★</text>
<rect x="303.4" y="675.57" width="42.9" height="13.45" fill="#fbd4d4"/>
<text class="st" x="324.9" y="683.8" letter-spacing="0.25">★</text>
<rect x="346.3" y="675.57" width="42.9" height="13.45" fill="#fbd4d4"/>
<text class="st" x="367.8" y="683.8" letter-spacing="0.25">★</text>
<text x="17.6" y="684.7">IL6/JAK/STAT3 signaling</text>
<rect x="346.3" y="689.03" width="42.9" height="13.45" fill="#fbd4d4"/>
<text class="st" x="367.8" y="697.2" letter-spacing="0.25">★</text>
<text x="17.6" y="698.1">Inflammatory response</text>
<rect x="174.7" y="702.48" width="42.9" height="13.45" fill="#f3919a"/>
<text class="st" x="196.2" y="710.7" letter-spacing="0.25">★★</text>
<rect x="217.6" y="702.48" width="42.9" height="13.45" fill="#fbd4d4"/>
<text class="st" x="239.1" y="710.7" letter-spacing="0.25">★</text>
<rect x="260.5" y="702.48" width="42.9" height="13.45" fill="#fbd4d4"/>
<text class="st" x="281.9" y="710.7" letter-spacing="0.25">★</text>
<rect x="303.4" y="702.48" width="42.9" height="13.45" fill="#fbd4d4"/>
<text class="st" x="324.9" y="710.7" letter-spacing="0.25">★</text>
<rect x="346.3" y="702.48" width="42.9" height="13.45" fill="#e8212d"/>
<text class="st" x="367.8" y="710.7" letter-spacing="0.25">★★★</text>
<rect x="432.1" y="702.48" width="42.9" height="13.45" fill="#f3919a"/>
<text class="st" x="453.6" y="710.7" letter-spacing="0.25">★★</text>
<text x="17.6" y="711.5">KRAS signaling up</text>
<rect x="260.5" y="715.93" width="42.9" height="13.45" fill="#e8212d"/>
<text class="st" x="281.9" y="724.2" letter-spacing="0.25">★★★</text>
<rect x="346.3" y="715.93" width="42.9" height="13.45" fill="#e8212d"/>
<text class="st" x="367.8" y="724.2" letter-spacing="0.25">★★★</text>
<rect x="432.1" y="715.93" width="42.9" height="13.45" fill="#fbd4d4"/>
<text class="st" x="453.6" y="724.2" letter-spacing="0.25">★</text>
<text x="17.6" y="724.9">Mitotic spindle</text>
<rect x="131.8" y="729.38" width="42.9" height="13.45" fill="#fbd4d4"/>
<text class="st" x="153.2" y="737.7" letter-spacing="0.25">★</text>
<text x="17.6" y="738.3">Myc targets V1</text>
<rect x="174.7" y="742.83" width="42.9" height="13.45" fill="#f3919a"/>
<text class="st" x="196.2" y="751.2" letter-spacing="0.25">★★</text>
<rect x="346.3" y="742.83" width="42.9" height="13.45" fill="#f3919a"/>
<text class="st" x="367.8" y="751.2" letter-spacing="0.25">★★</text>
<text x="17.6" y="751.7">Myogenesis</text>
<rect x="174.7" y="756.28" width="42.9" height="13.45" fill="#f3919a"/>
<text class="st" x="196.2" y="764.6" letter-spacing="0.25">★★</text>
<text x="17.6" y="765.1">Notch signaling</text>
<rect x="131.8" y="769.74" width="42.9" height="13.45" fill="#f3919a"/>
<text class="st" x="153.2" y="778.1" letter-spacing="0.25">★★</text>
<rect x="174.7" y="769.74" width="42.9" height="13.45" fill="#e8212d"/>
<text class="st" x="196.2" y="778.1" letter-spacing="0.25">★★★</text>
<rect x="217.6" y="769.74" width="42.9" height="13.45" fill="#e8212d"/>
<text class="st" x="239.1" y="778.1" letter-spacing="0.25">★★★</text>
<rect x="260.5" y="769.74" width="42.9" height="13.45" fill="#e8212d"/>
<text class="st" x="281.9" y="778.1" letter-spacing="0.25">★★★</text>
<rect x="303.4" y="769.74" width="42.9" height="13.45" fill="#f3919a"/>
<text class="st" x="324.9" y="778.1" letter-spacing="0.25">★★</text>
<rect x="346.3" y="769.74" width="42.9" height="13.45" fill="#e8212d"/>
<text class="st" x="367.8" y="778.1" letter-spacing="0.25">★★★</text>
<rect x="389.2" y="769.74" width="42.9" height="13.45" fill="#e8212d"/>
<text class="st" x="410.6" y="778.1" letter-spacing="0.25">★★★</text>
<rect x="432.1" y="769.74" width="42.9" height="13.45" fill="#f3919a"/>
<text class="st" x="453.6" y="778.1" letter-spacing="0.25">★★</text>
<text x="17.6" y="778.4">p53 pathway</text>
<rect x="174.7" y="783.19" width="42.9" height="13.45" fill="#e8212d"/>
<text class="st" x="196.2" y="791.6" letter-spacing="0.25">★★★</text>
<rect x="217.6" y="783.19" width="42.9" height="13.45" fill="#e8212d"/>
<text class="st" x="239.1" y="791.6" letter-spacing="0.25">★★★</text>
<rect x="260.5" y="783.19" width="42.9" height="13.45" fill="#e8212d"/>
<text class="st" x="281.9" y="791.6" letter-spacing="0.25">★★★</text>
<rect x="303.4" y="783.19" width="42.9" height="13.45" fill="#fbd4d4"/>
<text class="st" x="324.9" y="791.6" letter-spacing="0.25">★</text>
<rect x="346.3" y="783.19" width="42.9" height="13.45" fill="#fbd4d4"/>
<text x="17.6" y="791.8">PI3K/AKT/mTOR signaling</text>
<text x="17.6" y="805.2">Protein secretion</text>
<rect x="131.8" y="810.09" width="42.9" height="13.45" fill="#f3919a"/>
<text class="st" x="153.2" y="818.6" letter-spacing="0.25">★★</text>
<rect x="174.7" y="810.09" width="42.9" height="13.45" fill="#fbd4d4"/>
<text class="st" x="196.2" y="818.6" letter-spacing="0.25">★</text>
<rect x="217.6" y="810.09" width="42.9" height="13.45" fill="#e8212d"/>
<text class="st" x="239.1" y="818.6" letter-spacing="0.25">★★★</text>
<rect x="260.5" y="810.09" width="42.9" height="13.45" fill="#e8212d"/>
<text class="st" x="281.9" y="818.6" letter-spacing="0.25">★★★</text>
<rect x="346.3" y="810.09" width="42.9" height="13.45" fill="#e8212d"/>
<text class="st" x="367.8" y="818.6" letter-spacing="0.25">★★★</text>
<rect x="432.1" y="810.09" width="42.9" height="13.45" fill="#f3919a"/>
<text class="st" x="453.6" y="818.6" letter-spacing="0.25">★★</text>
<text x="17.6" y="818.6">TGF-beta signaling</text>
<rect x="131.8" y="823.54" width="42.9" height="13.45" fill="#fbd4d4"/>
<text class="st" x="153.2" y="832.0" letter-spacing="0.25">★</text>
<rect x="174.7" y="823.54" width="42.9" height="13.45" fill="#f3919a"/>
<text class="st" x="196.2" y="832.0" letter-spacing="0.25">★★</text>
<rect x="217.6" y="823.54" width="42.9" height="13.45" fill="#e8212d"/>
<text class="st" x="239.1" y="832.0" letter-spacing="0.25">★★★</text>
<rect x="260.5" y="823.54" width="42.9" height="13.45" fill="#e8212d"/>
<text class="st" x="281.9" y="832.0" letter-spacing="0.25">★★★</text>
<rect x="346.3" y="823.54" width="42.9" height="13.45" fill="#e8212d"/>
<text class="st" x="367.8" y="832.0" letter-spacing="0.25">★★★</text>
<text x="17.6" y="832.0">TNF-alpha signaling via NF-kB</text>
<rect x="260.5" y="836.99" width="42.9" height="13.45" fill="#fbd4d4"/>
<text class="st" x="281.9" y="845.5" letter-spacing="0.25">★</text>
<text x="17.6" y="845.4">Unfolded protein response</text>
<rect x="174.7" y="850.45" width="42.9" height="13.45" fill="#fbd4d4"/>
<text class="st" x="196.2" y="859.0" letter-spacing="0.25">★</text>
<rect x="217.6" y="850.45" width="42.9" height="13.45" fill="#e8212d"/>
<text class="st" x="239.1" y="859.0" letter-spacing="0.25">★★★</text>
<rect x="260.5" y="850.45" width="42.9" height="13.45" fill="#e8212d"/>
<text class="st" x="281.9" y="859.0" letter-spacing="0.25">★★★</text>
<rect x="346.3" y="850.45" width="42.9" height="13.45" fill="#f3919a"/>
<text class="st" x="367.8" y="859.0" letter-spacing="0.25">★★</text>
<text x="17.6" y="858.8">UV response down</text>
<rect x="217.6" y="863.90" width="42.9" height="13.45" fill="#fbd4d4"/>
<text class="st" x="239.1" y="872.5" letter-spacing="0.25">★</text>
<rect x="260.5" y="863.90" width="42.9" height="13.45" fill="#e8212d"/>
<text class="st" x="281.9" y="872.5" letter-spacing="0.25">★★★</text>
<rect x="303.4" y="863.90" width="42.9" height="13.45" fill="#fbd4d4"/>
<text class="st" x="324.9" y="872.5" letter-spacing="0.25">★</text>
<rect x="346.3" y="863.90" width="42.9" height="13.45" fill="#fbd4d4"/>
<text class="st" x="367.8" y="872.5" letter-spacing="0.25">★</text>
<rect x="432.1" y="863.90" width="42.9" height="13.45" fill="#f3919a"/>
<text class="st" x="453.6" y="872.5" letter-spacing="0.25">★★</text>
<text x="17.6" y="872.2">UV response up</text>
<rect x="131.8" y="877.35" width="42.9" height="13.45" fill="#f3919a"/>
<text class="st" x="153.2" y="886.0" letter-spacing="0.25">★★</text>
<rect x="303.4" y="877.35" width="42.9" height="13.45" fill="#fbd4d4"/>
<text class="st" x="324.9" y="886.0" letter-spacing="0.25">★</text>
<rect x="346.3" y="877.35" width="42.9" height="13.45" fill="#f3919a"/>
<text class="st" x="367.8" y="886.0" letter-spacing="0.25">★★</text>
<rect x="432.1" y="877.35" width="42.9" height="13.45" fill="#fbd4d4"/>
<text class="st" x="453.6" y="886.0" letter-spacing="0.25">★</text>
<text x="17.6" y="885.6">Wnt-beta catenin signaling</text>
<path d="M14.2 473.80H517.9M14.2 487.25H517.9M14.2 500.70H517.9M14.2 514.15H517.9M14.2 527.61H517.9M14.2 541.06H517.9M14.2 554.51H517.9M14.2 567.96H517.9M14.2 581.41H517.9M14.2 594.86H517.9M14.2 608.32H517.9M14.2 621.77H517.9M14.2 635.22H517.9M14.2 648.67H517.9M14.2 662.12H517.9M14.2 675.57H517.9M14.2 689.03H517.9M14.2 702.48H517.9M14.2 715.93H517.9M14.2 729.38H517.9M14.2 742.83H517.9M14.2 756.28H517.9M14.2 769.74H517.9M14.2 783.19H517.9M14.2 796.64H517.9M14.2 810.09H517.9M14.2 823.54H517.9M14.2 836.99H517.9M14.2 850.45H517.9M14.2 863.90H517.9M14.2 877.35H517.9M14.2 890.80H517.9M14.2 456.2H517.9M14.2 456.2V890.8M131.8 456.2V890.8M174.7 456.2V890.8M217.6 456.2V890.8M260.5 456.2V890.8M303.4 456.2V890.8M346.3 456.2V890.8M389.2 456.2V890.8M432.1 456.2V890.8M475.0 456.2V890.8M517.9 456.2V890.8" stroke="#1a1a1a" stroke-width="1" fill="none"/>
<text class="hd" x="68.8" y="468.6">Pathway</text>
<text class="hd" x="153.2" y="468.6">CD + CD</text>
<text class="hd" x="196.2" y="468.6" textLength="39.2" lengthAdjust="spacingAndGlyphs">DDR + DDR</text>
<text class="hd" x="239.1" y="468.6">CS + CS</text>
<text class="hd" x="281.9" y="468.6">CS + CD</text>
<text class="hd" x="324.9" y="468.6" textLength="37" lengthAdjust="spacingAndGlyphs">CS + DDR</text>
<text class="hd" x="367.8" y="468.6" textLength="36.5" lengthAdjust="spacingAndGlyphs">CD + DDR</text>
<text class="hs" x="410.6" y="462.9">CD +</text><text class="hs" x="410.6" y="471.4">chemo/other</text>
<text class="hs" x="453.6" y="462.9">DDR +</text><text class="hs" x="453.6" y="471.4">chemo/other</text>
<text class="hs" x="496.4" y="462.9">CS +</text><text class="hs" x="496.4" y="471.4">chemo/other</text>
</g>
</svg></body></html>
